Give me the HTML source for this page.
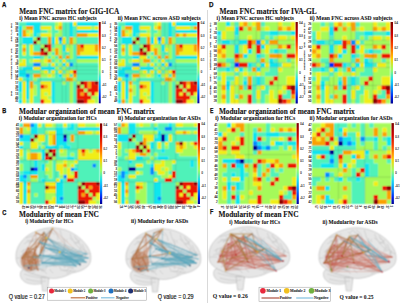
<!DOCTYPE html>
<html><head><meta charset="utf-8"><style>
html,body{margin:0;padding:0;background:#fff;width:400px;height:303px;overflow:hidden}
svg{display:block}
</style></head><body>
<svg xmlns="http://www.w3.org/2000/svg" width="400" height="303" viewBox="0 0 400 303">
<defs><filter id="mblur" x="-2%" y="-2%" width="104%" height="104%"><feConvolveMatrix order="3" kernelMatrix="1 2 1 2 4 2 1 2 1" divisor="16" edgeMode="none"/></filter><linearGradient id="jet" x1="0" y1="0" x2="0" y2="1"><stop offset="0" stop-color="#7a0000"/><stop offset="0.15" stop-color="#d00000"/><stop offset="0.3" stop-color="#ff5000"/><stop offset="0.45" stop-color="#ffd000"/><stop offset="0.58" stop-color="#a0ff60"/><stop offset="0.7" stop-color="#20e0f0"/><stop offset="0.82" stop-color="#0090ff"/><stop offset="0.92" stop-color="#0020f0"/><stop offset="1" stop-color="#000090"/></linearGradient></defs>
<rect width="400" height="303" fill="#fff"/>
<line x1="207.5" y1="10" x2="207.5" y2="303" stroke="#c8c8c8" stroke-width="0.7"/>
<text x="1.9" y="6.9" font-family="Liberation Sans" font-weight="bold" font-size="6.6" fill="#111" textLength="4.3" lengthAdjust="spacingAndGlyphs" stroke="#111" stroke-width="0.25">A</text>
<text x="2.2" y="112.5" font-family="Liberation Sans" font-weight="bold" font-size="6.6" fill="#111" textLength="4.0" lengthAdjust="spacingAndGlyphs" stroke="#111" stroke-width="0.25">B</text>
<text x="2.2" y="214.70000000000002" font-family="Liberation Sans" font-weight="bold" font-size="6.6" fill="#111" textLength="4.1" lengthAdjust="spacingAndGlyphs" stroke="#111" stroke-width="0.25">C</text>
<text x="209" y="6.9" font-family="Liberation Sans" font-weight="bold" font-size="6.6" fill="#111" textLength="4.5" lengthAdjust="spacingAndGlyphs" stroke="#111" stroke-width="0.25">D</text>
<text x="209.9" y="112.80000000000001" font-family="Liberation Sans" font-weight="bold" font-size="6.6" fill="#111" textLength="3.4" lengthAdjust="spacingAndGlyphs" stroke="#111" stroke-width="0.25">E</text>
<text x="210" y="214.4" font-family="Liberation Sans" font-weight="bold" font-size="6.6" fill="#111" textLength="3.3" lengthAdjust="spacingAndGlyphs" stroke="#111" stroke-width="0.25">F</text>
<text x="19.2" y="13.7" font-family="Liberation Serif" font-weight="bold" font-size="7.6" fill="#111" textLength="100" lengthAdjust="spacingAndGlyphs" stroke="#111" stroke-width="0.1">Mean FNC matrix for GIG-ICA</text>
<text x="219.6" y="13.7" font-family="Liberation Serif" font-weight="bold" font-size="7.6" fill="#111" textLength="97.2" lengthAdjust="spacingAndGlyphs" stroke="#111" stroke-width="0.1">Mean FNC matrix for IVA-GL</text>
<text x="19.0" y="114.3" font-family="Liberation Serif" font-weight="bold" font-size="7.6" fill="#111" textLength="135.7" lengthAdjust="spacingAndGlyphs" stroke="#111" stroke-width="0.1">Modular organization of mean FNC matrix</text>
<text x="218.9" y="114.3" font-family="Liberation Serif" font-weight="bold" font-size="7.6" fill="#111" textLength="135.8" lengthAdjust="spacingAndGlyphs" stroke="#111" stroke-width="0.1">Modular organization of mean FNC matrix</text>
<text x="19.0" y="216.6" font-family="Liberation Serif" font-weight="bold" font-size="7.6" fill="#111" textLength="79.8" lengthAdjust="spacingAndGlyphs" stroke="#111" stroke-width="0.1">Modularity of mean FNC</text>
<text x="218.5" y="216.6" font-family="Liberation Serif" font-weight="bold" font-size="7.6" fill="#111" textLength="80" lengthAdjust="spacingAndGlyphs" stroke="#111" stroke-width="0.1">Modularity of mean FNC</text>
<text x="19.2" y="19.900000000000002" font-family="Liberation Serif" font-weight="bold" font-size="5.3" fill="#111" textLength="77.5" lengthAdjust="spacingAndGlyphs" stroke="#111" stroke-width="0.06">i) Mean FNC across HC subjects</text>
<text x="117.7" y="19.900000000000002" font-family="Liberation Serif" font-weight="bold" font-size="5.3" fill="#111" textLength="82.9" lengthAdjust="spacingAndGlyphs" stroke="#111" stroke-width="0.06">ii) Mean FNC across ASD subjects</text>
<text x="216.6" y="19.900000000000002" font-family="Liberation Serif" font-weight="bold" font-size="5.3" fill="#111" textLength="77.4" lengthAdjust="spacingAndGlyphs" stroke="#111" stroke-width="0.06">i) Mean FNC across HC subjects</text>
<text x="309.7" y="19.900000000000002" font-family="Liberation Serif" font-weight="bold" font-size="5.3" fill="#111" textLength="82.8" lengthAdjust="spacingAndGlyphs" stroke="#111" stroke-width="0.06">ii) Mean FNC across ASD subjects</text>
<text x="18.7" y="120.3" font-family="Liberation Serif" font-weight="bold" font-size="5.3" fill="#111" textLength="78" lengthAdjust="spacingAndGlyphs" stroke="#111" stroke-width="0.06">i) Modular organization for HCs</text>
<text x="118" y="120.3" font-family="Liberation Serif" font-weight="bold" font-size="5.3" fill="#111" textLength="82.6" lengthAdjust="spacingAndGlyphs" stroke="#111" stroke-width="0.06">ii) Modular organization for ASDs</text>
<text x="215.2" y="120.3" font-family="Liberation Serif" font-weight="bold" font-size="5.3" fill="#111" textLength="80" lengthAdjust="spacingAndGlyphs" stroke="#111" stroke-width="0.06">i) Modular organization for HCs</text>
<text x="309.5" y="120.3" font-family="Liberation Serif" font-weight="bold" font-size="5.3" fill="#111" textLength="83" lengthAdjust="spacingAndGlyphs" stroke="#111" stroke-width="0.06">ii) Modular organization for ASDs</text>
<text x="25.2" y="223.4" font-family="Liberation Serif" font-weight="bold" font-size="5.3" fill="#111" textLength="48" lengthAdjust="spacingAndGlyphs" stroke="#111" stroke-width="0.06">i) Modularity for HCs</text>
<text x="131" y="223.4" font-family="Liberation Serif" font-weight="bold" font-size="5.3" fill="#111" textLength="57.2" lengthAdjust="spacingAndGlyphs" stroke="#111" stroke-width="0.06">ii) Modularity for ASDs</text>
<text x="229.3" y="223.5" font-family="Liberation Serif" font-weight="bold" font-size="5.3" fill="#111" textLength="50.7" lengthAdjust="spacingAndGlyphs" stroke="#111" stroke-width="0.06">i) Modularity for HCs</text>
<text x="322.4" y="223.5" font-family="Liberation Serif" font-weight="bold" font-size="5.3" fill="#111" textLength="55.2" lengthAdjust="spacingAndGlyphs" stroke="#111" stroke-width="0.06">ii) Modularity for ASDs</text>
<g filter="url(#mblur)">
<path fill="#50f2b9" d="M18.80 22.30h7.24v3.68h-7.24zM40.51 22.30h14.47v3.68h-14.47zM62.22 22.30h7.24v3.68h-7.24zM51.36 25.98h3.62v3.68h-3.62zM62.22 25.98h7.24v3.68h-7.24zM73.07 25.98h3.62v3.68h-3.62zM40.51 29.65h7.24v3.68h-7.24zM51.36 29.65h7.24v3.68h-7.24zM62.22 29.65h7.24v3.68h-7.24zM73.07 29.65h3.62v3.68h-3.62zM36.89 33.33h3.62v3.68h-3.62zM51.36 33.33h3.62v3.68h-3.62zM62.22 33.33h7.24v3.68h-7.24zM73.07 33.33h3.62v3.68h-3.62zM18.80 37.01h3.62v3.68h-3.62zM40.51 37.01h7.24v3.68h-7.24zM65.84 37.01h3.62v3.68h-3.62zM76.69 37.01h21.71v3.68h-21.71zM18.80 40.69h3.62v3.68h-3.62zM40.51 40.69h7.24v3.68h-7.24zM65.84 40.69h3.62v3.68h-3.62zM76.69 40.69h21.71v3.68h-21.71zM18.80 44.36h3.62v3.68h-3.62zM26.04 44.36h3.62v3.68h-3.62zM33.27 44.36h7.24v3.68h-7.24zM51.36 44.36h3.62v3.68h-3.62zM73.07 44.36h3.62v3.68h-3.62zM18.80 48.04h3.62v3.68h-3.62zM26.04 48.04h3.62v3.68h-3.62zM33.27 48.04h7.24v3.68h-7.24zM73.07 48.04h3.62v3.68h-3.62zM18.80 51.72h3.62v3.68h-3.62zM26.04 51.72h3.62v3.68h-3.62zM51.36 51.72h3.62v3.68h-3.62zM62.22 51.72h7.24v3.68h-7.24zM73.07 51.72h3.62v3.68h-3.62zM18.80 55.40h14.47v3.68h-14.47zM40.51 55.40h3.62v3.68h-3.62zM47.75 55.40h3.62v3.68h-3.62zM54.98 55.40h3.62v3.68h-3.62zM62.22 55.40h3.62v3.68h-3.62zM73.07 55.40h3.62v3.68h-3.62zM26.04 59.07h3.62v3.68h-3.62zM51.36 59.07h3.62v3.68h-3.62zM58.60 59.07h3.62v3.68h-3.62zM65.84 59.07h10.85v3.68h-10.85zM26.04 62.75h7.24v3.68h-7.24zM47.75 62.75h3.62v3.68h-3.62zM54.98 62.75h3.62v3.68h-3.62zM73.07 62.75h25.33v3.68h-25.33zM18.80 66.43h3.62v3.68h-3.62zM58.60 66.43h3.62v3.68h-3.62zM65.84 66.43h32.56v3.68h-32.56zM26.04 70.10h14.47v3.68h-14.47zM47.75 70.10h3.62v3.68h-3.62zM54.98 70.10h3.62v3.68h-3.62zM62.22 70.10h3.62v3.68h-3.62zM76.69 70.10h21.71v3.68h-21.71zM29.65 73.78h3.62v3.68h-3.62zM54.98 73.78h3.62v3.68h-3.62zM69.45 73.78h3.62v3.68h-3.62zM76.69 73.78h21.71v3.68h-21.71zM22.42 77.46h3.62v3.68h-3.62zM29.65 77.46h3.62v3.68h-3.62zM36.89 77.46h28.95v3.68h-28.95zM76.69 77.46h21.71v3.68h-21.71zM33.27 81.14h7.24v3.68h-7.24zM54.98 81.14h7.24v3.68h-7.24zM65.84 81.14h3.62v3.68h-3.62zM73.07 81.14h3.62v3.68h-3.62zM36.89 84.81h3.62v3.68h-3.62zM54.98 84.81h14.47v3.68h-14.47zM73.07 84.81h3.62v3.68h-3.62zM36.89 88.49h3.62v3.68h-3.62zM54.98 88.49h14.47v3.68h-14.47zM73.07 88.49h3.62v3.68h-3.62zM18.80 92.17h3.62v3.68h-3.62zM36.89 92.17h3.62v3.68h-3.62zM54.98 92.17h14.47v3.68h-14.47zM73.07 92.17h3.62v3.68h-3.62zM18.80 95.85h3.62v3.68h-3.62zM33.27 95.85h7.24v3.68h-7.24zM54.98 95.85h14.47v3.68h-14.47zM73.07 95.85h3.62v3.68h-3.62zM26.04 99.52h3.62v3.68h-3.62zM33.27 99.52h7.24v3.68h-7.24zM54.98 99.52h14.47v3.68h-14.47zM73.07 99.52h3.62v3.68h-3.62z"/>
<path fill="#0ae6ee" d="M26.04 22.30h14.47v3.68h-14.47zM69.45 22.30h3.62v3.68h-3.62zM76.69 22.30h21.71v3.68h-21.71zM18.80 25.98h3.62v3.68h-3.62zM33.27 25.98h7.24v3.68h-7.24zM69.45 25.98h3.62v3.68h-3.62zM18.80 29.65h3.62v3.68h-3.62zM33.27 29.65h7.24v3.68h-7.24zM69.45 29.65h3.62v3.68h-3.62zM76.69 29.65h21.71v3.68h-21.71zM18.80 33.33h3.62v3.68h-3.62zM33.27 33.33h3.62v3.68h-3.62zM69.45 33.33h3.62v3.68h-3.62zM22.42 37.01h10.85v3.68h-10.85zM51.36 37.01h3.62v3.68h-3.62zM22.42 40.69h10.85v3.68h-10.85zM51.36 40.69h3.62v3.68h-3.62zM58.60 40.69h3.62v3.68h-3.62zM62.22 44.36h3.62v3.68h-3.62zM62.22 48.04h3.62v3.68h-3.62zM33.27 55.40h7.24v3.68h-7.24zM76.69 55.40h21.71v3.68h-21.71zM62.22 62.75h3.62v3.68h-3.62zM22.42 66.43h10.85v3.68h-10.85zM40.51 66.43h14.47v3.68h-14.47zM18.80 70.10h7.24v3.68h-7.24zM18.80 73.78h7.24v3.68h-7.24zM58.60 73.78h3.62v3.68h-3.62zM26.04 77.46h3.62v3.68h-3.62zM18.80 81.14h3.62v3.68h-3.62zM26.04 81.14h3.62v3.68h-3.62zM51.36 81.14h3.62v3.68h-3.62zM18.80 84.81h3.62v3.68h-3.62zM26.04 84.81h3.62v3.68h-3.62zM51.36 84.81h3.62v3.68h-3.62zM18.80 88.49h3.62v3.68h-3.62zM26.04 88.49h3.62v3.68h-3.62zM51.36 88.49h3.62v3.68h-3.62zM26.04 92.17h3.62v3.68h-3.62zM51.36 92.17h3.62v3.68h-3.62zM26.04 95.85h3.62v3.68h-3.62zM51.36 95.85h3.62v3.68h-3.62zM18.80 99.52h3.62v3.68h-3.62zM51.36 99.52h3.62v3.68h-3.62z"/>
<path fill="#a5fa5a" d="M54.98 22.30h3.62v3.68h-3.62zM22.42 25.98h3.62v3.68h-3.62zM91.16 25.98h3.62v3.68h-3.62zM26.04 29.65h3.62v3.68h-3.62zM47.75 29.65h3.62v3.68h-3.62zM58.60 29.65h3.62v3.68h-3.62zM29.65 33.33h3.62v3.68h-3.62zM54.98 33.33h7.24v3.68h-7.24zM33.27 37.01h3.62v3.68h-3.62zM73.07 37.01h3.62v3.68h-3.62zM36.89 40.69h3.62v3.68h-3.62zM73.07 40.69h3.62v3.68h-3.62zM40.51 44.36h3.62v3.68h-3.62zM54.98 44.36h7.24v3.68h-7.24zM65.84 44.36h7.24v3.68h-7.24zM44.13 48.04h3.62v3.68h-3.62zM51.36 48.04h3.62v3.68h-3.62zM58.60 48.04h3.62v3.68h-3.62zM69.45 48.04h3.62v3.68h-3.62zM47.75 51.72h3.62v3.68h-3.62zM58.60 51.72h3.62v3.68h-3.62zM69.45 51.72h3.62v3.68h-3.62zM44.13 55.40h3.62v3.68h-3.62zM51.36 55.40h3.62v3.68h-3.62zM69.45 55.40h3.62v3.68h-3.62zM18.80 59.07h3.62v3.68h-3.62zM29.65 59.07h3.62v3.68h-3.62zM40.51 59.07h3.62v3.68h-3.62zM54.98 59.07h3.62v3.68h-3.62zM76.69 59.07h21.71v3.68h-21.71zM40.51 62.75h7.24v3.68h-7.24zM58.60 62.75h3.62v3.68h-3.62zM54.98 66.43h3.62v3.68h-3.62zM62.22 66.43h3.62v3.68h-3.62zM40.51 70.10h3.62v3.68h-3.62zM65.84 70.10h3.62v3.68h-3.62zM40.51 73.78h7.24v3.68h-7.24zM51.36 73.78h3.62v3.68h-3.62zM62.22 73.78h3.62v3.68h-3.62zM33.27 77.46h3.62v3.68h-3.62zM73.07 77.46h3.62v3.68h-3.62zM62.22 81.14h3.62v3.68h-3.62zM69.45 81.14h3.62v3.68h-3.62zM76.69 81.14h3.62v3.68h-3.62zM33.27 84.81h3.62v3.68h-3.62zM69.45 84.81h3.62v3.68h-3.62zM80.31 84.81h3.62v3.68h-3.62zM33.27 88.49h3.62v3.68h-3.62zM69.45 88.49h3.62v3.68h-3.62zM83.93 88.49h3.62v3.68h-3.62zM33.27 92.17h3.62v3.68h-3.62zM44.13 92.17h3.62v3.68h-3.62zM69.45 92.17h3.62v3.68h-3.62zM87.55 92.17h3.62v3.68h-3.62zM47.75 95.85h3.62v3.68h-3.62zM69.45 95.85h3.62v3.68h-3.62zM91.16 95.85h7.24v3.68h-7.24zM69.45 99.52h3.62v3.68h-3.62zM94.78 99.52h3.62v3.68h-3.62z"/>
<path fill="#f0ee14" d="M58.60 22.30h3.62v3.68h-3.62zM73.07 22.30h3.62v3.68h-3.62zM40.51 25.98h10.85v3.68h-10.85zM54.98 25.98h3.62v3.68h-3.62zM76.69 25.98h14.47v3.68h-14.47zM94.78 25.98h3.62v3.68h-3.62zM29.65 29.65h3.62v3.68h-3.62zM26.04 33.33h3.62v3.68h-3.62zM40.51 33.33h10.85v3.68h-10.85zM87.55 33.33h10.85v3.68h-10.85zM54.98 37.01h3.62v3.68h-3.62zM62.22 37.01h3.62v3.68h-3.62zM54.98 40.69h3.62v3.68h-3.62zM62.22 40.69h3.62v3.68h-3.62zM22.42 44.36h3.62v3.68h-3.62zM29.65 44.36h3.62v3.68h-3.62zM83.93 44.36h10.85v3.68h-10.85zM29.65 48.04h3.62v3.68h-3.62zM65.84 48.04h3.62v3.68h-3.62zM83.93 48.04h10.85v3.68h-10.85zM22.42 51.72h3.62v3.68h-3.62zM29.65 51.72h3.62v3.68h-3.62zM80.31 51.72h18.09v3.68h-18.09zM22.42 59.07h3.62v3.68h-3.62zM33.27 59.07h7.24v3.68h-7.24zM44.13 59.07h3.62v3.68h-3.62zM62.22 59.07h3.62v3.68h-3.62zM18.80 62.75h7.24v3.68h-7.24zM51.36 62.75h3.62v3.68h-3.62zM65.84 62.75h3.62v3.68h-3.62zM33.27 66.43h7.24v3.68h-7.24zM44.13 70.10h3.62v3.68h-3.62zM51.36 70.10h3.62v3.68h-3.62zM58.60 70.10h3.62v3.68h-3.62zM69.45 70.10h3.62v3.68h-3.62zM47.75 73.78h3.62v3.68h-3.62zM65.84 73.78h3.62v3.68h-3.62zM18.80 77.46h3.62v3.68h-3.62zM22.42 81.14h3.62v3.68h-3.62zM40.51 81.14h10.85v3.68h-10.85zM22.42 84.81h3.62v3.68h-3.62zM47.75 84.81h3.62v3.68h-3.62zM22.42 88.49h3.62v3.68h-3.62zM29.65 88.49h3.62v3.68h-3.62zM40.51 88.49h10.85v3.68h-10.85zM22.42 92.17h3.62v3.68h-3.62zM29.65 92.17h3.62v3.68h-3.62zM40.51 92.17h3.62v3.68h-3.62zM47.75 92.17h3.62v3.68h-3.62zM94.78 92.17h3.62v3.68h-3.62zM22.42 95.85h3.62v3.68h-3.62zM29.65 95.85h3.62v3.68h-3.62zM40.51 95.85h7.24v3.68h-7.24zM22.42 99.52h3.62v3.68h-3.62zM29.65 99.52h3.62v3.68h-3.62zM44.13 99.52h7.24v3.68h-7.24zM87.55 99.52h7.24v3.68h-7.24z"/>
<path fill="#faa000" d="M26.04 25.98h7.24v3.68h-7.24zM58.60 25.98h3.62v3.68h-3.62zM22.42 29.65h3.62v3.68h-3.62zM22.42 33.33h3.62v3.68h-3.62zM76.69 33.33h10.85v3.68h-10.85zM47.75 37.01h3.62v3.68h-3.62zM69.45 37.01h3.62v3.68h-3.62zM47.75 40.69h3.62v3.68h-3.62zM69.45 40.69h3.62v3.68h-3.62zM76.69 44.36h3.62v3.68h-3.62zM94.78 44.36h3.62v3.68h-3.62zM22.42 48.04h3.62v3.68h-3.62zM54.98 48.04h3.62v3.68h-3.62zM76.69 48.04h7.24v3.68h-7.24zM94.78 48.04h3.62v3.68h-3.62zM33.27 51.72h7.24v3.68h-7.24zM54.98 51.72h3.62v3.68h-3.62zM76.69 51.72h3.62v3.68h-3.62zM58.60 55.40h3.62v3.68h-3.62zM65.84 55.40h3.62v3.68h-3.62zM47.75 59.07h3.62v3.68h-3.62zM33.27 73.78h7.24v3.68h-7.24zM73.07 73.78h3.62v3.68h-3.62zM65.84 77.46h7.24v3.68h-7.24zM29.65 81.14h3.62v3.68h-3.62zM87.55 81.14h3.62v3.68h-3.62zM29.65 84.81h3.62v3.68h-3.62zM44.13 84.81h3.62v3.68h-3.62zM87.55 84.81h3.62v3.68h-3.62zM80.31 92.17h3.62v3.68h-3.62z"/>
<path fill="#8c0000" d="M36.89 37.01h3.62v3.68h-3.62zM33.27 40.69h3.62v3.68h-3.62zM44.13 44.36h3.62v3.68h-3.62zM40.51 48.04h3.62v3.68h-3.62zM44.13 51.72h3.62v3.68h-3.62zM80.31 81.14h3.62v3.68h-3.62zM94.78 81.14h3.62v3.68h-3.62zM76.69 84.81h3.62v3.68h-3.62zM76.69 99.52h7.24v3.68h-7.24z"/>
<path fill="#008cff" d="M58.60 37.01h3.62v3.68h-3.62zM33.27 62.75h7.24v3.68h-7.24zM69.45 62.75h3.62v3.68h-3.62zM26.04 73.78h3.62v3.68h-3.62z"/>
<path fill="#eb1900" d="M47.75 44.36h3.62v3.68h-3.62zM80.31 44.36h3.62v3.68h-3.62zM47.75 48.04h3.62v3.68h-3.62zM40.51 51.72h3.62v3.68h-3.62zM73.07 70.10h3.62v3.68h-3.62zM83.93 81.14h3.62v3.68h-3.62zM91.16 81.14h3.62v3.68h-3.62zM40.51 84.81h3.62v3.68h-3.62zM83.93 84.81h3.62v3.68h-3.62zM91.16 84.81h7.24v3.68h-7.24zM76.69 88.49h7.24v3.68h-7.24zM87.55 88.49h10.85v3.68h-10.85zM76.69 92.17h3.62v3.68h-3.62zM83.93 92.17h3.62v3.68h-3.62zM91.16 92.17h3.62v3.68h-3.62zM76.69 95.85h14.47v3.68h-14.47zM40.51 99.52h3.62v3.68h-3.62zM83.93 99.52h3.62v3.68h-3.62z"/>
<path fill="#50f2b9" d="M117.90 22.30h7.22v3.68h-7.22zM139.55 22.30h14.44v3.68h-14.44zM161.21 22.30h7.22v3.68h-7.22zM150.38 25.98h3.61v3.68h-3.61zM161.21 25.98h7.22v3.68h-7.22zM172.04 25.98h3.61v3.68h-3.61zM139.55 29.65h7.22v3.68h-7.22zM150.38 29.65h7.22v3.68h-7.22zM161.21 29.65h7.22v3.68h-7.22zM172.04 29.65h3.61v3.68h-3.61zM135.95 33.33h3.61v3.68h-3.61zM150.38 33.33h3.61v3.68h-3.61zM161.21 33.33h7.22v3.68h-7.22zM172.04 33.33h3.61v3.68h-3.61zM117.90 37.01h3.61v3.68h-3.61zM139.55 37.01h7.22v3.68h-7.22zM164.82 37.01h3.61v3.68h-3.61zM175.65 37.01h21.65v3.68h-21.65zM117.90 40.69h3.61v3.68h-3.61zM139.55 40.69h7.22v3.68h-7.22zM164.82 40.69h3.61v3.68h-3.61zM175.65 40.69h21.65v3.68h-21.65zM117.90 44.36h3.61v3.68h-3.61zM125.12 44.36h3.61v3.68h-3.61zM132.34 44.36h7.22v3.68h-7.22zM172.04 44.36h3.61v3.68h-3.61zM117.90 48.04h3.61v3.68h-3.61zM125.12 48.04h3.61v3.68h-3.61zM132.34 48.04h7.22v3.68h-7.22zM172.04 48.04h3.61v3.68h-3.61zM117.90 51.72h3.61v3.68h-3.61zM125.12 51.72h3.61v3.68h-3.61zM150.38 51.72h3.61v3.68h-3.61zM161.21 51.72h7.22v3.68h-7.22zM172.04 51.72h3.61v3.68h-3.61zM117.90 55.40h14.44v3.68h-14.44zM146.77 55.40h3.61v3.68h-3.61zM153.99 55.40h3.61v3.68h-3.61zM161.21 55.40h3.61v3.68h-3.61zM172.04 55.40h3.61v3.68h-3.61zM125.12 59.07h3.61v3.68h-3.61zM150.38 59.07h3.61v3.68h-3.61zM157.60 59.07h3.61v3.68h-3.61zM164.82 59.07h10.83v3.68h-10.83zM125.12 62.75h7.22v3.68h-7.22zM146.77 62.75h3.61v3.68h-3.61zM153.99 62.75h3.61v3.68h-3.61zM172.04 62.75h25.26v3.68h-25.26zM117.90 66.43h3.61v3.68h-3.61zM157.60 66.43h3.61v3.68h-3.61zM164.82 66.43h32.48v3.68h-32.48zM125.12 70.10h14.44v3.68h-14.44zM146.77 70.10h3.61v3.68h-3.61zM153.99 70.10h3.61v3.68h-3.61zM161.21 70.10h3.61v3.68h-3.61zM175.65 70.10h21.65v3.68h-21.65zM128.73 73.78h3.61v3.68h-3.61zM153.99 73.78h3.61v3.68h-3.61zM168.43 73.78h3.61v3.68h-3.61zM175.65 73.78h21.65v3.68h-21.65zM121.51 77.46h3.61v3.68h-3.61zM128.73 77.46h3.61v3.68h-3.61zM135.95 77.46h28.87v3.68h-28.87zM175.65 77.46h21.65v3.68h-21.65zM132.34 81.14h7.22v3.68h-7.22zM153.99 81.14h7.22v3.68h-7.22zM164.82 81.14h3.61v3.68h-3.61zM172.04 81.14h3.61v3.68h-3.61zM135.95 84.81h3.61v3.68h-3.61zM153.99 84.81h14.44v3.68h-14.44zM172.04 84.81h3.61v3.68h-3.61zM135.95 88.49h3.61v3.68h-3.61zM153.99 88.49h14.44v3.68h-14.44zM172.04 88.49h3.61v3.68h-3.61zM117.90 92.17h3.61v3.68h-3.61zM135.95 92.17h3.61v3.68h-3.61zM153.99 92.17h14.44v3.68h-14.44zM172.04 92.17h3.61v3.68h-3.61zM117.90 95.85h3.61v3.68h-3.61zM132.34 95.85h7.22v3.68h-7.22zM153.99 95.85h14.44v3.68h-14.44zM172.04 95.85h3.61v3.68h-3.61zM125.12 99.52h3.61v3.68h-3.61zM132.34 99.52h7.22v3.68h-7.22zM153.99 99.52h14.44v3.68h-14.44zM172.04 99.52h3.61v3.68h-3.61z"/>
<path fill="#0ae6ee" d="M125.12 22.30h14.44v3.68h-14.44zM168.43 22.30h3.61v3.68h-3.61zM175.65 22.30h21.65v3.68h-21.65zM117.90 25.98h3.61v3.68h-3.61zM132.34 25.98h7.22v3.68h-7.22zM168.43 25.98h3.61v3.68h-3.61zM117.90 29.65h3.61v3.68h-3.61zM132.34 29.65h7.22v3.68h-7.22zM168.43 29.65h3.61v3.68h-3.61zM175.65 29.65h21.65v3.68h-21.65zM117.90 33.33h3.61v3.68h-3.61zM132.34 33.33h3.61v3.68h-3.61zM168.43 33.33h3.61v3.68h-3.61zM121.51 37.01h10.83v3.68h-10.83zM150.38 37.01h3.61v3.68h-3.61zM121.51 40.69h10.83v3.68h-10.83zM150.38 40.69h3.61v3.68h-3.61zM157.60 40.69h3.61v3.68h-3.61zM161.21 44.36h3.61v3.68h-3.61zM161.21 48.04h3.61v3.68h-3.61zM132.34 55.40h7.22v3.68h-7.22zM175.65 55.40h21.65v3.68h-21.65zM161.21 62.75h3.61v3.68h-3.61zM121.51 66.43h10.83v3.68h-10.83zM139.55 66.43h14.44v3.68h-14.44zM117.90 70.10h7.22v3.68h-7.22zM117.90 73.78h7.22v3.68h-7.22zM157.60 73.78h3.61v3.68h-3.61zM125.12 77.46h3.61v3.68h-3.61zM117.90 81.14h3.61v3.68h-3.61zM125.12 81.14h3.61v3.68h-3.61zM150.38 81.14h3.61v3.68h-3.61zM117.90 84.81h3.61v3.68h-3.61zM125.12 84.81h3.61v3.68h-3.61zM150.38 84.81h3.61v3.68h-3.61zM117.90 88.49h3.61v3.68h-3.61zM125.12 88.49h3.61v3.68h-3.61zM150.38 88.49h3.61v3.68h-3.61zM125.12 92.17h3.61v3.68h-3.61zM150.38 92.17h3.61v3.68h-3.61zM125.12 95.85h3.61v3.68h-3.61zM150.38 95.85h3.61v3.68h-3.61zM117.90 99.52h3.61v3.68h-3.61zM150.38 99.52h3.61v3.68h-3.61z"/>
<path fill="#a5fa5a" d="M153.99 22.30h3.61v3.68h-3.61zM121.51 25.98h3.61v3.68h-3.61zM190.08 25.98h3.61v3.68h-3.61zM125.12 29.65h3.61v3.68h-3.61zM146.77 29.65h3.61v3.68h-3.61zM157.60 29.65h3.61v3.68h-3.61zM128.73 33.33h3.61v3.68h-3.61zM153.99 33.33h7.22v3.68h-7.22zM132.34 37.01h3.61v3.68h-3.61zM172.04 37.01h3.61v3.68h-3.61zM135.95 40.69h3.61v3.68h-3.61zM172.04 40.69h3.61v3.68h-3.61zM139.55 44.36h3.61v3.68h-3.61zM153.99 44.36h7.22v3.68h-7.22zM164.82 44.36h7.22v3.68h-7.22zM143.16 48.04h3.61v3.68h-3.61zM157.60 48.04h3.61v3.68h-3.61zM168.43 48.04h3.61v3.68h-3.61zM146.77 51.72h3.61v3.68h-3.61zM157.60 51.72h3.61v3.68h-3.61zM168.43 51.72h3.61v3.68h-3.61zM150.38 55.40h3.61v3.68h-3.61zM168.43 55.40h3.61v3.68h-3.61zM117.90 59.07h3.61v3.68h-3.61zM128.73 59.07h3.61v3.68h-3.61zM139.55 59.07h3.61v3.68h-3.61zM153.99 59.07h3.61v3.68h-3.61zM175.65 59.07h21.65v3.68h-21.65zM139.55 62.75h7.22v3.68h-7.22zM157.60 62.75h3.61v3.68h-3.61zM153.99 66.43h3.61v3.68h-3.61zM161.21 66.43h3.61v3.68h-3.61zM139.55 70.10h3.61v3.68h-3.61zM164.82 70.10h3.61v3.68h-3.61zM139.55 73.78h7.22v3.68h-7.22zM150.38 73.78h3.61v3.68h-3.61zM161.21 73.78h3.61v3.68h-3.61zM132.34 77.46h3.61v3.68h-3.61zM172.04 77.46h3.61v3.68h-3.61zM161.21 81.14h3.61v3.68h-3.61zM168.43 81.14h3.61v3.68h-3.61zM175.65 81.14h3.61v3.68h-3.61zM132.34 84.81h3.61v3.68h-3.61zM168.43 84.81h3.61v3.68h-3.61zM179.25 84.81h3.61v3.68h-3.61zM132.34 88.49h3.61v3.68h-3.61zM168.43 88.49h3.61v3.68h-3.61zM182.86 88.49h3.61v3.68h-3.61zM132.34 92.17h3.61v3.68h-3.61zM143.16 92.17h3.61v3.68h-3.61zM168.43 92.17h3.61v3.68h-3.61zM186.47 92.17h3.61v3.68h-3.61zM146.77 95.85h3.61v3.68h-3.61zM168.43 95.85h3.61v3.68h-3.61zM190.08 95.85h7.22v3.68h-7.22zM168.43 99.52h3.61v3.68h-3.61zM193.69 99.52h3.61v3.68h-3.61z"/>
<path fill="#f0ee14" d="M157.60 22.30h3.61v3.68h-3.61zM172.04 22.30h3.61v3.68h-3.61zM139.55 25.98h10.83v3.68h-10.83zM153.99 25.98h3.61v3.68h-3.61zM175.65 25.98h14.44v3.68h-14.44zM128.73 29.65h3.61v3.68h-3.61zM125.12 33.33h3.61v3.68h-3.61zM139.55 33.33h10.83v3.68h-10.83zM179.25 33.33h3.61v3.68h-3.61zM186.47 33.33h10.83v3.68h-10.83zM153.99 37.01h3.61v3.68h-3.61zM161.21 37.01h3.61v3.68h-3.61zM153.99 40.69h3.61v3.68h-3.61zM161.21 40.69h3.61v3.68h-3.61zM121.51 44.36h3.61v3.68h-3.61zM128.73 44.36h3.61v3.68h-3.61zM150.38 44.36h3.61v3.68h-3.61zM182.86 44.36h10.83v3.68h-10.83zM128.73 48.04h3.61v3.68h-3.61zM150.38 48.04h3.61v3.68h-3.61zM164.82 48.04h3.61v3.68h-3.61zM182.86 48.04h10.83v3.68h-10.83zM121.51 51.72h3.61v3.68h-3.61zM128.73 51.72h3.61v3.68h-3.61zM179.25 51.72h18.05v3.68h-18.05zM139.55 55.40h7.22v3.68h-7.22zM121.51 59.07h3.61v3.68h-3.61zM132.34 59.07h7.22v3.68h-7.22zM161.21 59.07h3.61v3.68h-3.61zM117.90 62.75h7.22v3.68h-7.22zM150.38 62.75h3.61v3.68h-3.61zM164.82 62.75h3.61v3.68h-3.61zM132.34 66.43h7.22v3.68h-7.22zM143.16 70.10h3.61v3.68h-3.61zM150.38 70.10h3.61v3.68h-3.61zM157.60 70.10h3.61v3.68h-3.61zM168.43 70.10h3.61v3.68h-3.61zM146.77 73.78h3.61v3.68h-3.61zM164.82 73.78h3.61v3.68h-3.61zM117.90 77.46h3.61v3.68h-3.61zM121.51 81.14h3.61v3.68h-3.61zM139.55 81.14h10.83v3.68h-10.83zM121.51 84.81h3.61v3.68h-3.61zM128.73 84.81h3.61v3.68h-3.61zM146.77 84.81h3.61v3.68h-3.61zM186.47 84.81h3.61v3.68h-3.61zM121.51 88.49h3.61v3.68h-3.61zM139.55 88.49h10.83v3.68h-10.83zM121.51 92.17h3.61v3.68h-3.61zM128.73 92.17h3.61v3.68h-3.61zM139.55 92.17h3.61v3.68h-3.61zM146.77 92.17h3.61v3.68h-3.61zM179.25 92.17h3.61v3.68h-3.61zM193.69 92.17h3.61v3.68h-3.61zM121.51 95.85h3.61v3.68h-3.61zM128.73 95.85h3.61v3.68h-3.61zM139.55 95.85h7.22v3.68h-7.22zM128.73 99.52h3.61v3.68h-3.61zM143.16 99.52h7.22v3.68h-7.22zM186.47 99.52h7.22v3.68h-7.22z"/>
<path fill="#faa000" d="M125.12 25.98h7.22v3.68h-7.22zM157.60 25.98h3.61v3.68h-3.61zM193.69 25.98h3.61v3.68h-3.61zM121.51 29.65h3.61v3.68h-3.61zM121.51 33.33h3.61v3.68h-3.61zM175.65 33.33h3.61v3.68h-3.61zM182.86 33.33h3.61v3.68h-3.61zM146.77 37.01h3.61v3.68h-3.61zM168.43 37.01h3.61v3.68h-3.61zM146.77 40.69h3.61v3.68h-3.61zM168.43 40.69h3.61v3.68h-3.61zM175.65 44.36h3.61v3.68h-3.61zM193.69 44.36h3.61v3.68h-3.61zM121.51 48.04h3.61v3.68h-3.61zM153.99 48.04h3.61v3.68h-3.61zM175.65 48.04h7.22v3.68h-7.22zM193.69 48.04h3.61v3.68h-3.61zM132.34 51.72h7.22v3.68h-7.22zM153.99 51.72h3.61v3.68h-3.61zM175.65 51.72h3.61v3.68h-3.61zM157.60 55.40h3.61v3.68h-3.61zM164.82 55.40h3.61v3.68h-3.61zM143.16 59.07h7.22v3.68h-7.22zM132.34 73.78h7.22v3.68h-7.22zM172.04 73.78h3.61v3.68h-3.61zM164.82 77.46h7.22v3.68h-7.22zM128.73 81.14h3.61v3.68h-3.61zM186.47 81.14h3.61v3.68h-3.61zM143.16 84.81h3.61v3.68h-3.61zM128.73 88.49h3.61v3.68h-3.61zM121.51 99.52h3.61v3.68h-3.61z"/>
<path fill="#8c0000" d="M135.95 37.01h3.61v3.68h-3.61zM132.34 40.69h3.61v3.68h-3.61zM143.16 44.36h3.61v3.68h-3.61zM139.55 48.04h3.61v3.68h-3.61zM143.16 51.72h3.61v3.68h-3.61zM179.25 81.14h3.61v3.68h-3.61zM193.69 81.14h3.61v3.68h-3.61zM175.65 84.81h3.61v3.68h-3.61zM175.65 99.52h7.22v3.68h-7.22z"/>
<path fill="#008cff" d="M157.60 37.01h3.61v3.68h-3.61zM132.34 62.75h7.22v3.68h-7.22zM168.43 62.75h3.61v3.68h-3.61zM125.12 73.78h3.61v3.68h-3.61z"/>
<path fill="#eb1900" d="M146.77 44.36h3.61v3.68h-3.61zM179.25 44.36h3.61v3.68h-3.61zM146.77 48.04h3.61v3.68h-3.61zM139.55 51.72h3.61v3.68h-3.61zM172.04 70.10h3.61v3.68h-3.61zM182.86 81.14h3.61v3.68h-3.61zM190.08 81.14h3.61v3.68h-3.61zM139.55 84.81h3.61v3.68h-3.61zM182.86 84.81h3.61v3.68h-3.61zM190.08 84.81h7.22v3.68h-7.22zM175.65 88.49h7.22v3.68h-7.22zM186.47 88.49h10.83v3.68h-10.83zM175.65 92.17h3.61v3.68h-3.61zM182.86 92.17h3.61v3.68h-3.61zM190.08 92.17h3.61v3.68h-3.61zM175.65 95.85h14.44v3.68h-14.44zM139.55 99.52h3.61v3.68h-3.61zM182.86 99.52h3.61v3.68h-3.61z"/>
<path fill="#a5fa5a" d="M217.25 21.90h8.67v4.53h-8.67zM230.26 21.90h4.34v4.53h-4.34zM247.60 21.90h4.34v4.53h-4.34zM264.95 21.90h13.01v4.53h-13.01zM282.29 21.90h8.67v4.53h-8.67zM217.25 26.43h8.67v4.53h-8.67zM243.27 26.43h4.34v4.53h-4.34zM251.94 26.43h4.34v4.53h-4.34zM260.61 26.43h4.34v4.53h-4.34zM269.28 26.43h8.67v4.53h-8.67zM225.92 30.97h8.67v4.53h-8.67zM238.93 30.97h21.68v4.53h-21.68zM225.92 35.50h8.67v4.53h-8.67zM238.93 35.50h8.67v4.53h-8.67zM251.94 35.50h8.67v4.53h-8.67zM264.95 35.50h4.34v4.53h-4.34zM273.62 35.50h4.34v4.53h-4.34zM286.63 35.50h4.34v4.53h-4.34zM277.96 40.03h17.34v4.53h-17.34zM225.92 44.57h8.67v4.53h-8.67zM238.93 44.57h4.34v4.53h-4.34zM251.94 44.57h4.34v4.53h-4.34zM269.28 44.57h8.67v4.53h-8.67zM290.96 44.57h4.34v4.53h-4.34zM225.92 49.10h8.67v4.53h-8.67zM238.93 49.10h4.34v4.53h-4.34zM251.94 49.10h4.34v4.53h-4.34zM260.61 49.10h4.34v4.53h-4.34zM286.63 49.10h8.67v4.53h-8.67zM225.92 53.63h8.67v4.53h-8.67zM247.60 53.63h8.67v4.53h-8.67zM264.95 53.63h4.34v4.53h-4.34zM282.29 53.63h4.34v4.53h-4.34zM217.25 58.17h8.67v4.53h-8.67zM238.93 58.17h17.34v4.53h-17.34zM264.95 58.17h4.34v4.53h-4.34zM277.96 58.17h8.67v4.53h-8.67zM290.96 58.17h4.34v4.53h-4.34zM225.92 62.70h4.34v4.53h-4.34zM256.27 62.70h4.34v4.53h-4.34zM290.96 62.70h4.34v4.53h-4.34zM243.27 67.23h4.34v4.53h-4.34zM260.61 67.23h8.67v4.53h-8.67zM282.29 67.23h13.01v4.53h-13.01zM217.25 71.77h4.34v4.53h-4.34zM225.92 71.77h8.67v4.53h-8.67zM238.93 71.77h4.34v4.53h-4.34zM247.60 71.77h8.67v4.53h-8.67zM260.61 71.77h4.34v4.53h-4.34zM277.96 71.77h17.34v4.53h-17.34zM238.93 76.30h4.34v4.53h-4.34zM264.95 76.30h8.67v4.53h-8.67zM277.96 76.30h8.67v4.53h-8.67zM217.25 80.83h4.34v4.53h-4.34zM230.26 80.83h4.34v4.53h-4.34zM238.93 80.83h4.34v4.53h-4.34zM264.95 80.83h4.34v4.53h-4.34zM273.62 80.83h13.01v4.53h-13.01zM217.25 85.37h4.34v4.53h-4.34zM234.59 85.37h4.34v4.53h-4.34zM256.27 85.37h4.34v4.53h-4.34zM269.28 85.37h13.01v4.53h-13.01zM217.25 89.90h4.34v4.53h-4.34zM234.59 89.90h17.34v4.53h-17.34zM273.62 89.90h4.34v4.53h-4.34zM282.29 89.90h4.34v4.53h-4.34zM217.25 94.43h4.34v4.53h-4.34zM243.27 94.43h4.34v4.53h-4.34zM264.95 94.43h4.34v4.53h-4.34zM273.62 94.43h4.34v4.53h-4.34zM217.25 98.97h4.34v4.53h-4.34zM238.93 98.97h8.67v4.53h-8.67zM256.27 98.97h4.34v4.53h-4.34zM264.95 98.97h4.34v4.53h-4.34zM290.96 98.97h4.34v4.53h-4.34z"/>
<path fill="#0ae6ee" d="M225.92 21.90h4.34v4.53h-4.34zM234.59 26.43h4.34v4.53h-4.34zM217.25 30.97h4.34v4.53h-4.34zM234.59 30.97h4.34v4.53h-4.34zM269.28 30.97h8.67v4.53h-8.67zM290.96 30.97h4.34v4.53h-4.34zM221.59 40.03h8.67v4.53h-8.67zM238.93 40.03h8.67v4.53h-8.67zM234.59 44.57h4.34v4.53h-4.34zM260.61 44.57h4.34v4.53h-4.34zM234.59 49.10h4.34v4.53h-4.34zM247.60 49.10h4.34v4.53h-4.34zM273.62 49.10h4.34v4.53h-4.34zM243.27 53.63h4.34v4.53h-4.34zM256.27 53.63h4.34v4.53h-4.34zM269.28 58.17h4.34v4.53h-4.34zM247.60 62.70h4.34v4.53h-4.34zM260.61 62.70h4.34v4.53h-4.34zM269.28 62.70h8.67v4.53h-8.67zM225.92 67.23h4.34v4.53h-4.34zM238.93 67.23h4.34v4.53h-4.34zM256.27 67.23h4.34v4.53h-4.34zM256.27 76.30h4.34v4.53h-4.34zM225.92 80.83h4.34v4.53h-4.34zM243.27 80.83h4.34v4.53h-4.34zM256.27 80.83h4.34v4.53h-4.34zM225.92 85.37h4.34v4.53h-4.34z"/>
<path fill="#50f2b9" d="M234.59 21.90h4.34v4.53h-4.34zM260.61 21.90h4.34v4.53h-4.34zM260.61 30.97h8.67v4.53h-8.67zM277.96 30.97h13.01v4.53h-13.01zM217.25 35.50h4.34v4.53h-4.34zM234.59 35.50h4.34v4.53h-4.34zM260.61 35.50h4.34v4.53h-4.34zM269.28 35.50h4.34v4.53h-4.34zM217.25 40.03h4.34v4.53h-4.34zM230.26 40.03h8.67v4.53h-8.67zM264.95 40.03h4.34v4.53h-4.34zM269.28 49.10h4.34v4.53h-4.34zM277.96 49.10h8.67v4.53h-8.67zM260.61 53.63h4.34v4.53h-4.34zM225.92 58.17h8.67v4.53h-8.67zM256.27 58.17h4.34v4.53h-4.34zM273.62 58.17h4.34v4.53h-4.34zM286.63 58.17h4.34v4.53h-4.34zM230.26 62.70h4.34v4.53h-4.34zM251.94 62.70h4.34v4.53h-4.34zM277.96 62.70h4.34v4.53h-4.34zM217.25 67.23h8.67v4.53h-8.67zM230.26 67.23h4.34v4.53h-4.34zM247.60 67.23h4.34v4.53h-4.34zM269.28 67.23h8.67v4.53h-8.67zM234.59 71.77h4.34v4.53h-4.34zM264.95 71.77h13.01v4.53h-13.01zM217.25 76.30h4.34v4.53h-4.34zM225.92 76.30h8.67v4.53h-8.67zM243.27 76.30h4.34v4.53h-4.34zM251.94 76.30h4.34v4.53h-4.34zM260.61 76.30h4.34v4.53h-4.34zM251.94 80.83h4.34v4.53h-4.34zM260.61 80.83h4.34v4.53h-4.34zM243.27 85.37h4.34v4.53h-4.34zM251.94 85.37h4.34v4.53h-4.34zM264.95 85.37h4.34v4.53h-4.34zM225.92 89.90h4.34v4.53h-4.34zM251.94 89.90h4.34v4.53h-4.34zM260.61 89.90h8.67v4.53h-8.67zM286.63 89.90h4.34v4.53h-4.34zM225.92 94.43h4.34v4.53h-4.34zM234.59 94.43h4.34v4.53h-4.34zM251.94 94.43h4.34v4.53h-4.34zM260.61 94.43h4.34v4.53h-4.34zM282.29 94.43h8.67v4.53h-8.67zM225.92 98.97h4.34v4.53h-4.34zM251.94 98.97h4.34v4.53h-4.34zM260.61 98.97h4.34v4.53h-4.34z"/>
<path fill="#f0ee14" d="M238.93 21.90h4.34v4.53h-4.34zM251.94 21.90h4.34v4.53h-4.34zM277.96 21.90h4.34v4.53h-4.34zM290.96 21.90h4.34v4.53h-4.34zM225.92 26.43h8.67v4.53h-8.67zM264.95 26.43h4.34v4.53h-4.34zM282.29 26.43h4.34v4.53h-4.34zM290.96 26.43h4.34v4.53h-4.34zM221.59 30.97h4.34v4.53h-4.34zM221.59 35.50h4.34v4.53h-4.34zM247.60 35.50h4.34v4.53h-4.34zM277.96 35.50h8.67v4.53h-8.67zM290.96 35.50h4.34v4.53h-4.34zM260.61 40.03h4.34v4.53h-4.34zM217.25 44.57h4.34v4.53h-4.34zM243.27 44.57h4.34v4.53h-4.34zM264.95 44.57h4.34v4.53h-4.34zM282.29 44.57h4.34v4.53h-4.34zM221.59 49.10h4.34v4.53h-4.34zM243.27 49.10h4.34v4.53h-4.34zM264.95 49.10h4.34v4.53h-4.34zM217.25 53.63h4.34v4.53h-4.34zM264.95 62.70h4.34v4.53h-4.34zM282.29 62.70h8.67v4.53h-8.67zM234.59 67.23h4.34v4.53h-4.34zM277.96 67.23h4.34v4.53h-4.34zM221.59 71.77h4.34v4.53h-4.34zM243.27 71.77h4.34v4.53h-4.34zM256.27 71.77h4.34v4.53h-4.34zM221.59 76.30h4.34v4.53h-4.34zM234.59 76.30h4.34v4.53h-4.34zM286.63 76.30h8.67v4.53h-8.67zM221.59 80.83h4.34v4.53h-4.34zM234.59 80.83h4.34v4.53h-4.34zM286.63 80.83h8.67v4.53h-8.67zM230.26 85.37h4.34v4.53h-4.34zM260.61 85.37h4.34v4.53h-4.34zM282.29 85.37h4.34v4.53h-4.34zM221.59 89.90h4.34v4.53h-4.34zM230.26 89.90h4.34v4.53h-4.34zM256.27 89.90h4.34v4.53h-4.34zM269.28 89.90h4.34v4.53h-4.34zM277.96 89.90h4.34v4.53h-4.34zM230.26 94.43h4.34v4.53h-4.34zM256.27 94.43h4.34v4.53h-4.34zM269.28 94.43h4.34v4.53h-4.34zM221.59 98.97h4.34v4.53h-4.34zM230.26 98.97h8.67v4.53h-8.67zM269.28 98.97h8.67v4.53h-8.67z"/>
<path fill="#faa000" d="M243.27 21.90h4.34v4.53h-4.34zM256.27 21.90h4.34v4.53h-4.34zM247.60 26.43h4.34v4.53h-4.34zM256.27 26.43h4.34v4.53h-4.34zM277.96 26.43h4.34v4.53h-4.34zM286.63 26.43h4.34v4.53h-4.34zM251.94 40.03h4.34v4.53h-4.34zM269.28 40.03h8.67v4.53h-8.67zM277.96 44.57h4.34v4.53h-4.34zM217.25 49.10h4.34v4.53h-4.34zM221.59 53.63h4.34v4.53h-4.34zM238.93 53.63h4.34v4.53h-4.34zM269.28 53.63h13.01v4.53h-13.01zM234.59 58.17h4.34v4.53h-4.34zM260.61 58.17h4.34v4.53h-4.34zM221.59 62.70h4.34v4.53h-4.34zM251.94 67.23h4.34v4.53h-4.34zM247.60 76.30h4.34v4.53h-4.34zM247.60 80.83h4.34v4.53h-4.34zM221.59 85.37h4.34v4.53h-4.34zM238.93 85.37h4.34v4.53h-4.34zM221.59 94.43h4.34v4.53h-4.34zM238.93 94.43h4.34v4.53h-4.34zM290.96 94.43h4.34v4.53h-4.34zM286.63 98.97h4.34v4.53h-4.34z"/>
<path fill="#eb1900" d="M238.93 26.43h4.34v4.53h-4.34zM247.60 40.03h4.34v4.53h-4.34zM221.59 44.57h4.34v4.53h-4.34zM247.60 44.57h4.34v4.53h-4.34zM256.27 44.57h4.34v4.53h-4.34zM286.63 44.57h4.34v4.53h-4.34zM256.27 49.10h4.34v4.53h-4.34zM234.59 53.63h4.34v4.53h-4.34zM286.63 53.63h8.67v4.53h-8.67zM217.25 62.70h4.34v4.53h-4.34zM238.93 62.70h8.67v4.53h-8.67zM273.62 76.30h4.34v4.53h-4.34zM269.28 80.83h4.34v4.53h-4.34zM247.60 85.37h4.34v4.53h-4.34zM286.63 85.37h4.34v4.53h-4.34zM290.96 89.90h4.34v4.53h-4.34zM247.60 94.43h4.34v4.53h-4.34zM277.96 94.43h4.34v4.53h-4.34zM247.60 98.97h4.34v4.53h-4.34zM282.29 98.97h4.34v4.53h-4.34z"/>
<path fill="#008cff" d="M256.27 40.03h4.34v4.53h-4.34z"/>
<path fill="#0028ff" d="M234.59 62.70h4.34v4.53h-4.34z"/>
<path fill="#8c0000" d="M290.96 85.37h4.34v4.53h-4.34zM277.96 98.97h4.34v4.53h-4.34z"/>
<path fill="#a5fa5a" d="M311.90 22.20h8.71v4.52h-8.71zM324.97 22.20h4.36v4.52h-4.36zM342.39 22.20h4.36v4.52h-4.36zM359.81 22.20h13.07v4.52h-13.07zM377.23 22.20h8.71v4.52h-8.71zM311.90 26.72h8.71v4.52h-8.71zM338.03 26.72h4.36v4.52h-4.36zM346.74 26.72h4.36v4.52h-4.36zM355.46 26.72h4.36v4.52h-4.36zM364.17 26.72h8.71v4.52h-8.71zM320.61 31.23h8.71v4.52h-8.71zM333.68 31.23h21.78v4.52h-21.78zM320.61 35.75h8.71v4.52h-8.71zM333.68 35.75h8.71v4.52h-8.71zM346.74 35.75h8.71v4.52h-8.71zM359.81 35.75h4.36v4.52h-4.36zM368.52 35.75h4.36v4.52h-4.36zM381.59 35.75h4.36v4.52h-4.36zM364.17 40.27h26.13v4.52h-26.13zM320.61 44.78h8.71v4.52h-8.71zM333.68 44.78h4.36v4.52h-4.36zM346.74 44.78h4.36v4.52h-4.36zM364.17 44.78h8.71v4.52h-8.71zM385.94 44.78h4.36v4.52h-4.36zM320.61 49.30h8.71v4.52h-8.71zM333.68 49.30h4.36v4.52h-4.36zM346.74 49.30h4.36v4.52h-4.36zM355.46 49.30h4.36v4.52h-4.36zM381.59 49.30h8.71v4.52h-8.71zM320.61 53.82h8.71v4.52h-8.71zM342.39 53.82h8.71v4.52h-8.71zM359.81 53.82h4.36v4.52h-4.36zM377.23 53.82h4.36v4.52h-4.36zM311.90 58.33h8.71v4.52h-8.71zM333.68 58.33h17.42v4.52h-17.42zM359.81 58.33h4.36v4.52h-4.36zM372.88 58.33h8.71v4.52h-8.71zM385.94 58.33h4.36v4.52h-4.36zM320.61 62.85h4.36v4.52h-4.36zM351.10 62.85h4.36v4.52h-4.36zM385.94 62.85h4.36v4.52h-4.36zM338.03 67.37h4.36v4.52h-4.36zM355.46 67.37h8.71v4.52h-8.71zM377.23 67.37h13.07v4.52h-13.07zM311.90 71.88h4.36v4.52h-4.36zM320.61 71.88h8.71v4.52h-8.71zM333.68 71.88h4.36v4.52h-4.36zM342.39 71.88h8.71v4.52h-8.71zM355.46 71.88h4.36v4.52h-4.36zM372.88 71.88h17.42v4.52h-17.42zM329.32 76.40h8.71v4.52h-8.71zM359.81 76.40h8.71v4.52h-8.71zM372.88 76.40h8.71v4.52h-8.71zM311.90 80.92h4.36v4.52h-4.36zM324.97 80.92h13.07v4.52h-13.07zM359.81 80.92h4.36v4.52h-4.36zM368.52 80.92h13.07v4.52h-13.07zM311.90 85.43h4.36v4.52h-4.36zM329.32 85.43h4.36v4.52h-4.36zM351.10 85.43h4.36v4.52h-4.36zM364.17 85.43h13.07v4.52h-13.07zM311.90 89.95h4.36v4.52h-4.36zM329.32 89.95h17.42v4.52h-17.42zM368.52 89.95h4.36v4.52h-4.36zM377.23 89.95h4.36v4.52h-4.36zM311.90 94.47h4.36v4.52h-4.36zM338.03 94.47h4.36v4.52h-4.36zM359.81 94.47h4.36v4.52h-4.36zM368.52 94.47h4.36v4.52h-4.36zM311.90 98.98h4.36v4.52h-4.36zM333.68 98.98h8.71v4.52h-8.71zM351.10 98.98h4.36v4.52h-4.36zM359.81 98.98h4.36v4.52h-4.36zM385.94 98.98h4.36v4.52h-4.36z"/>
<path fill="#50f2b9" d="M320.61 22.20h4.36v4.52h-4.36zM329.32 22.20h4.36v4.52h-4.36zM355.46 22.20h4.36v4.52h-4.36zM311.90 31.23h4.36v4.52h-4.36zM355.46 31.23h8.71v4.52h-8.71zM372.88 31.23h13.07v4.52h-13.07zM311.90 35.75h4.36v4.52h-4.36zM329.32 35.75h4.36v4.52h-4.36zM355.46 35.75h4.36v4.52h-4.36zM364.17 35.75h4.36v4.52h-4.36zM311.90 40.27h4.36v4.52h-4.36zM324.97 40.27h8.71v4.52h-8.71zM359.81 40.27h4.36v4.52h-4.36zM364.17 49.30h4.36v4.52h-4.36zM372.88 49.30h8.71v4.52h-8.71zM355.46 53.82h4.36v4.52h-4.36zM320.61 58.33h8.71v4.52h-8.71zM351.10 58.33h4.36v4.52h-4.36zM368.52 58.33h4.36v4.52h-4.36zM381.59 58.33h4.36v4.52h-4.36zM324.97 62.85h4.36v4.52h-4.36zM346.74 62.85h4.36v4.52h-4.36zM372.88 62.85h4.36v4.52h-4.36zM311.90 67.37h8.71v4.52h-8.71zM324.97 67.37h4.36v4.52h-4.36zM342.39 67.37h4.36v4.52h-4.36zM364.17 67.37h8.71v4.52h-8.71zM329.32 71.88h4.36v4.52h-4.36zM359.81 71.88h13.07v4.52h-13.07zM311.90 76.40h4.36v4.52h-4.36zM320.61 76.40h8.71v4.52h-8.71zM338.03 76.40h4.36v4.52h-4.36zM346.74 76.40h4.36v4.52h-4.36zM355.46 76.40h4.36v4.52h-4.36zM346.74 80.92h4.36v4.52h-4.36zM355.46 80.92h4.36v4.52h-4.36zM338.03 85.43h4.36v4.52h-4.36zM346.74 85.43h4.36v4.52h-4.36zM359.81 85.43h4.36v4.52h-4.36zM320.61 89.95h4.36v4.52h-4.36zM346.74 89.95h4.36v4.52h-4.36zM355.46 89.95h8.71v4.52h-8.71zM381.59 89.95h4.36v4.52h-4.36zM320.61 94.47h4.36v4.52h-4.36zM329.32 94.47h4.36v4.52h-4.36zM346.74 94.47h4.36v4.52h-4.36zM355.46 94.47h4.36v4.52h-4.36zM377.23 94.47h8.71v4.52h-8.71zM320.61 98.98h4.36v4.52h-4.36zM346.74 98.98h4.36v4.52h-4.36zM355.46 98.98h4.36v4.52h-4.36z"/>
<path fill="#f0ee14" d="M333.68 22.20h4.36v4.52h-4.36zM346.74 22.20h4.36v4.52h-4.36zM372.88 22.20h4.36v4.52h-4.36zM385.94 22.20h4.36v4.52h-4.36zM320.61 26.72h8.71v4.52h-8.71zM359.81 26.72h4.36v4.52h-4.36zM377.23 26.72h4.36v4.52h-4.36zM385.94 26.72h4.36v4.52h-4.36zM316.26 31.23h4.36v4.52h-4.36zM316.26 35.75h4.36v4.52h-4.36zM342.39 35.75h4.36v4.52h-4.36zM372.88 35.75h8.71v4.52h-8.71zM385.94 35.75h4.36v4.52h-4.36zM355.46 40.27h4.36v4.52h-4.36zM311.90 44.78h4.36v4.52h-4.36zM338.03 44.78h4.36v4.52h-4.36zM359.81 44.78h4.36v4.52h-4.36zM377.23 44.78h4.36v4.52h-4.36zM316.26 49.30h4.36v4.52h-4.36zM338.03 49.30h4.36v4.52h-4.36zM359.81 49.30h4.36v4.52h-4.36zM311.90 53.82h4.36v4.52h-4.36zM359.81 62.85h4.36v4.52h-4.36zM377.23 62.85h8.71v4.52h-8.71zM329.32 67.37h4.36v4.52h-4.36zM372.88 67.37h4.36v4.52h-4.36zM316.26 71.88h4.36v4.52h-4.36zM338.03 71.88h4.36v4.52h-4.36zM351.10 71.88h4.36v4.52h-4.36zM316.26 76.40h4.36v4.52h-4.36zM381.59 76.40h8.71v4.52h-8.71zM316.26 80.92h4.36v4.52h-4.36zM381.59 80.92h8.71v4.52h-8.71zM324.97 85.43h4.36v4.52h-4.36zM355.46 85.43h4.36v4.52h-4.36zM377.23 85.43h4.36v4.52h-4.36zM316.26 89.95h4.36v4.52h-4.36zM324.97 89.95h4.36v4.52h-4.36zM351.10 89.95h4.36v4.52h-4.36zM364.17 89.95h4.36v4.52h-4.36zM372.88 89.95h4.36v4.52h-4.36zM324.97 94.47h4.36v4.52h-4.36zM351.10 94.47h4.36v4.52h-4.36zM364.17 94.47h4.36v4.52h-4.36zM316.26 98.98h4.36v4.52h-4.36zM324.97 98.98h8.71v4.52h-8.71zM364.17 98.98h8.71v4.52h-8.71z"/>
<path fill="#faa000" d="M338.03 22.20h4.36v4.52h-4.36zM351.10 22.20h4.36v4.52h-4.36zM342.39 26.72h4.36v4.52h-4.36zM351.10 26.72h4.36v4.52h-4.36zM372.88 26.72h4.36v4.52h-4.36zM381.59 26.72h4.36v4.52h-4.36zM346.74 40.27h4.36v4.52h-4.36zM372.88 44.78h4.36v4.52h-4.36zM311.90 49.30h4.36v4.52h-4.36zM316.26 53.82h4.36v4.52h-4.36zM333.68 53.82h4.36v4.52h-4.36zM364.17 53.82h13.07v4.52h-13.07zM329.32 58.33h4.36v4.52h-4.36zM355.46 58.33h4.36v4.52h-4.36zM316.26 62.85h4.36v4.52h-4.36zM346.74 67.37h4.36v4.52h-4.36zM342.39 76.40h4.36v4.52h-4.36zM342.39 80.92h4.36v4.52h-4.36zM316.26 85.43h4.36v4.52h-4.36zM333.68 85.43h4.36v4.52h-4.36zM316.26 94.47h4.36v4.52h-4.36zM333.68 94.47h4.36v4.52h-4.36zM385.94 94.47h4.36v4.52h-4.36zM381.59 98.98h4.36v4.52h-4.36z"/>
<path fill="#0ae6ee" d="M329.32 26.72h4.36v4.52h-4.36zM329.32 31.23h4.36v4.52h-4.36zM364.17 31.23h8.71v4.52h-8.71zM385.94 31.23h4.36v4.52h-4.36zM316.26 40.27h8.71v4.52h-8.71zM333.68 40.27h8.71v4.52h-8.71zM329.32 44.78h4.36v4.52h-4.36zM355.46 44.78h4.36v4.52h-4.36zM329.32 49.30h4.36v4.52h-4.36zM342.39 49.30h4.36v4.52h-4.36zM368.52 49.30h4.36v4.52h-4.36zM338.03 53.82h4.36v4.52h-4.36zM351.10 53.82h4.36v4.52h-4.36zM364.17 58.33h4.36v4.52h-4.36zM342.39 62.85h4.36v4.52h-4.36zM355.46 62.85h4.36v4.52h-4.36zM364.17 62.85h8.71v4.52h-8.71zM320.61 67.37h4.36v4.52h-4.36zM333.68 67.37h4.36v4.52h-4.36zM351.10 67.37h4.36v4.52h-4.36zM351.10 76.40h4.36v4.52h-4.36zM320.61 80.92h4.36v4.52h-4.36zM338.03 80.92h4.36v4.52h-4.36zM351.10 80.92h4.36v4.52h-4.36zM320.61 85.43h4.36v4.52h-4.36z"/>
<path fill="#eb1900" d="M333.68 26.72h4.36v4.52h-4.36zM342.39 40.27h4.36v4.52h-4.36zM316.26 44.78h4.36v4.52h-4.36zM342.39 44.78h4.36v4.52h-4.36zM351.10 44.78h4.36v4.52h-4.36zM381.59 44.78h4.36v4.52h-4.36zM351.10 49.30h4.36v4.52h-4.36zM329.32 53.82h4.36v4.52h-4.36zM381.59 53.82h8.71v4.52h-8.71zM311.90 62.85h4.36v4.52h-4.36zM333.68 62.85h8.71v4.52h-8.71zM368.52 76.40h4.36v4.52h-4.36zM364.17 80.92h4.36v4.52h-4.36zM342.39 85.43h4.36v4.52h-4.36zM381.59 85.43h4.36v4.52h-4.36zM385.94 89.95h4.36v4.52h-4.36zM342.39 94.47h4.36v4.52h-4.36zM372.88 94.47h4.36v4.52h-4.36zM342.39 98.98h4.36v4.52h-4.36zM377.23 98.98h4.36v4.52h-4.36z"/>
<path fill="#008cff" d="M351.10 40.27h4.36v4.52h-4.36z"/>
<path fill="#0028ff" d="M329.32 62.85h4.36v4.52h-4.36z"/>
<path fill="#8c0000" d="M385.94 85.43h4.36v4.52h-4.36zM372.88 98.98h4.36v4.52h-4.36z"/>
<path fill="#50f2b9" d="M19.50 123.50h3.65v3.66h-3.65zM41.39 123.50h3.65v3.66h-3.65zM55.98 123.50h7.30v3.66h-7.30zM66.92 123.50h3.65v3.66h-3.65zM74.22 123.50h3.65v3.66h-3.65zM37.74 127.16h18.24v3.66h-18.24zM63.27 127.16h3.65v3.66h-3.65zM74.22 127.16h3.65v3.66h-3.65zM37.74 130.82h7.30v3.66h-7.30zM63.27 130.82h14.59v3.66h-14.59zM30.44 134.48h3.65v3.66h-3.65zM45.03 134.48h3.65v3.66h-3.65zM66.92 134.48h3.65v3.66h-3.65zM74.22 134.48h25.53v3.66h-25.53zM45.03 138.14h3.65v3.66h-3.65zM66.92 138.14h3.65v3.66h-3.65zM74.22 138.14h25.53v3.66h-25.53zM23.15 141.80h7.30v3.66h-7.30zM41.39 141.80h7.30v3.66h-7.30zM66.92 141.80h32.83v3.66h-32.83zM23.15 145.45h7.30v3.66h-7.30zM37.74 145.45h3.65v3.66h-3.65zM59.62 145.45h3.65v3.66h-3.65zM70.57 145.45h29.18v3.66h-29.18zM23.15 149.11h3.65v3.66h-3.65zM30.44 149.11h10.94v3.66h-10.94zM55.98 149.11h3.65v3.66h-3.65zM66.92 149.11h10.94v3.66h-10.94zM23.15 152.77h3.65v3.66h-3.65zM55.98 152.77h3.65v3.66h-3.65zM66.92 152.77h3.65v3.66h-3.65zM74.22 152.77h3.65v3.66h-3.65zM23.15 156.43h3.65v3.66h-3.65zM55.98 156.43h10.94v3.66h-10.94zM74.22 156.43h3.65v3.66h-3.65zM19.50 160.09h14.59v3.66h-14.59zM37.74 160.09h10.94v3.66h-10.94zM52.33 160.09h3.65v3.66h-3.65zM77.86 160.09h21.89v3.66h-21.89zM23.15 163.75h10.94v3.66h-10.94zM37.74 163.75h3.65v3.66h-3.65zM52.33 163.75h3.65v3.66h-3.65zM74.22 163.75h18.24v3.66h-18.24zM96.10 163.75h3.65v3.66h-3.65zM23.15 167.41h7.30v3.66h-7.30zM37.74 167.41h3.65v3.66h-3.65zM52.33 167.41h3.65v3.66h-3.65zM77.86 167.41h21.89v3.66h-21.89zM19.50 171.07h3.65v3.66h-3.65zM37.74 171.07h7.30v3.66h-7.30zM52.33 171.07h7.30v3.66h-7.30zM77.86 171.07h21.89v3.66h-21.89zM26.80 174.73h3.65v3.66h-3.65zM37.74 174.73h10.94v3.66h-10.94zM52.33 174.73h7.30v3.66h-7.30zM77.86 174.73h21.89v3.66h-21.89zM26.80 178.39h3.65v3.66h-3.65zM37.74 178.39h3.65v3.66h-3.65zM45.03 178.39h10.94v3.66h-10.94zM63.27 178.39h3.65v3.66h-3.65zM74.22 178.39h25.53v3.66h-25.53zM30.44 182.05h14.59v3.66h-14.59zM63.27 182.05h14.59v3.66h-14.59zM30.44 185.70h14.59v3.66h-14.59zM63.27 185.70h14.59v3.66h-14.59zM30.44 189.36h14.59v3.66h-14.59zM63.27 189.36h14.59v3.66h-14.59zM30.44 193.02h3.65v3.66h-3.65zM37.74 193.02h7.30v3.66h-7.30zM63.27 193.02h14.59v3.66h-14.59zM30.44 196.68h14.59v3.66h-14.59zM63.27 196.68h14.59v3.66h-14.59zM30.44 200.34h14.59v3.66h-14.59zM63.27 200.34h14.59v3.66h-14.59z"/>
<path fill="#faa000" d="M23.15 123.50h7.30v3.66h-7.30zM19.50 127.16h3.65v3.66h-3.65zM19.50 130.82h3.65v3.66h-3.65zM77.86 130.82h7.30v3.66h-7.30zM52.33 134.48h3.65v3.66h-3.65zM70.57 134.48h3.65v3.66h-3.65zM52.33 138.14h3.65v3.66h-3.65zM70.57 138.14h3.65v3.66h-3.65zM52.33 141.80h3.65v3.66h-3.65zM96.10 149.11h3.65v3.66h-3.65zM30.44 152.77h7.30v3.66h-7.30zM81.51 152.77h3.65v3.66h-3.65zM30.44 156.43h7.30v3.66h-7.30zM63.27 163.75h3.65v3.66h-3.65zM30.44 174.73h7.30v3.66h-7.30zM26.80 182.05h3.65v3.66h-3.65zM48.68 185.70h7.30v3.66h-7.30zM88.81 185.70h3.65v3.66h-3.65zM26.80 189.36h3.65v3.66h-3.65zM81.51 193.02h3.65v3.66h-3.65z"/>
<path fill="#008cff" d="M30.44 123.50h3.65v3.66h-3.65zM19.50 134.48h3.65v3.66h-3.65zM92.45 163.75h3.65v3.66h-3.65zM70.57 167.41h3.65v3.66h-3.65zM23.15 174.73h3.65v3.66h-3.65zM63.27 174.73h3.65v3.66h-3.65zM59.62 196.68h3.65v3.66h-3.65z"/>
<path fill="#0ae6ee" d="M34.09 123.50h3.65v3.66h-3.65zM70.57 123.50h3.65v3.66h-3.65zM30.44 127.16h7.30v3.66h-7.30zM55.98 127.16h7.30v3.66h-7.30zM66.92 127.16h7.30v3.66h-7.30zM77.86 127.16h21.89v3.66h-21.89zM30.44 130.82h7.30v3.66h-7.30zM55.98 130.82h7.30v3.66h-7.30zM23.15 134.48h7.30v3.66h-7.30zM55.98 134.48h7.30v3.66h-7.30zM19.50 138.14h10.94v3.66h-10.94zM55.98 138.14h7.30v3.66h-7.30zM55.98 141.80h10.94v3.66h-10.94zM19.50 145.45h3.65v3.66h-3.65zM45.03 145.45h14.59v3.66h-14.59zM63.27 145.45h7.30v3.66h-7.30zM41.39 149.11h3.65v3.66h-3.65zM41.39 152.77h3.65v3.66h-3.65zM41.39 156.43h3.65v3.66h-3.65zM66.92 156.43h7.30v3.66h-7.30zM34.09 160.09h3.65v3.66h-3.65zM34.09 163.75h3.65v3.66h-3.65zM41.39 163.75h3.65v3.66h-3.65zM41.39 167.41h3.65v3.66h-3.65zM74.22 167.41h3.65v3.66h-3.65zM23.15 171.07h14.59v3.66h-14.59zM19.50 174.73h3.65v3.66h-3.65zM19.50 178.39h7.30v3.66h-7.30zM41.39 178.39h3.65v3.66h-3.65zM59.62 178.39h3.65v3.66h-3.65zM23.15 182.05h3.65v3.66h-3.65zM55.98 182.05h7.30v3.66h-7.30zM23.15 185.70h3.65v3.66h-3.65zM55.98 185.70h7.30v3.66h-7.30zM23.15 189.36h3.65v3.66h-3.65zM55.98 189.36h7.30v3.66h-7.30zM23.15 193.02h3.65v3.66h-3.65zM55.98 193.02h7.30v3.66h-7.30zM23.15 196.68h3.65v3.66h-3.65zM55.98 196.68h3.65v3.66h-3.65zM23.15 200.34h3.65v3.66h-3.65zM55.98 200.34h7.30v3.66h-7.30z"/>
<path fill="#f0ee14" d="M37.74 123.50h3.65v3.66h-3.65zM45.03 123.50h7.30v3.66h-7.30zM63.27 123.50h3.65v3.66h-3.65zM77.86 123.50h7.30v3.66h-7.30zM96.10 123.50h3.65v3.66h-3.65zM26.80 127.16h3.65v3.66h-3.65zM48.68 130.82h7.30v3.66h-7.30zM85.16 130.82h7.30v3.66h-7.30zM96.10 130.82h3.65v3.66h-3.65zM37.74 134.48h7.30v3.66h-7.30zM48.68 134.48h3.65v3.66h-3.65zM37.74 138.14h7.30v3.66h-7.30zM48.68 138.14h3.65v3.66h-3.65zM19.50 141.80h3.65v3.66h-3.65zM30.44 141.80h7.30v3.66h-7.30zM48.68 141.80h3.65v3.66h-3.65zM30.44 145.45h7.30v3.66h-7.30zM19.50 149.11h3.65v3.66h-3.65zM59.62 149.11h3.65v3.66h-3.65zM77.86 149.11h3.65v3.66h-3.65zM85.16 149.11h3.65v3.66h-3.65zM92.45 149.11h3.65v3.66h-3.65zM19.50 152.77h3.65v3.66h-3.65zM26.80 152.77h3.65v3.66h-3.65zM37.74 152.77h3.65v3.66h-3.65zM77.86 152.77h3.65v3.66h-3.65zM85.16 152.77h14.59v3.66h-14.59zM26.80 156.43h3.65v3.66h-3.65zM37.74 156.43h3.65v3.66h-3.65zM77.86 156.43h21.89v3.66h-21.89zM63.27 160.09h3.65v3.66h-3.65zM74.22 160.09h3.65v3.66h-3.65zM55.98 163.75h7.30v3.66h-7.30zM70.57 163.75h3.65v3.66h-3.65zM45.03 167.41h3.65v3.66h-3.65zM55.98 167.41h7.30v3.66h-7.30zM66.92 167.41h3.65v3.66h-3.65zM59.62 171.07h3.65v3.66h-3.65zM66.92 171.07h3.65v3.66h-3.65zM66.92 174.73h7.30v3.66h-7.30zM55.98 178.39h3.65v3.66h-3.65zM19.50 182.05h3.65v3.66h-3.65zM45.03 182.05h10.94v3.66h-10.94zM19.50 185.70h3.65v3.66h-3.65zM26.80 185.70h3.65v3.66h-3.65zM19.50 189.36h3.65v3.66h-3.65zM45.03 189.36h10.94v3.66h-10.94zM19.50 193.02h3.65v3.66h-3.65zM26.80 193.02h3.65v3.66h-3.65zM96.10 193.02h3.65v3.66h-3.65zM19.50 196.68h3.65v3.66h-3.65zM26.80 196.68h3.65v3.66h-3.65zM52.33 196.68h3.65v3.66h-3.65zM96.10 196.68h3.65v3.66h-3.65zM19.50 200.34h3.65v3.66h-3.65zM26.80 200.34h3.65v3.66h-3.65zM48.68 200.34h7.30v3.66h-7.30zM88.81 200.34h7.30v3.66h-7.30z"/>
<path fill="#a5fa5a" d="M52.33 123.50h3.65v3.66h-3.65zM85.16 123.50h10.94v3.66h-10.94zM23.15 127.16h3.65v3.66h-3.65zM23.15 130.82h7.30v3.66h-7.30zM45.03 130.82h3.65v3.66h-3.65zM92.45 130.82h3.65v3.66h-3.65zM34.09 138.14h3.65v3.66h-3.65zM37.74 141.80h3.65v3.66h-3.65zM41.39 145.45h3.65v3.66h-3.65zM26.80 149.11h3.65v3.66h-3.65zM45.03 149.11h3.65v3.66h-3.65zM63.27 149.11h3.65v3.66h-3.65zM88.81 149.11h3.65v3.66h-3.65zM48.68 152.77h3.65v3.66h-3.65zM59.62 152.77h7.30v3.66h-7.30zM70.57 152.77h3.65v3.66h-3.65zM19.50 156.43h3.65v3.66h-3.65zM52.33 156.43h3.65v3.66h-3.65zM48.68 160.09h3.65v3.66h-3.65zM55.98 160.09h7.30v3.66h-7.30zM66.92 160.09h7.30v3.66h-7.30zM19.50 163.75h3.65v3.66h-3.65zM45.03 163.75h7.30v3.66h-7.30zM66.92 163.75h3.65v3.66h-3.65zM19.50 167.41h3.65v3.66h-3.65zM48.68 167.41h3.65v3.66h-3.65zM63.27 167.41h3.65v3.66h-3.65zM45.03 171.07h7.30v3.66h-7.30zM63.27 171.07h3.65v3.66h-3.65zM70.57 171.07h3.65v3.66h-3.65zM48.68 174.73h3.65v3.66h-3.65zM59.62 174.73h3.65v3.66h-3.65zM30.44 178.39h7.30v3.66h-7.30zM77.86 182.05h3.65v3.66h-3.65zM81.51 185.70h3.65v3.66h-3.65zM85.16 189.36h3.65v3.66h-3.65zM34.09 193.02h3.65v3.66h-3.65zM45.03 193.02h10.94v3.66h-10.94zM88.81 193.02h3.65v3.66h-3.65zM45.03 196.68h7.30v3.66h-7.30zM92.45 196.68h3.65v3.66h-3.65zM96.10 200.34h3.65v3.66h-3.65z"/>
<path fill="#8c0000" d="M34.09 134.48h3.65v3.66h-3.65zM30.44 138.14h3.65v3.66h-3.65zM48.68 149.11h3.65v3.66h-3.65zM45.03 152.77h3.65v3.66h-3.65zM52.33 152.77h3.65v3.66h-3.65zM48.68 156.43h3.65v3.66h-3.65zM81.51 182.05h3.65v3.66h-3.65zM96.10 182.05h3.65v3.66h-3.65zM45.03 185.70h3.65v3.66h-3.65zM77.86 185.70h3.65v3.66h-3.65zM77.86 200.34h7.30v3.66h-7.30z"/>
<path fill="#00008c" d="M63.27 134.48h3.65v3.66h-3.65zM30.44 167.41h3.65v3.66h-3.65z"/>
<path fill="#0028ff" d="M63.27 138.14h3.65v3.66h-3.65zM34.09 167.41h3.65v3.66h-3.65z"/>
<path fill="#eb1900" d="M52.33 149.11h3.65v3.66h-3.65zM81.51 149.11h3.65v3.66h-3.65zM45.03 156.43h3.65v3.66h-3.65zM74.22 171.07h3.65v3.66h-3.65zM74.22 174.73h3.65v3.66h-3.65zM66.92 178.39h7.30v3.66h-7.30zM85.16 182.05h10.94v3.66h-10.94zM85.16 185.70h3.65v3.66h-3.65zM92.45 185.70h7.30v3.66h-7.30zM77.86 189.36h7.30v3.66h-7.30zM88.81 189.36h10.94v3.66h-10.94zM77.86 193.02h3.65v3.66h-3.65zM85.16 193.02h3.65v3.66h-3.65zM92.45 193.02h3.65v3.66h-3.65zM77.86 196.68h14.59v3.66h-14.59zM45.03 200.34h3.65v3.66h-3.65zM85.16 200.34h3.65v3.66h-3.65z"/>
<path fill="#50f2b9" d="M117.60 123.30h3.63v3.67h-3.63zM150.29 123.30h3.63v3.67h-3.63zM157.55 123.30h10.90v3.67h-10.90zM172.08 123.30h3.63v3.67h-3.63zM135.76 126.97h18.16v3.67h-18.16zM157.55 126.97h7.26v3.67h-7.26zM172.08 126.97h25.42v3.67h-25.42zM135.76 130.64h3.63v3.67h-3.63zM161.18 130.64h14.53v3.67h-14.53zM128.50 134.30h3.63v3.67h-3.63zM135.76 134.30h7.26v3.67h-7.26zM153.92 134.30h3.63v3.67h-3.63zM172.08 134.30h25.42v3.67h-25.42zM135.76 137.97h7.26v3.67h-7.26zM172.08 137.97h25.42v3.67h-25.42zM121.23 141.64h14.53v3.67h-14.53zM153.92 141.64h3.63v3.67h-3.63zM161.18 141.64h3.63v3.67h-3.63zM168.45 141.64h7.26v3.67h-7.26zM121.23 145.31h14.53v3.67h-14.53zM153.92 145.31h3.63v3.67h-3.63zM161.18 145.31h3.63v3.67h-3.63zM168.45 145.31h7.26v3.67h-7.26zM121.23 148.98h3.63v3.67h-3.63zM150.29 148.98h10.90v3.67h-10.90zM164.81 148.98h10.90v3.67h-10.90zM121.23 152.65h7.26v3.67h-7.26zM150.29 152.65h3.63v3.67h-3.63zM157.55 152.65h21.79v3.67h-21.79zM117.60 156.31h7.26v3.67h-7.26zM143.02 156.31h7.26v3.67h-7.26zM153.92 156.31h3.63v3.67h-3.63zM168.45 156.31h29.05v3.67h-29.05zM117.60 159.98h10.90v3.67h-10.90zM132.13 159.98h14.53v3.67h-14.53zM150.29 159.98h3.63v3.67h-3.63zM175.71 159.98h14.53v3.67h-14.53zM193.87 159.98h3.63v3.67h-3.63zM117.60 163.65h18.16v3.67h-18.16zM143.02 163.65h7.26v3.67h-7.26zM172.08 163.65h18.16v3.67h-18.16zM193.87 163.65h3.63v3.67h-3.63zM121.23 167.32h7.26v3.67h-7.26zM135.76 167.32h14.53v3.67h-14.53zM172.08 167.32h25.42v3.67h-25.42zM117.60 170.99h3.63v3.67h-3.63zM128.50 170.99h7.26v3.67h-7.26zM143.02 170.99h7.26v3.67h-7.26zM153.92 170.99h3.63v3.67h-3.63zM168.45 170.99h3.63v3.67h-3.63zM175.71 170.99h21.79v3.67h-21.79zM124.86 174.65h3.63v3.67h-3.63zM135.76 174.65h25.42v3.67h-25.42zM175.71 174.65h21.79v3.67h-21.79zM124.86 178.32h29.05v3.67h-29.05zM157.55 178.32h7.26v3.67h-7.26zM172.08 178.32h25.42v3.67h-25.42zM128.50 181.99h7.26v3.67h-7.26zM146.65 181.99h7.26v3.67h-7.26zM161.18 181.99h14.53v3.67h-14.53zM128.50 185.66h7.26v3.67h-7.26zM146.65 185.66h7.26v3.67h-7.26zM161.18 185.66h14.53v3.67h-14.53zM128.50 189.33h7.26v3.67h-7.26zM146.65 189.33h7.26v3.67h-7.26zM161.18 189.33h14.53v3.67h-14.53zM128.50 193.00h7.26v3.67h-7.26zM146.65 193.00h7.26v3.67h-7.26zM161.18 193.00h14.53v3.67h-14.53zM128.50 196.66h7.26v3.67h-7.26zM146.65 196.66h7.26v3.67h-7.26zM161.18 196.66h14.53v3.67h-14.53zM128.50 200.33h7.26v3.67h-7.26zM146.65 200.33h7.26v3.67h-7.26zM161.18 200.33h14.53v3.67h-14.53z"/>
<path fill="#faa000" d="M121.23 123.30h3.63v3.67h-3.63zM117.60 126.97h3.63v3.67h-3.63zM117.60 130.64h3.63v3.67h-3.63zM182.97 130.64h3.63v3.67h-3.63zM143.02 137.97h3.63v3.67h-3.63zM143.02 141.64h3.63v3.67h-3.63zM175.71 141.64h3.63v3.67h-3.63zM179.34 145.31h3.63v3.67h-3.63zM132.13 148.98h3.63v3.67h-3.63zM139.39 152.65h7.26v3.67h-7.26zM124.86 181.99h3.63v3.67h-3.63zM139.39 185.66h3.63v3.67h-3.63zM124.86 189.33h3.63v3.67h-3.63z"/>
<path fill="#f0ee14" d="M124.86 123.30h3.63v3.67h-3.63zM139.39 123.30h3.63v3.67h-3.63zM175.71 123.30h7.26v3.67h-7.26zM193.87 123.30h3.63v3.67h-3.63zM175.71 130.64h7.26v3.67h-7.26zM186.60 130.64h3.63v3.67h-3.63zM193.87 130.64h3.63v3.67h-3.63zM143.02 134.30h10.90v3.67h-10.90zM168.45 134.30h3.63v3.67h-3.63zM146.65 137.97h7.26v3.67h-7.26zM168.45 137.97h3.63v3.67h-3.63zM117.60 141.64h3.63v3.67h-3.63zM157.55 141.64h3.63v3.67h-3.63zM164.81 141.64h3.63v3.67h-3.63zM182.97 141.64h3.63v3.67h-3.63zM190.24 141.64h3.63v3.67h-3.63zM117.60 145.31h3.63v3.67h-3.63zM146.65 145.31h3.63v3.67h-3.63zM157.55 145.31h3.63v3.67h-3.63zM175.71 145.31h3.63v3.67h-3.63zM182.97 145.31h3.63v3.67h-3.63zM193.87 145.31h3.63v3.67h-3.63zM128.50 148.98h3.63v3.67h-3.63zM175.71 148.98h7.26v3.67h-7.26zM128.50 152.65h7.26v3.67h-7.26zM128.50 156.31h7.26v3.67h-7.26zM161.18 159.98h3.63v3.67h-3.63zM172.08 159.98h3.63v3.67h-3.63zM135.76 163.65h7.26v3.67h-7.26zM153.92 163.65h10.90v3.67h-10.90zM153.92 167.32h7.26v3.67h-7.26zM164.81 167.32h3.63v3.67h-3.63zM135.76 170.99h3.63v3.67h-3.63zM157.55 170.99h7.26v3.67h-7.26zM128.50 174.65h7.26v3.67h-7.26zM168.45 174.65h3.63v3.67h-3.63zM153.92 178.32h3.63v3.67h-3.63zM117.60 181.99h3.63v3.67h-3.63zM135.76 181.99h7.26v3.67h-7.26zM117.60 185.66h3.63v3.67h-3.63zM124.86 185.66h3.63v3.67h-3.63zM186.60 185.66h3.63v3.67h-3.63zM117.60 189.33h3.63v3.67h-3.63zM135.76 189.33h3.63v3.67h-3.63zM117.60 193.00h3.63v3.67h-3.63zM124.86 193.00h3.63v3.67h-3.63zM179.34 193.00h3.63v3.67h-3.63zM193.87 193.00h3.63v3.67h-3.63zM117.60 196.66h3.63v3.67h-3.63zM193.87 196.66h3.63v3.67h-3.63zM117.60 200.33h3.63v3.67h-3.63zM124.86 200.33h3.63v3.67h-3.63zM186.60 200.33h7.26v3.67h-7.26z"/>
<path fill="#0ae6ee" d="M128.50 123.30h7.26v3.67h-7.26zM168.45 123.30h3.63v3.67h-3.63zM128.50 126.97h7.26v3.67h-7.26zM153.92 126.97h3.63v3.67h-3.63zM128.50 130.64h7.26v3.67h-7.26zM157.55 130.64h3.63v3.67h-3.63zM117.60 134.30h10.90v3.67h-10.90zM157.55 134.30h3.63v3.67h-3.63zM164.81 134.30h3.63v3.67h-3.63zM117.60 137.97h10.90v3.67h-10.90zM153.92 137.97h7.26v3.67h-7.26zM164.81 137.97h3.63v3.67h-3.63zM150.29 141.64h3.63v3.67h-3.63zM150.29 145.31h3.63v3.67h-3.63zM161.18 148.98h3.63v3.67h-3.63zM135.76 156.31h7.26v3.67h-7.26zM157.55 156.31h10.90v3.67h-10.90zM128.50 159.98h3.63v3.67h-3.63zM190.24 159.98h3.63v3.67h-3.63zM150.29 163.65h3.63v3.67h-3.63zM190.24 163.65h3.63v3.67h-3.63zM124.86 170.99h3.63v3.67h-3.63zM117.60 174.65h3.63v3.67h-3.63zM117.60 178.32h7.26v3.67h-7.26zM121.23 181.99h3.63v3.67h-3.63zM153.92 181.99h7.26v3.67h-7.26zM121.23 185.66h3.63v3.67h-3.63zM153.92 185.66h7.26v3.67h-7.26zM121.23 189.33h3.63v3.67h-3.63zM153.92 189.33h7.26v3.67h-7.26zM121.23 193.00h3.63v3.67h-3.63zM153.92 193.00h7.26v3.67h-7.26zM121.23 196.66h3.63v3.67h-3.63zM153.92 196.66h3.63v3.67h-3.63zM121.23 200.33h3.63v3.67h-3.63zM153.92 200.33h7.26v3.67h-7.26z"/>
<path fill="#a5fa5a" d="M135.76 123.30h3.63v3.67h-3.63zM143.02 123.30h7.26v3.67h-7.26zM153.92 123.30h3.63v3.67h-3.63zM182.97 123.30h10.90v3.67h-10.90zM121.23 126.97h7.26v3.67h-7.26zM121.23 130.64h7.26v3.67h-7.26zM139.39 130.64h18.16v3.67h-18.16zM190.24 130.64h3.63v3.67h-3.63zM132.13 137.97h3.63v3.67h-3.63zM135.76 141.64h3.63v3.67h-3.63zM146.65 141.64h3.63v3.67h-3.63zM186.60 141.64h3.63v3.67h-3.63zM139.39 145.31h3.63v3.67h-3.63zM164.81 145.31h3.63v3.67h-3.63zM186.60 145.31h7.26v3.67h-7.26zM117.60 148.98h3.63v3.67h-3.63zM124.86 148.98h3.63v3.67h-3.63zM143.02 148.98h3.63v3.67h-3.63zM182.97 148.98h14.53v3.67h-14.53zM117.60 152.65h3.63v3.67h-3.63zM135.76 152.65h3.63v3.67h-3.63zM146.65 152.65h3.63v3.67h-3.63zM153.92 152.65h3.63v3.67h-3.63zM179.34 152.65h18.16v3.67h-18.16zM124.86 156.31h3.63v3.67h-3.63zM150.29 156.31h3.63v3.67h-3.63zM146.65 159.98h3.63v3.67h-3.63zM153.92 159.98h7.26v3.67h-7.26zM164.81 159.98h7.26v3.67h-7.26zM164.81 163.65h7.26v3.67h-7.26zM117.60 167.32h3.63v3.67h-3.63zM161.18 167.32h3.63v3.67h-3.63zM168.45 167.32h3.63v3.67h-3.63zM139.39 170.99h3.63v3.67h-3.63zM164.81 170.99h3.63v3.67h-3.63zM161.18 174.65h7.26v3.67h-7.26zM143.02 181.99h3.63v3.67h-3.63zM175.71 181.99h3.63v3.67h-3.63zM143.02 185.66h3.63v3.67h-3.63zM179.34 185.66h3.63v3.67h-3.63zM139.39 189.33h7.26v3.67h-7.26zM182.97 189.33h3.63v3.67h-3.63zM135.76 193.00h10.90v3.67h-10.90zM186.60 193.00h3.63v3.67h-3.63zM124.86 196.66h3.63v3.67h-3.63zM135.76 196.66h10.90v3.67h-10.90zM190.24 196.66h3.63v3.67h-3.63zM139.39 200.33h7.26v3.67h-7.26zM193.87 200.33h3.63v3.67h-3.63z"/>
<path fill="#008cff" d="M164.81 126.97h7.26v3.67h-7.26zM150.29 167.32h3.63v3.67h-3.63zM121.23 170.99h3.63v3.67h-3.63zM150.29 170.99h3.63v3.67h-3.63zM121.23 174.65h3.63v3.67h-3.63zM157.55 196.66h3.63v3.67h-3.63z"/>
<path fill="#8c0000" d="M132.13 134.30h3.63v3.67h-3.63zM128.50 137.97h3.63v3.67h-3.63zM139.39 141.64h3.63v3.67h-3.63zM179.34 141.64h3.63v3.67h-3.63zM135.76 145.31h3.63v3.67h-3.63zM143.02 145.31h3.63v3.67h-3.63zM139.39 148.98h3.63v3.67h-3.63zM179.34 181.99h3.63v3.67h-3.63zM193.87 181.99h3.63v3.67h-3.63zM175.71 185.66h3.63v3.67h-3.63zM175.71 200.33h7.26v3.67h-7.26z"/>
<path fill="#00008c" d="M161.18 134.30h3.63v3.67h-3.63zM161.18 137.97h3.63v3.67h-3.63zM128.50 167.32h7.26v3.67h-7.26z"/>
<path fill="#eb1900" d="M193.87 141.64h3.63v3.67h-3.63zM135.76 148.98h3.63v3.67h-3.63zM146.65 148.98h3.63v3.67h-3.63zM172.08 170.99h3.63v3.67h-3.63zM172.08 174.65h3.63v3.67h-3.63zM164.81 178.32h7.26v3.67h-7.26zM182.97 181.99h10.90v3.67h-10.90zM135.76 185.66h3.63v3.67h-3.63zM182.97 185.66h3.63v3.67h-3.63zM190.24 185.66h7.26v3.67h-7.26zM175.71 189.33h7.26v3.67h-7.26zM186.60 189.33h10.90v3.67h-10.90zM175.71 193.00h3.63v3.67h-3.63zM182.97 193.00h3.63v3.67h-3.63zM190.24 193.00h3.63v3.67h-3.63zM175.71 196.66h14.53v3.67h-14.53zM135.76 200.33h3.63v3.67h-3.63zM182.97 200.33h3.63v3.67h-3.63z"/>
<path fill="#a5fa5a" d="M218.20 123.20h8.69v4.49h-8.69zM244.27 123.20h21.72v4.49h-21.72zM270.33 123.20h26.07v4.49h-26.07zM218.20 127.69h8.69v4.49h-8.69zM235.58 127.69h4.34v4.49h-4.34zM244.27 127.69h8.69v4.49h-8.69zM261.64 127.69h4.34v4.49h-4.34zM274.68 127.69h4.34v4.49h-4.34zM226.89 132.18h13.03v4.49h-13.03zM244.27 132.18h8.69v4.49h-8.69zM226.89 136.67h8.69v4.49h-8.69zM244.27 136.67h8.69v4.49h-8.69zM261.64 136.67h4.34v4.49h-4.34zM270.33 136.67h8.69v4.49h-8.69zM283.37 136.67h4.34v4.49h-4.34zM292.06 136.67h4.34v4.49h-4.34zM222.54 141.16h8.69v4.49h-8.69zM235.58 141.16h4.34v4.49h-4.34zM244.27 141.16h8.69v4.49h-8.69zM226.89 145.64h4.34v4.49h-4.34zM239.92 145.64h13.03v4.49h-13.03zM279.02 145.64h4.34v4.49h-4.34zM226.89 150.13h4.34v4.49h-4.34zM239.92 150.13h13.03v4.49h-13.03zM261.64 150.13h34.76v4.49h-34.76zM218.20 154.62h17.38v4.49h-17.38zM244.27 154.62h47.79v4.49h-47.79zM218.20 159.11h4.34v4.49h-4.34zM252.96 159.11h4.34v4.49h-4.34zM279.02 159.11h17.38v4.49h-17.38zM218.20 163.60h4.34v4.49h-4.34zM248.61 163.60h4.34v4.49h-4.34zM261.64 163.60h4.34v4.49h-4.34zM283.37 163.60h4.34v4.49h-4.34zM218.20 168.09h8.69v4.49h-8.69zM244.27 168.09h8.69v4.49h-8.69zM261.64 168.09h4.34v4.49h-4.34zM274.68 168.09h4.34v4.49h-4.34zM283.37 168.09h13.03v4.49h-13.03zM218.20 172.58h4.34v4.49h-4.34zM248.61 172.58h4.34v4.49h-4.34zM265.99 172.58h4.34v4.49h-4.34zM279.02 172.58h17.38v4.49h-17.38zM218.20 177.07h4.34v4.49h-4.34zM244.27 177.07h8.69v4.49h-8.69zM261.64 177.07h4.34v4.49h-4.34zM270.33 177.07h4.34v4.49h-4.34zM279.02 177.07h13.03v4.49h-13.03zM218.20 181.56h8.69v4.49h-8.69zM244.27 181.56h8.69v4.49h-8.69zM261.64 181.56h8.69v4.49h-8.69zM274.68 181.56h17.38v4.49h-17.38zM218.20 186.04h4.34v4.49h-4.34zM244.27 186.04h13.03v4.49h-13.03zM261.64 186.04h21.72v4.49h-21.72zM218.20 190.53h4.34v4.49h-4.34zM231.23 190.53h4.34v4.49h-4.34zM239.92 190.53h8.69v4.49h-8.69zM252.96 190.53h26.07v4.49h-26.07zM283.37 190.53h4.34v4.49h-4.34zM218.20 195.02h4.34v4.49h-4.34zM244.27 195.02h13.03v4.49h-13.03zM261.64 195.02h17.38v4.49h-17.38zM218.20 199.51h8.69v4.49h-8.69zM231.23 199.51h4.34v4.49h-4.34zM239.92 199.51h8.69v4.49h-8.69zM261.64 199.51h8.69v4.49h-8.69zM292.06 199.51h4.34v4.49h-4.34z"/>
<path fill="#0ae6ee" d="M226.89 123.20h4.34v4.49h-4.34zM218.20 132.18h4.34v4.49h-4.34zM252.96 132.18h4.34v4.49h-4.34zM265.99 132.18h13.03v4.49h-13.03zM252.96 136.67h4.34v4.49h-4.34zM257.30 141.16h4.34v4.49h-4.34zM274.68 141.16h8.69v4.49h-8.69zM287.71 141.16h8.69v4.49h-8.69zM261.64 145.64h4.34v4.49h-4.34zM222.54 159.11h13.03v4.49h-13.03zM235.58 163.60h8.69v4.49h-8.69zM239.92 168.09h4.34v4.49h-4.34zM231.23 172.58h4.34v4.49h-4.34zM239.92 172.58h4.34v4.49h-4.34zM239.92 177.07h4.34v4.49h-4.34zM226.89 181.56h4.34v4.49h-4.34zM235.58 181.56h4.34v4.49h-4.34zM226.89 186.04h4.34v4.49h-4.34zM235.58 186.04h4.34v4.49h-4.34zM235.58 195.02h4.34v4.49h-4.34zM235.58 199.51h4.34v4.49h-4.34z"/>
<path fill="#f0ee14" d="M231.23 123.20h4.34v4.49h-4.34zM226.89 127.69h4.34v4.49h-4.34zM270.33 127.69h4.34v4.49h-4.34zM283.37 127.69h4.34v4.49h-4.34zM292.06 127.69h4.34v4.49h-4.34zM222.54 132.18h4.34v4.49h-4.34zM218.20 136.67h4.34v4.49h-4.34zM235.58 136.67h4.34v4.49h-4.34zM279.02 136.67h4.34v4.49h-4.34zM231.23 141.16h4.34v4.49h-4.34zM270.33 141.16h4.34v4.49h-4.34zM287.71 145.64h4.34v4.49h-4.34zM218.20 150.13h8.69v4.49h-8.69zM231.23 150.13h8.69v4.49h-8.69zM235.58 154.62h8.69v4.49h-8.69zM292.06 154.62h4.34v4.49h-4.34zM265.99 159.11h8.69v4.49h-8.69zM274.68 163.60h4.34v4.49h-4.34zM252.96 172.58h4.34v4.49h-4.34zM222.54 177.07h4.34v4.49h-4.34zM231.23 177.07h8.69v4.49h-8.69zM292.06 177.07h4.34v4.49h-4.34zM252.96 181.56h8.69v4.49h-8.69zM292.06 181.56h4.34v4.49h-4.34zM283.37 186.04h4.34v4.49h-4.34zM222.54 190.53h4.34v4.49h-4.34zM248.61 190.53h4.34v4.49h-4.34zM279.02 190.53h4.34v4.49h-4.34zM222.54 195.02h4.34v4.49h-4.34zM239.92 195.02h4.34v4.49h-4.34zM248.61 199.51h8.69v4.49h-8.69zM270.33 199.51h8.69v4.49h-8.69z"/>
<path fill="#faa000" d="M235.58 123.20h8.69v4.49h-8.69zM239.92 127.69h4.34v4.49h-4.34zM257.30 127.69h4.34v4.49h-4.34zM279.02 127.69h4.34v4.49h-4.34zM287.71 127.69h4.34v4.49h-4.34zM218.20 141.16h4.34v4.49h-4.34zM218.20 145.64h4.34v4.49h-4.34zM257.30 150.13h4.34v4.49h-4.34zM261.64 159.11h4.34v4.49h-4.34zM274.68 159.11h4.34v4.49h-4.34zM222.54 163.60h4.34v4.49h-4.34zM244.27 163.60h4.34v4.49h-4.34zM279.02 163.60h4.34v4.49h-4.34zM252.96 168.09h4.34v4.49h-4.34zM265.99 168.09h4.34v4.49h-4.34zM261.64 172.58h4.34v4.49h-4.34zM252.96 177.07h4.34v4.49h-4.34zM222.54 186.04h4.34v4.49h-4.34zM231.23 186.04h4.34v4.49h-4.34zM257.30 186.04h4.34v4.49h-4.34zM292.06 195.02h4.34v4.49h-4.34zM287.71 199.51h4.34v4.49h-4.34z"/>
<path fill="#50f2b9" d="M265.99 123.20h4.34v4.49h-4.34zM252.96 127.69h4.34v4.49h-4.34zM265.99 127.69h4.34v4.49h-4.34zM239.92 132.18h4.34v4.49h-4.34zM257.30 132.18h8.69v4.49h-8.69zM279.02 132.18h17.38v4.49h-17.38zM265.99 136.67h4.34v4.49h-4.34zM261.64 141.16h8.69v4.49h-8.69zM283.37 141.16h4.34v4.49h-4.34zM270.33 145.64h8.69v4.49h-8.69zM283.37 145.64h4.34v4.49h-4.34zM292.06 145.64h4.34v4.49h-4.34zM252.96 150.13h4.34v4.49h-4.34zM244.27 159.11h8.69v4.49h-8.69zM226.89 163.60h4.34v4.49h-4.34zM257.30 163.60h4.34v4.49h-4.34zM265.99 163.60h4.34v4.49h-4.34zM226.89 168.09h13.03v4.49h-13.03zM257.30 168.09h4.34v4.49h-4.34zM270.33 168.09h4.34v4.49h-4.34zM279.02 168.09h4.34v4.49h-4.34zM222.54 172.58h8.69v4.49h-8.69zM235.58 172.58h4.34v4.49h-4.34zM244.27 172.58h4.34v4.49h-4.34zM257.30 172.58h4.34v4.49h-4.34zM270.33 172.58h8.69v4.49h-8.69zM226.89 177.07h4.34v4.49h-4.34zM265.99 177.07h4.34v4.49h-4.34zM231.23 181.56h4.34v4.49h-4.34zM239.92 181.56h4.34v4.49h-4.34zM239.92 186.04h4.34v4.49h-4.34zM226.89 190.53h4.34v4.49h-4.34zM235.58 190.53h4.34v4.49h-4.34zM287.71 190.53h4.34v4.49h-4.34zM226.89 195.02h4.34v4.49h-4.34zM283.37 195.02h8.69v4.49h-8.69zM226.89 199.51h4.34v4.49h-4.34z"/>
<path fill="#eb1900" d="M231.23 127.69h4.34v4.49h-4.34zM222.54 136.67h4.34v4.49h-4.34zM239.92 136.67h4.34v4.49h-4.34zM257.30 136.67h4.34v4.49h-4.34zM287.71 136.67h4.34v4.49h-4.34zM239.92 141.16h4.34v4.49h-4.34zM222.54 145.64h4.34v4.49h-4.34zM231.23 145.64h8.69v4.49h-8.69zM257.30 159.11h4.34v4.49h-4.34zM231.23 163.60h4.34v4.49h-4.34zM252.96 163.60h4.34v4.49h-4.34zM270.33 163.60h4.34v4.49h-4.34zM287.71 163.60h8.69v4.49h-8.69zM257.30 177.07h4.34v4.49h-4.34zM274.68 177.07h4.34v4.49h-4.34zM270.33 181.56h4.34v4.49h-4.34zM287.71 186.04h4.34v4.49h-4.34zM292.06 190.53h4.34v4.49h-4.34zM231.23 195.02h4.34v4.49h-4.34zM257.30 195.02h4.34v4.49h-4.34zM279.02 195.02h4.34v4.49h-4.34zM257.30 199.51h4.34v4.49h-4.34zM283.37 199.51h4.34v4.49h-4.34z"/>
<path fill="#008cff" d="M252.96 141.16h4.34v4.49h-4.34zM257.30 145.64h4.34v4.49h-4.34zM265.99 145.64h4.34v4.49h-4.34zM235.58 159.11h4.34v4.49h-4.34z"/>
<path fill="#00008c" d="M252.96 145.64h4.34v4.49h-4.34zM239.92 159.11h4.34v4.49h-4.34z"/>
<path fill="#8c0000" d="M292.06 186.04h4.34v4.49h-4.34zM279.02 199.51h4.34v4.49h-4.34z"/>
<path fill="#a5fa5a" d="M312.00 123.20h8.80v4.49h-8.80zM347.20 123.20h4.40v4.49h-4.40zM356.00 123.20h4.40v4.49h-4.40zM364.80 123.20h4.40v4.49h-4.40zM373.60 123.20h17.60v4.49h-17.60zM312.00 127.69h4.40v4.49h-4.40zM325.20 127.69h4.40v4.49h-4.40zM347.20 127.69h13.20v4.49h-13.20zM364.80 127.69h8.80v4.49h-8.80zM378.00 127.69h4.40v4.49h-4.40zM386.80 127.69h4.40v4.49h-4.40zM320.80 132.18h4.40v4.49h-4.40zM364.80 132.18h8.80v4.49h-8.80zM378.00 132.18h4.40v4.49h-4.40zM386.80 132.18h4.40v4.49h-4.40zM325.20 136.67h4.40v4.49h-4.40zM334.00 136.67h4.40v4.49h-4.40zM356.00 136.67h4.40v4.49h-4.40zM378.00 136.67h4.40v4.49h-4.40zM329.60 141.16h4.40v4.49h-4.40zM356.00 141.16h4.40v4.49h-4.40zM364.80 141.16h8.80v4.49h-8.80zM378.00 141.16h8.80v4.49h-8.80zM356.00 145.64h17.60v4.49h-17.60zM378.00 145.64h4.40v4.49h-4.40zM386.80 145.64h4.40v4.49h-4.40zM369.20 150.13h17.60v4.49h-17.60zM342.80 154.62h8.80v4.49h-8.80zM369.20 154.62h4.40v4.49h-4.40zM378.00 154.62h4.40v4.49h-4.40zM342.80 159.11h8.80v4.49h-8.80zM373.60 159.11h13.20v4.49h-13.20zM351.60 163.60h4.40v4.49h-4.40zM378.00 163.60h13.20v4.49h-13.20zM312.00 168.09h30.80v4.49h-30.80zM347.20 168.09h4.40v4.49h-4.40zM356.00 168.09h4.40v4.49h-4.40zM378.00 168.09h13.20v4.49h-13.20zM312.00 172.58h13.20v4.49h-13.20zM334.00 172.58h4.40v4.49h-4.40zM342.80 172.58h8.80v4.49h-8.80zM360.40 172.58h4.40v4.49h-4.40zM378.00 172.58h13.20v4.49h-13.20zM320.80 177.07h4.40v4.49h-4.40zM329.60 177.07h4.40v4.49h-4.40zM342.80 177.07h4.40v4.49h-4.40zM364.80 177.07h26.40v4.49h-26.40zM316.40 181.56h35.20v4.49h-35.20zM364.80 181.56h8.80v4.49h-8.80zM378.00 181.56h13.20v4.49h-13.20zM312.00 186.04h4.40v4.49h-4.40zM329.60 186.04h13.20v4.49h-13.20zM347.20 186.04h4.40v4.49h-4.40zM364.80 186.04h17.60v4.49h-17.60zM312.00 190.53h39.60v4.49h-39.60zM364.80 190.53h22.00v4.49h-22.00zM312.00 195.02h4.40v4.49h-4.40zM329.60 195.02h13.20v4.49h-13.20zM347.20 195.02h4.40v4.49h-4.40zM364.80 195.02h8.80v4.49h-8.80zM378.00 195.02h8.80v4.49h-8.80zM312.00 199.51h4.40v4.49h-4.40zM320.80 199.51h4.40v4.49h-4.40zM334.00 199.51h4.40v4.49h-4.40zM347.20 199.51h4.40v4.49h-4.40zM364.80 199.51h8.80v4.49h-8.80zM386.80 199.51h4.40v4.49h-4.40z"/>
<path fill="#f0ee14" d="M320.80 123.20h4.40v4.49h-4.40zM316.40 127.69h4.40v4.49h-4.40zM342.80 127.69h4.40v4.49h-4.40zM382.40 127.69h4.40v4.49h-4.40zM312.00 132.18h4.40v4.49h-4.40zM356.00 132.18h4.40v4.49h-4.40zM316.40 136.67h4.40v4.49h-4.40zM334.00 141.16h4.40v4.49h-4.40zM329.60 145.64h4.40v4.49h-4.40zM351.60 150.13h13.20v4.49h-13.20zM386.80 150.13h4.40v4.49h-4.40zM316.40 154.62h4.40v4.49h-4.40zM360.40 154.62h4.40v4.49h-4.40zM351.60 159.11h4.40v4.49h-4.40zM338.40 163.60h4.40v4.49h-4.40zM347.20 163.60h4.40v4.49h-4.40zM338.40 172.58h4.40v4.49h-4.40zM373.60 181.56h4.40v4.49h-4.40zM316.40 195.02h4.40v4.49h-4.40zM342.80 195.02h4.40v4.49h-4.40zM316.40 199.51h4.40v4.49h-4.40zM338.40 199.51h4.40v4.49h-4.40z"/>
<path fill="#faa000" d="M325.20 123.20h8.80v4.49h-8.80zM329.60 127.69h4.40v4.49h-4.40zM373.60 127.69h4.40v4.49h-4.40zM325.20 132.18h8.80v4.49h-8.80zM342.80 132.18h4.40v4.49h-4.40zM373.60 132.18h4.40v4.49h-4.40zM382.40 132.18h4.40v4.49h-4.40zM312.00 136.67h4.40v4.49h-4.40zM320.80 136.67h4.40v4.49h-4.40zM312.00 141.16h13.20v4.49h-13.20zM342.80 150.13h8.80v4.49h-8.80zM356.00 154.62h4.40v4.49h-4.40zM373.60 154.62h4.40v4.49h-4.40zM382.40 154.62h4.40v4.49h-4.40zM338.40 159.11h4.40v4.49h-4.40zM342.80 168.09h4.40v4.49h-4.40zM316.40 186.04h8.80v4.49h-8.80zM342.80 186.04h4.40v4.49h-4.40zM386.80 190.53h4.40v4.49h-4.40zM320.80 195.02h4.40v4.49h-4.40zM386.80 195.02h4.40v4.49h-4.40zM378.00 199.51h8.80v4.49h-8.80z"/>
<path fill="#50f2b9" d="M334.00 123.20h13.20v4.49h-13.20zM351.60 123.20h4.40v4.49h-4.40zM360.40 123.20h4.40v4.49h-4.40zM369.20 123.20h4.40v4.49h-4.40zM334.00 127.69h4.40v4.49h-4.40zM360.40 127.69h4.40v4.49h-4.40zM334.00 132.18h8.80v4.49h-8.80zM347.20 132.18h8.80v4.49h-8.80zM360.40 132.18h4.40v4.49h-4.40zM351.60 136.67h4.40v4.49h-4.40zM364.80 136.67h8.80v4.49h-8.80zM382.40 136.67h4.40v4.49h-4.40zM360.40 141.16h4.40v4.49h-4.40zM373.60 141.16h4.40v4.49h-4.40zM312.00 145.64h17.60v4.49h-17.60zM334.00 145.64h22.00v4.49h-22.00zM373.60 145.64h4.40v4.49h-4.40zM382.40 145.64h4.40v4.49h-4.40zM334.00 150.13h8.80v4.49h-8.80zM312.00 154.62h4.40v4.49h-4.40zM325.20 154.62h4.40v4.49h-4.40zM334.00 154.62h4.40v4.49h-4.40zM364.80 154.62h4.40v4.49h-4.40zM312.00 159.11h17.60v4.49h-17.60zM334.00 159.11h4.40v4.49h-4.40zM356.00 159.11h17.60v4.49h-17.60zM386.80 159.11h4.40v4.49h-4.40zM312.00 163.60h8.80v4.49h-8.80zM334.00 163.60h4.40v4.49h-4.40zM356.00 163.60h8.80v4.49h-8.80zM369.20 163.60h8.80v4.49h-8.80zM351.60 168.09h4.40v4.49h-4.40zM369.20 168.09h8.80v4.49h-8.80zM329.60 172.58h4.40v4.49h-4.40zM351.60 172.58h4.40v4.49h-4.40zM369.20 172.58h8.80v4.49h-8.80zM312.00 177.07h8.80v4.49h-8.80zM325.20 177.07h4.40v4.49h-4.40zM334.00 177.07h4.40v4.49h-4.40zM347.20 177.07h8.80v4.49h-8.80zM360.40 177.07h4.40v4.49h-4.40zM312.00 181.56h4.40v4.49h-4.40zM351.60 181.56h13.20v4.49h-13.20zM351.60 186.04h13.20v4.49h-13.20zM351.60 190.53h13.20v4.49h-13.20zM351.60 195.02h13.20v4.49h-13.20zM351.60 199.51h13.20v4.49h-13.20z"/>
<path fill="#eb1900" d="M320.80 127.69h4.40v4.49h-4.40zM316.40 132.18h4.40v4.49h-4.40zM329.60 136.67h4.40v4.49h-4.40zM325.20 141.16h4.40v4.49h-4.40zM320.80 154.62h4.40v4.49h-4.40zM338.40 154.62h4.40v4.49h-4.40zM386.80 154.62h4.40v4.49h-4.40zM360.40 168.09h4.40v4.49h-4.40zM356.00 172.58h4.40v4.49h-4.40zM382.40 186.04h4.40v4.49h-4.40zM373.60 195.02h4.40v4.49h-4.40zM342.80 199.51h4.40v4.49h-4.40z"/>
<path fill="#0ae6ee" d="M338.40 127.69h4.40v4.49h-4.40zM342.80 136.67h8.80v4.49h-8.80zM373.60 136.67h4.40v4.49h-4.40zM386.80 136.67h4.40v4.49h-4.40zM342.80 141.16h4.40v4.49h-4.40zM351.60 141.16h4.40v4.49h-4.40zM386.80 141.16h4.40v4.49h-4.40zM312.00 150.13h17.60v4.49h-17.60zM364.80 150.13h4.40v4.49h-4.40zM329.60 154.62h4.40v4.49h-4.40zM351.60 154.62h4.40v4.49h-4.40zM320.80 163.60h13.20v4.49h-13.20zM342.80 163.60h4.40v4.49h-4.40zM364.80 163.60h4.40v4.49h-4.40zM364.80 168.09h4.40v4.49h-4.40zM364.80 172.58h4.40v4.49h-4.40zM338.40 177.07h4.40v4.49h-4.40zM356.00 177.07h4.40v4.49h-4.40zM325.20 186.04h4.40v4.49h-4.40zM325.20 195.02h4.40v4.49h-4.40zM325.20 199.51h8.80v4.49h-8.80z"/>
<path fill="#008cff" d="M338.40 136.67h4.40v4.49h-4.40zM360.40 136.67h4.40v4.49h-4.40zM347.20 141.16h4.40v4.49h-4.40zM329.60 159.11h4.40v4.49h-4.40zM325.20 172.58h4.40v4.49h-4.40z"/>
<path fill="#00008c" d="M338.40 141.16h4.40v4.49h-4.40zM329.60 150.13h4.40v4.49h-4.40z"/>
<path fill="#8c0000" d="M386.80 186.04h4.40v4.49h-4.40zM373.60 199.51h4.40v4.49h-4.40z"/>
<path d="M40.51 22.3V103.2M18.8 44.36H98.4M62.22 22.3V103.2M18.8 66.43H98.4M65.84 22.3V103.2M18.8 70.10H98.4M69.45 22.3V103.2M18.8 73.78H98.4M76.69 22.3V103.2M18.8 81.14H98.4" stroke="#1a3a2a" stroke-width="0.4" stroke-opacity="0.4" fill="none"/>
<path d="M139.55 22.3V103.2M117.9 44.36H197.3M161.21 22.3V103.2M117.9 66.43H197.3M164.82 22.3V103.2M117.9 70.10H197.3M168.43 22.3V103.2M117.9 73.78H197.3M175.65 22.3V103.2M117.9 81.14H197.3" stroke="#1a3a2a" stroke-width="0.4" stroke-opacity="0.4" fill="none"/>
<path d="M234.59 21.9V103.5M217.25 40.03H295.3M238.93 21.9V103.5M217.25 44.57H295.3M256.27 21.9V103.5M217.25 62.70H295.3M260.61 21.9V103.5M217.25 67.23H295.3M277.96 21.9V103.5M217.25 85.37H295.3" stroke="#1a3a2a" stroke-width="0.4" stroke-opacity="0.4" fill="none"/>
<path d="M329.32 22.2V103.5M311.9 40.27H390.3M333.68 22.2V103.5M311.9 44.78H390.3M351.10 22.2V103.5M311.9 62.85H390.3M355.46 22.2V103.5M311.9 67.37H390.3M372.88 22.2V103.5M311.9 85.43H390.3" stroke="#1a3a2a" stroke-width="0.4" stroke-opacity="0.4" fill="none"/>
<path d="M30.44 123.5V204M19.5 134.48H99.75M45.03 123.5V204M19.5 149.11H99.75M55.98 123.5V204M19.5 160.09H99.75M77.86 123.5V204M19.5 182.05H99.75" stroke="#1a3a2a" stroke-width="0.4" stroke-opacity="0.4" fill="none"/>
<path d="M128.50 123.3V204M117.6 134.30H197.5M153.92 123.3V204M117.6 159.98H197.5M175.71 123.3V204M117.6 181.99H197.5" stroke="#1a3a2a" stroke-width="0.4" stroke-opacity="0.4" fill="none"/>
<path d="M248.61 123.2V204M218.2 154.62H296.4" stroke="#1a3a2a" stroke-width="0.4" stroke-opacity="0.4" fill="none"/>
<path d="M338.40 123.2V204M312.0 150.13H391.2M364.80 123.2V204M312.0 177.07H391.2" stroke="#1a3a2a" stroke-width="0.4" stroke-opacity="0.4" fill="none"/>
</g>
<g font-family="Liberation Sans" font-size="2.7" fill="#222" stroke="#222" stroke-width="0.12"><text x="18.20" y="25.04" text-anchor="end">16</text><text x="18.20" y="28.72" text-anchor="end">38</text><text x="18.20" y="32.39" text-anchor="end">35</text><text x="18.20" y="36.07" text-anchor="end">9</text><text x="18.20" y="39.75" text-anchor="end">24</text><text x="18.20" y="43.43" text-anchor="end">59</text><text x="18.20" y="47.10" text-anchor="end">39</text><text x="18.20" y="50.78" text-anchor="end">31</text><text x="18.20" y="54.46" text-anchor="end">41</text><text x="18.20" y="58.13" text-anchor="end">38</text><text x="18.20" y="61.81" text-anchor="end">5</text><text x="18.20" y="65.49" text-anchor="end">39</text><text x="18.20" y="69.17" text-anchor="end">1</text><text x="18.20" y="72.84" text-anchor="end">59</text><text x="18.20" y="76.52" text-anchor="end">54</text><text x="18.20" y="80.20" text-anchor="end">31</text><text x="18.20" y="83.88" text-anchor="end">17</text><text x="18.20" y="87.55" text-anchor="end">36</text><text x="18.20" y="91.23" text-anchor="end">15</text><text x="18.20" y="94.91" text-anchor="end">13</text><text x="18.20" y="98.58" text-anchor="end">46</text><text x="18.20" y="102.26" text-anchor="end">31</text><text x="117.30" y="25.04" text-anchor="end">35</text><text x="117.30" y="28.72" text-anchor="end">54</text><text x="117.30" y="32.39" text-anchor="end">36</text><text x="117.30" y="36.07" text-anchor="end">31</text><text x="117.30" y="39.75" text-anchor="end">26</text><text x="117.30" y="43.43" text-anchor="end">41</text><text x="117.30" y="47.10" text-anchor="end">56</text><text x="117.30" y="50.78" text-anchor="end">10</text><text x="117.30" y="54.46" text-anchor="end">15</text><text x="117.30" y="58.13" text-anchor="end">41</text><text x="117.30" y="61.81" text-anchor="end">10</text><text x="117.30" y="65.49" text-anchor="end">56</text><text x="117.30" y="69.17" text-anchor="end">60</text><text x="117.30" y="72.84" text-anchor="end">34</text><text x="117.30" y="76.52" text-anchor="end">25</text><text x="117.30" y="80.20" text-anchor="end">48</text><text x="117.30" y="83.88" text-anchor="end">1</text><text x="117.30" y="87.55" text-anchor="end">43</text><text x="117.30" y="91.23" text-anchor="end">50</text><text x="117.30" y="94.91" text-anchor="end">5</text><text x="117.30" y="98.58" text-anchor="end">11</text><text x="117.30" y="102.26" text-anchor="end">49</text><text x="216.65" y="25.07" text-anchor="end">38</text><text x="216.65" y="29.60" text-anchor="end">3</text><text x="216.65" y="34.13" text-anchor="end">20</text><text x="216.65" y="38.67" text-anchor="end">50</text><text x="216.65" y="43.20" text-anchor="end">2</text><text x="216.65" y="47.73" text-anchor="end">53</text><text x="216.65" y="52.27" text-anchor="end">56</text><text x="216.65" y="56.80" text-anchor="end">18</text><text x="216.65" y="61.33" text-anchor="end">31</text><text x="216.65" y="65.87" text-anchor="end">39</text><text x="216.65" y="70.40" text-anchor="end">47</text><text x="216.65" y="74.93" text-anchor="end">59</text><text x="216.65" y="79.47" text-anchor="end">57</text><text x="216.65" y="84.00" text-anchor="end">25</text><text x="216.65" y="88.53" text-anchor="end">46</text><text x="216.65" y="93.07" text-anchor="end">51</text><text x="216.65" y="97.60" text-anchor="end">59</text><text x="216.65" y="102.13" text-anchor="end">28</text><text x="311.30" y="25.36" text-anchor="end">26</text><text x="311.30" y="29.88" text-anchor="end">47</text><text x="311.30" y="34.39" text-anchor="end">52</text><text x="311.30" y="38.91" text-anchor="end">37</text><text x="311.30" y="43.42" text-anchor="end">29</text><text x="311.30" y="47.94" text-anchor="end">60</text><text x="311.30" y="52.46" text-anchor="end">9</text><text x="311.30" y="56.98" text-anchor="end">57</text><text x="311.30" y="61.49" text-anchor="end">24</text><text x="311.30" y="66.01" text-anchor="end">7</text><text x="311.30" y="70.53" text-anchor="end">3</text><text x="311.30" y="75.04" text-anchor="end">9</text><text x="311.30" y="79.56" text-anchor="end">32</text><text x="311.30" y="84.08" text-anchor="end">14</text><text x="311.30" y="88.59" text-anchor="end">17</text><text x="311.30" y="93.11" text-anchor="end">44</text><text x="311.30" y="97.63" text-anchor="end">28</text><text x="311.30" y="102.14" text-anchor="end">50</text><text x="18.90" y="126.23" text-anchor="end">41</text><text x="18.90" y="129.89" text-anchor="end">55</text><text x="18.90" y="133.55" text-anchor="end">20</text><text x="18.90" y="137.21" text-anchor="end">27</text><text x="18.90" y="140.87" text-anchor="end">33</text><text x="18.90" y="144.53" text-anchor="end">54</text><text x="18.90" y="148.18" text-anchor="end">25</text><text x="18.90" y="151.84" text-anchor="end">37</text><text x="18.90" y="155.50" text-anchor="end">23</text><text x="18.90" y="159.16" text-anchor="end">35</text><text x="18.90" y="162.82" text-anchor="end">38</text><text x="18.90" y="166.48" text-anchor="end">27</text><text x="18.90" y="170.14" text-anchor="end">38</text><text x="18.90" y="173.80" text-anchor="end">15</text><text x="18.90" y="177.46" text-anchor="end">58</text><text x="18.90" y="181.12" text-anchor="end">22</text><text x="18.90" y="184.78" text-anchor="end">44</text><text x="18.90" y="188.43" text-anchor="end">59</text><text x="18.90" y="192.09" text-anchor="end">60</text><text x="18.90" y="195.75" text-anchor="end">2</text><text x="18.90" y="199.41" text-anchor="end">55</text><text x="18.90" y="203.07" text-anchor="end">18</text><text x="22.22" y="205.40" transform="rotate(90 22.22 205.40)" fill="#8a6a50">43</text><text x="25.87" y="205.40" transform="rotate(90 25.87 205.40)" fill="#8a6a50">11</text><text x="29.52" y="205.40" transform="rotate(90 29.52 205.40)" fill="#8a6a50">56</text><text x="33.17" y="205.40" transform="rotate(90 33.17 205.40)" fill="#607090">35</text><text x="36.81" y="205.40" transform="rotate(90 36.81 205.40)" fill="#8a6a50">37</text><text x="40.46" y="205.40" transform="rotate(90 40.46 205.40)" fill="#a06070">46</text><text x="44.11" y="205.40" transform="rotate(90 44.11 205.40)" fill="#8a6a50">14</text><text x="47.76" y="205.40" transform="rotate(90 47.76 205.40)" fill="#8a6a50">54</text><text x="51.41" y="205.40" transform="rotate(90 51.41 205.40)" fill="#8a6a50">18</text><text x="55.05" y="205.40" transform="rotate(90 55.05 205.40)" fill="#607090">8</text><text x="58.70" y="205.40" transform="rotate(90 58.70 205.40)" fill="#a06070">31</text><text x="62.35" y="205.40" transform="rotate(90 62.35 205.40)" fill="#8a6a50">31</text><text x="66.00" y="205.40" transform="rotate(90 66.00 205.40)" fill="#a06070">23</text><text x="69.64" y="205.40" transform="rotate(90 69.64 205.40)" fill="#a06070">27</text><text x="73.29" y="205.40" transform="rotate(90 73.29 205.40)" fill="#a06070">2</text><text x="76.94" y="205.40" transform="rotate(90 76.94 205.40)" fill="#607090">28</text><text x="80.59" y="205.40" transform="rotate(90 80.59 205.40)" fill="#607090">56</text><text x="84.24" y="205.40" transform="rotate(90 84.24 205.40)" fill="#a06070">3</text><text x="87.88" y="205.40" transform="rotate(90 87.88 205.40)" fill="#8a6a50">40</text><text x="91.53" y="205.40" transform="rotate(90 91.53 205.40)" fill="#a06070">25</text><text x="95.18" y="205.40" transform="rotate(90 95.18 205.40)" fill="#8a6a50">38</text><text x="98.83" y="205.40" transform="rotate(90 98.83 205.40)" fill="#607090">36</text><text x="117.00" y="126.03" text-anchor="end">57</text><text x="117.00" y="129.70" text-anchor="end">60</text><text x="117.00" y="133.37" text-anchor="end">18</text><text x="117.00" y="137.04" text-anchor="end">33</text><text x="117.00" y="140.71" text-anchor="end">16</text><text x="117.00" y="144.38" text-anchor="end">3</text><text x="117.00" y="148.04" text-anchor="end">20</text><text x="117.00" y="151.71" text-anchor="end">1</text><text x="117.00" y="155.38" text-anchor="end">5</text><text x="117.00" y="159.05" text-anchor="end">7</text><text x="117.00" y="162.72" text-anchor="end">39</text><text x="117.00" y="166.38" text-anchor="end">35</text><text x="117.00" y="170.05" text-anchor="end">3</text><text x="117.00" y="173.72" text-anchor="end">13</text><text x="117.00" y="177.39" text-anchor="end">27</text><text x="117.00" y="181.06" text-anchor="end">19</text><text x="117.00" y="184.72" text-anchor="end">40</text><text x="117.00" y="188.39" text-anchor="end">17</text><text x="117.00" y="192.06" text-anchor="end">10</text><text x="117.00" y="195.73" text-anchor="end">45</text><text x="117.00" y="199.40" text-anchor="end">3</text><text x="117.00" y="203.07" text-anchor="end">56</text><text x="120.32" y="205.40" transform="rotate(90 120.32 205.40)" fill="#607090">21</text><text x="123.95" y="205.40" transform="rotate(90 123.95 205.40)" fill="#607090">9</text><text x="127.58" y="205.40" transform="rotate(90 127.58 205.40)" fill="#607090">25</text><text x="131.21" y="205.40" transform="rotate(90 131.21 205.40)" fill="#607090">56</text><text x="134.84" y="205.40" transform="rotate(90 134.84 205.40)" fill="#8a6a50">25</text><text x="138.47" y="205.40" transform="rotate(90 138.47 205.40)" fill="#8a6a50">56</text><text x="142.11" y="205.40" transform="rotate(90 142.11 205.40)" fill="#8a6a50">44</text><text x="145.74" y="205.40" transform="rotate(90 145.74 205.40)" fill="#8a6a50">7</text><text x="149.37" y="205.40" transform="rotate(90 149.37 205.40)" fill="#8a6a50">52</text><text x="153.00" y="205.40" transform="rotate(90 153.00 205.40)" fill="#8a6a50">18</text><text x="156.63" y="205.40" transform="rotate(90 156.63 205.40)" fill="#607090">41</text><text x="160.27" y="205.40" transform="rotate(90 160.27 205.40)" fill="#8a6a50">46</text><text x="163.90" y="205.40" transform="rotate(90 163.90 205.40)" fill="#a06070">60</text><text x="167.53" y="205.40" transform="rotate(90 167.53 205.40)" fill="#607090">28</text><text x="171.16" y="205.40" transform="rotate(90 171.16 205.40)" fill="#607090">34</text><text x="174.79" y="205.40" transform="rotate(90 174.79 205.40)" fill="#607090">36</text><text x="178.43" y="205.40" transform="rotate(90 178.43 205.40)" fill="#607090">1</text><text x="182.06" y="205.40" transform="rotate(90 182.06 205.40)" fill="#607090">38</text><text x="185.69" y="205.40" transform="rotate(90 185.69 205.40)" fill="#607090">2</text><text x="189.32" y="205.40" transform="rotate(90 189.32 205.40)" fill="#607090">40</text><text x="192.95" y="205.40" transform="rotate(90 192.95 205.40)" fill="#8a6a50">41</text><text x="196.58" y="205.40" transform="rotate(90 196.58 205.40)" fill="#a06070">4</text><text x="217.60" y="126.34" text-anchor="end">41</text><text x="217.60" y="130.83" text-anchor="end">41</text><text x="217.60" y="135.32" text-anchor="end">22</text><text x="217.60" y="139.81" text-anchor="end">30</text><text x="217.60" y="144.30" text-anchor="end">23</text><text x="217.60" y="148.79" text-anchor="end">44</text><text x="217.60" y="153.28" text-anchor="end">59</text><text x="217.60" y="157.77" text-anchor="end">23</text><text x="217.60" y="162.26" text-anchor="end">39</text><text x="217.60" y="166.74" text-anchor="end">46</text><text x="217.60" y="171.23" text-anchor="end">18</text><text x="217.60" y="175.72" text-anchor="end">48</text><text x="217.60" y="180.21" text-anchor="end">32</text><text x="217.60" y="184.70" text-anchor="end">2</text><text x="217.60" y="189.19" text-anchor="end">38</text><text x="217.60" y="193.68" text-anchor="end">4</text><text x="217.60" y="198.17" text-anchor="end">44</text><text x="217.60" y="202.66" text-anchor="end">2</text><text x="221.27" y="205.40" transform="rotate(90 221.27 205.40)" fill="#607090">17</text><text x="225.62" y="205.40" transform="rotate(90 225.62 205.40)" fill="#8a6a50">30</text><text x="229.96" y="205.40" transform="rotate(90 229.96 205.40)" fill="#607090">38</text><text x="234.31" y="205.40" transform="rotate(90 234.31 205.40)" fill="#8a6a50">21</text><text x="238.65" y="205.40" transform="rotate(90 238.65 205.40)" fill="#a06070">24</text><text x="242.99" y="205.40" transform="rotate(90 242.99 205.40)" fill="#a06070">21</text><text x="247.34" y="205.40" transform="rotate(90 247.34 205.40)" fill="#607090">55</text><text x="251.68" y="205.40" transform="rotate(90 251.68 205.40)" fill="#8a6a50">17</text><text x="256.03" y="205.40" transform="rotate(90 256.03 205.40)" fill="#607090">51</text><text x="260.37" y="205.40" transform="rotate(90 260.37 205.40)" fill="#607090">7</text><text x="264.72" y="205.40" transform="rotate(90 264.72 205.40)" fill="#a06070">37</text><text x="269.06" y="205.40" transform="rotate(90 269.06 205.40)" fill="#8a6a50">48</text><text x="273.41" y="205.40" transform="rotate(90 273.41 205.40)" fill="#a06070">20</text><text x="277.75" y="205.40" transform="rotate(90 277.75 205.40)" fill="#8a6a50">15</text><text x="282.09" y="205.40" transform="rotate(90 282.09 205.40)" fill="#8a6a50">52</text><text x="286.44" y="205.40" transform="rotate(90 286.44 205.40)" fill="#607090">16</text><text x="290.78" y="205.40" transform="rotate(90 290.78 205.40)" fill="#607090">12</text><text x="295.13" y="205.40" transform="rotate(90 295.13 205.40)" fill="#8a6a50">28</text><text x="311.40" y="126.34" text-anchor="end">42</text><text x="311.40" y="130.83" text-anchor="end">45</text><text x="311.40" y="135.32" text-anchor="end">7</text><text x="311.40" y="139.81" text-anchor="end">7</text><text x="311.40" y="144.30" text-anchor="end">39</text><text x="311.40" y="148.79" text-anchor="end">21</text><text x="311.40" y="153.28" text-anchor="end">22</text><text x="311.40" y="157.77" text-anchor="end">44</text><text x="311.40" y="162.26" text-anchor="end">54</text><text x="311.40" y="166.74" text-anchor="end">15</text><text x="311.40" y="171.23" text-anchor="end">29</text><text x="311.40" y="175.72" text-anchor="end">52</text><text x="311.40" y="180.21" text-anchor="end">55</text><text x="311.40" y="184.70" text-anchor="end">11</text><text x="311.40" y="189.19" text-anchor="end">6</text><text x="311.40" y="193.68" text-anchor="end">22</text><text x="311.40" y="198.17" text-anchor="end">48</text><text x="311.40" y="202.66" text-anchor="end">42</text><text x="315.10" y="205.40" transform="rotate(90 315.10 205.40)" fill="#a06070">57</text><text x="319.50" y="205.40" transform="rotate(90 319.50 205.40)" fill="#8a6a50">29</text><text x="323.90" y="205.40" transform="rotate(90 323.90 205.40)" fill="#607090">15</text><text x="328.30" y="205.40" transform="rotate(90 328.30 205.40)" fill="#a06070">3</text><text x="332.70" y="205.40" transform="rotate(90 332.70 205.40)" fill="#8a6a50">13</text><text x="337.10" y="205.40" transform="rotate(90 337.10 205.40)" fill="#607090">52</text><text x="341.50" y="205.40" transform="rotate(90 341.50 205.40)" fill="#8a6a50">12</text><text x="345.90" y="205.40" transform="rotate(90 345.90 205.40)" fill="#607090">22</text><text x="350.30" y="205.40" transform="rotate(90 350.30 205.40)" fill="#8a6a50">6</text><text x="354.70" y="205.40" transform="rotate(90 354.70 205.40)" fill="#8a6a50">23</text><text x="359.10" y="205.40" transform="rotate(90 359.10 205.40)" fill="#8a6a50">9</text><text x="363.50" y="205.40" transform="rotate(90 363.50 205.40)" fill="#607090">19</text><text x="367.90" y="205.40" transform="rotate(90 367.90 205.40)" fill="#8a6a50">51</text><text x="372.30" y="205.40" transform="rotate(90 372.30 205.40)" fill="#607090">30</text><text x="376.70" y="205.40" transform="rotate(90 376.70 205.40)" fill="#607090">41</text><text x="381.10" y="205.40" transform="rotate(90 381.10 205.40)" fill="#607090">19</text><text x="385.50" y="205.40" transform="rotate(90 385.50 205.40)" fill="#607090">37</text><text x="389.90" y="205.40" transform="rotate(90 389.90 205.40)" fill="#607090">3</text></g>
<g font-family="Liberation Sans" font-size="2.5" fill="#222" stroke="#222" stroke-width="0.1"><text x="12.20" y="25.52" transform="rotate(-90 12.20 25.52)" text-anchor="middle" textLength="5.33" lengthAdjust="spacingAndGlyphs">SC</text><text x="12.20" y="32.41" transform="rotate(-90 12.20 32.41)" text-anchor="middle" textLength="5.52" lengthAdjust="spacingAndGlyphs">AUD</text><text x="12.20" y="39.03" transform="rotate(-90 12.20 39.03)" text-anchor="middle" textLength="4.78" lengthAdjust="spacingAndGlyphs">SM</text><text x="12.20" y="50.80" transform="rotate(-90 12.20 50.80)" text-anchor="middle" textLength="4.78" lengthAdjust="spacingAndGlyphs">VIS</text><text x="12.20" y="66.98" transform="rotate(-90 12.20 66.98)" text-anchor="middle" textLength="24.64" lengthAdjust="spacingAndGlyphs">cognitive control</text><text x="12.20" y="93.46" transform="rotate(-90 12.20 93.46)" text-anchor="middle" textLength="5.52" lengthAdjust="spacingAndGlyphs">DMN</text><text x="111.30" y="25.52" transform="rotate(-90 111.30 25.52)" text-anchor="middle" textLength="5.33" lengthAdjust="spacingAndGlyphs">SC</text><text x="111.30" y="32.41" transform="rotate(-90 111.30 32.41)" text-anchor="middle" textLength="5.52" lengthAdjust="spacingAndGlyphs">AUD</text><text x="111.30" y="39.03" transform="rotate(-90 111.30 39.03)" text-anchor="middle" textLength="4.78" lengthAdjust="spacingAndGlyphs">SM</text><text x="111.30" y="50.80" transform="rotate(-90 111.30 50.80)" text-anchor="middle" textLength="4.78" lengthAdjust="spacingAndGlyphs">VIS</text><text x="111.30" y="66.98" transform="rotate(-90 111.30 66.98)" text-anchor="middle" textLength="24.64" lengthAdjust="spacingAndGlyphs">cognitive control</text><text x="111.30" y="93.46" transform="rotate(-90 111.30 93.46)" text-anchor="middle" textLength="5.52" lengthAdjust="spacingAndGlyphs">DMN</text><text x="210.65" y="24.62" transform="rotate(-90 210.65 24.62)" text-anchor="middle" textLength="4.53" lengthAdjust="spacingAndGlyphs">SC</text><text x="210.65" y="30.63" transform="rotate(-90 210.65 30.63)" text-anchor="middle" textLength="4.76" lengthAdjust="spacingAndGlyphs">AUD</text><text x="210.65" y="36.41" transform="rotate(-90 210.65 36.41)" text-anchor="middle" textLength="4.53" lengthAdjust="spacingAndGlyphs">SM</text><text x="210.65" y="44.79" transform="rotate(-90 210.65 44.79)" text-anchor="middle" textLength="5.89" lengthAdjust="spacingAndGlyphs">VIS</text><text x="210.65" y="60.21" transform="rotate(-90 210.65 60.21)" text-anchor="middle" textLength="19.49" lengthAdjust="spacingAndGlyphs">cognitive control</text><text x="210.65" y="78.11" transform="rotate(-90 210.65 78.11)" text-anchor="middle" textLength="7.25" lengthAdjust="spacingAndGlyphs">DMN</text><text x="210.65" y="89.90" transform="rotate(-90 210.65 89.90)" text-anchor="middle" textLength="9.97" lengthAdjust="spacingAndGlyphs">CB</text><text x="305.30" y="24.91" transform="rotate(-90 305.30 24.91)" text-anchor="middle" textLength="4.52" lengthAdjust="spacingAndGlyphs">SC</text><text x="305.30" y="30.89" transform="rotate(-90 305.30 30.89)" text-anchor="middle" textLength="4.74" lengthAdjust="spacingAndGlyphs">AUD</text><text x="305.30" y="36.65" transform="rotate(-90 305.30 36.65)" text-anchor="middle" textLength="4.52" lengthAdjust="spacingAndGlyphs">SM</text><text x="305.30" y="45.01" transform="rotate(-90 305.30 45.01)" text-anchor="middle" textLength="5.87" lengthAdjust="spacingAndGlyphs">VIS</text><text x="305.30" y="60.37" transform="rotate(-90 305.30 60.37)" text-anchor="middle" textLength="19.42" lengthAdjust="spacingAndGlyphs">cognitive control</text><text x="305.30" y="78.21" transform="rotate(-90 305.30 78.21)" text-anchor="middle" textLength="7.23" lengthAdjust="spacingAndGlyphs">DMN</text><text x="305.30" y="89.95" transform="rotate(-90 305.30 89.95)" text-anchor="middle" textLength="9.94" lengthAdjust="spacingAndGlyphs">CB</text></g>
<g font-family="Liberation Sans" font-size="2.6" fill="#222" stroke="#222" stroke-width="0.1"><text x="102.10" y="24.20">0.4</text><text x="102.10" y="36.52">0.3</text><text x="102.10" y="48.84">0.2</text><text x="102.10" y="61.15">0.1</text><text x="102.10" y="73.47">0</text><text x="102.10" y="85.79">-0.1</text><text x="102.10" y="98.11">-0.2</text><text x="200.80" y="24.20">0.4</text><text x="200.80" y="36.52">0.3</text><text x="200.80" y="48.84">0.2</text><text x="200.80" y="61.15">0.1</text><text x="200.80" y="73.47">0</text><text x="200.80" y="85.79">-0.1</text><text x="200.80" y="98.11">-0.2</text><text x="299.20" y="24.20">0.4</text><text x="299.20" y="36.55">0.3</text><text x="299.20" y="48.90">0.2</text><text x="299.20" y="61.25">0.1</text><text x="299.20" y="73.59">0</text><text x="299.20" y="85.94">-0.1</text><text x="299.20" y="98.29">-0.2</text><text x="394.40" y="24.20">0.4</text><text x="394.40" y="36.55">0.3</text><text x="394.40" y="48.90">0.2</text><text x="394.40" y="61.25">0.1</text><text x="394.40" y="73.59">0</text><text x="394.40" y="85.94">-0.1</text><text x="394.40" y="98.29">-0.2</text><text x="103.60" y="125.60">0.4</text><text x="103.60" y="137.81">0.3</text><text x="103.60" y="150.02">0.2</text><text x="103.60" y="162.24">0.1</text><text x="103.60" y="174.45">0</text><text x="103.60" y="186.66">-0.1</text><text x="103.60" y="198.87">-0.2</text><text x="201.40" y="125.40">0.4</text><text x="201.40" y="137.64">0.3</text><text x="201.40" y="149.88">0.2</text><text x="201.40" y="162.13">0.1</text><text x="201.40" y="174.37">0</text><text x="201.40" y="186.61">-0.1</text><text x="201.40" y="198.85">-0.2</text><text x="300.20" y="125.30">0.4</text><text x="300.20" y="137.56">0.3</text><text x="300.20" y="149.82">0.2</text><text x="300.20" y="162.07">0.1</text><text x="300.20" y="174.33">0</text><text x="300.20" y="186.59">-0.1</text><text x="300.20" y="198.85">-0.2</text><text x="395.30" y="125.30">0.4</text><text x="395.30" y="137.56">0.3</text><text x="395.30" y="149.82">0.2</text><text x="395.30" y="162.07">0.1</text><text x="395.30" y="174.33">0</text><text x="395.30" y="186.59">-0.1</text><text x="395.30" y="198.85">-0.2</text></g>
<rect x="98.8" y="22" width="1.9" height="81.3" fill="url(#jet)"/>
<rect x="197.4" y="22" width="2.0" height="81.3" fill="url(#jet)"/>
<rect x="295.6" y="22" width="2.2" height="81.5" fill="url(#jet)"/>
<rect x="390.6" y="22" width="2.4" height="81.5" fill="url(#jet)"/>
<rect x="100.0" y="123.4" width="2.2" height="80.6" fill="url(#jet)"/>
<rect x="197.8" y="123.2" width="2.2" height="80.8" fill="url(#jet)"/>
<rect x="296.6" y="123.1" width="2.2" height="80.9" fill="url(#jet)"/>
<rect x="391.5" y="123.1" width="2.4" height="80.9" fill="url(#jet)"/>
<g filter="url(#mblur)"><g transform="translate(0,0) scale(1.0,1.0)">
<g fill="#e6e6e6" stroke="#b4b4b4" stroke-width="0.55"><path d="M22,270 C26,268 36,270 46,273 C50,275 50,280 46,282 C40,285 30,285 25,282 C20,279 19,273 22,270Z"/><path d="M41,277 L49,278 L47.5,291 L42.5,291Z"/><path d="M16,258 C15,248 22,238 32,233 C40,229 48,227 56,228 C68,229 80,236 87,246 C92,253 92,262 88,266 C84,270 78,272 72,273 C68,275 64,277 58,278 C52,279 48,278 46,277 C40,276 30,274 24,270 C19,267 16,263 16,258Z"/></g>
<g fill="none" stroke="#c4c4c4" stroke-width="0.6"><path d="M24,244 C30,240 36,238 42,240"/><path d="M30,250 C38,246 46,246 52,249"/><path d="M44,232 C50,236 54,242 54,250"/><path d="M60,230 C62,238 64,244 70,248"/><path d="M70,234 C72,240 76,246 82,250"/><path d="M56,258 C64,256 74,256 84,258"/><path d="M50,266 C58,264 66,266 74,268"/><path d="M78,240 C80,246 84,252 90,254"/><path d="M20,256 C26,254 30,256 34,260"/><path d="M36,262 C44,260 50,262 56,266"/><path d="M64,238 C66,244 62,250 66,256"/><path d="M48,256 C52,252 58,252 62,256"/><path d="M26,238 C30,236 34,236 38,234"/><path d="M52,230 C56,232 58,236 58,240"/><path d="M82,244 C84,248 86,252 86,258"/><path d="M60,270 C66,270 72,272 76,271"/><path d="M24,274 C30,276 38,278 46,278"/><path d="M26,279 C32,281 40,282 46,281"/><path d="M30,266 C34,268 40,270 46,270"/><path d="M70,260 C76,262 82,262 86,262"/><path d="M50.6,254.6 Q47.8,255.6 44.9,255.6"/><path d="M31.3,252.5 Q27.8,253.8 28.4,257.1"/><path d="M65.1,257.1 Q67.0,255.6 68.7,258.4"/><path d="M31.7,240.6 Q34.3,242.6 37.5,241.0"/><path d="M55.4,258.2 Q55.2,259.4 55.4,262.8"/><path d="M78.5,261.1 Q78.8,260.4 81.2,264.0"/><path d="M73.2,247.6 Q73.0,250.3 68.3,249.4"/><path d="M83.5,250.7 Q78.6,251.4 78.0,250.9"/><path d="M74.1,241.9 Q78.9,243.7 79.2,242.9"/><path d="M26.5,240.8 Q30.0,239.7 30.5,241.8"/><path d="M58.3,249.7 Q59.3,251.8 64.0,252.4"/><path d="M26.4,248.5 Q30.7,251.1 30.4,250.7"/><path d="M39.9,268.9 Q43.9,270.8 44.3,271.3"/><path d="M33.4,241.4 Q30.3,240.4 29.3,243.8"/><path d="M24.5,255.6 Q26.2,257.0 29.1,258.7"/><path d="M87.1,251.3 Q84.6,252.1 85.3,256.4"/><path d="M36.0,238.4 Q31.8,242.6 30.7,242.3"/><path d="M81.5,256.6 Q79.8,260.4 82.6,259.6"/><path d="M35.2,261.0 Q38.2,261.8 40.2,264.7"/><path d="M30.6,261.7 Q33.3,263.8 35.4,262.4"/><path d="M62.2,242.3 Q57.5,241.6 57.6,243.2"/><path d="M50.1,232.7 Q52.8,231.8 54.7,234.7"/><path d="M44.1,269.2 Q41.7,269.8 37.5,269.5"/><path d="M52.7,262.1 Q52.8,264.7 57.0,266.9"/><path d="M71.1,269.6 Q70.2,273.4 66.4,273.1"/><path d="M43.3,260.1 Q39.4,262.4 36.2,261.8"/><path d="M80.2,255.2 Q79.5,257.5 78.1,258.8"/><path d="M23.8,258.1 Q21.2,257.6 16.3,258.2"/><path d="M70.9,255.6 Q69.5,259.3 72.3,260.6"/><path d="M52.6,240.1 Q51.5,243.9 49.1,243.5"/><path d="M39.7,259.8 Q43.6,261.6 43.4,261.8"/><path d="M49.8,269.2 Q50.0,270.9 53.3,273.2"/><path d="M81.4,246.9 Q78.9,248.7 80.0,250.5"/><path d="M37.9,237.4 Q36.9,238.8 38.7,241.0"/><path d="M63.1,251.7 Q67.5,253.6 67.1,256.0"/><path d="M69.0,255.1 Q68.6,255.4 73.1,259.2"/><path d="M50.7,231.1 Q46.8,229.7 46.5,232.9"/><path d="M63.3,249.6 Q63.5,254.1 60.7,253.9"/><path d="M67.3,238.8 Q65.0,240.3 67.7,242.1"/><path d="M69.4,237.9 Q72.2,239.4 73.0,240.7"/><path d="M62.2,263.3 Q65.4,263.6 64.6,268.0"/><path d="M27.4,250.0 Q25.3,252.8 24.4,254.9"/><path d="M86.0,250.4 Q86.0,253.5 83.8,253.4"/><path d="M64.2,261.6 Q69.6,265.6 70.2,264.9"/><path d="M56.7,264.8 Q60.5,266.3 60.7,269.3"/><path d="M24.0,249.4 Q23.3,249.5 22.8,254.3"/><path d="M75.6,237.6 Q75.6,238.0 79.1,242.0"/><path d="M55.2,261.8 Q54.5,262.9 49.3,264.1"/><path d="M33.9,253.2 Q36.8,255.2 38.2,257.0"/><path d="M78.7,254.6 Q82.0,258.2 81.8,257.8"/><path d="M33.0,267.4 Q30.3,266.1 26.9,267.9"/><path d="M56.6,252.1 Q58.3,253.6 55.3,254.9"/><path d="M46.8,265.2 Q47.2,265.1 45.7,269.3"/><path d="M56.8,248.2 Q51.8,248.4 49.2,248.9"/><path d="M27.1,249.1 Q23.8,249.6 20.8,252.0"/><path d="M31.8,257.2 Q31.0,255.2 27.4,257.9"/><path d="M32.0,240.0 Q29.8,242.1 29.0,243.1"/><path d="M25.6,262.2 Q27.1,261.4 31.1,263.8"/><path d="M56.2,249.2 Q57.4,249.3 58.3,252.9"/><path d="M32.7,257.8 Q33.2,260.3 30.1,261.7"/><path d="M79.7,240.2 Q79.2,241.2 74.7,243.9"/><path d="M40.7,270.6 Q45.7,270.5 46.9,274.1"/><path d="M35.2,262.0 Q38.4,262.7 38.2,264.2"/><path d="M74.9,235.5 Q73.5,236.3 76.9,240.0"/><path d="M67.1,270.1 Q64.9,271.5 62.7,270.4"/><path d="M54.2,260.2 Q54.0,258.7 57.7,261.8"/><path d="M57.7,252.7 Q55.7,252.7 56.7,255.8"/><path d="M51.3,263.6 Q52.9,265.1 54.3,267.2"/><path d="M68.5,267.1 Q72.1,267.8 73.4,269.3"/><path d="M32.0,237.3 Q33.9,240.2 31.9,240.1"/><path d="M68.7,267.9 Q68.1,269.7 66.5,271.5"/><path d="M36.6,270.1 Q35.7,271.4 31.7,273.7"/><path d="M68.0,263.8 Q67.1,262.9 63.9,266.4"/><path d="M42.6,250.6 Q46.0,251.3 48.0,250.8"/><path d="M66.0,244.9 Q64.6,246.2 62.9,248.7"/></g>
</g>
<ellipse cx="30" cy="261" rx="9.5" ry="10.5" fill="#a85a30" fill-opacity="0.45"/>
<path fill="none" stroke="#b8683c" stroke-width="0.45" stroke-opacity="0.8" stroke-linecap="round" d="M29.0,264.0L38.0,270.0M26.0,252.0L24.0,266.0M26.0,252.0L28.0,248.0M36.0,264.0L33.0,257.0M26.0,252.0L28.0,248.0M22.0,258.0L36.0,264.0M36.0,264.0L38.0,270.0M22.0,258.0L28.0,248.0M24.0,266.0L33.0,257.0M38.0,270.0L26.0,252.0M31.0,270.0L22.0,258.0M35.0,250.0L22.0,258.0M36.0,264.0L33.0,257.0M36.0,264.0L22.0,258.0M35.0,250.0L33.0,257.0M35.0,250.0L33.0,257.0M31.0,270.0L33.0,257.0M33.0,257.0L28.0,248.0M24.0,266.0L22.0,258.0M36.0,264.0L35.0,250.0M26.0,252.0L29.0,264.0M24.0,266.0L26.0,252.0M31.0,270.0L35.0,250.0M36.0,264.0L35.0,250.0M33.0,257.0L24.0,266.0M24.0,266.0L38.0,270.0M28.0,248.0L35.0,250.0M36.0,264.0L38.0,270.0M22.0,258.0L28.0,248.0M33.0,257.0L36.0,264.0M36.0,264.0L29.0,264.0M31.0,270.0L35.0,250.0M31.0,270.0L26.0,252.0M28.0,248.0L35.0,250.0M26.0,252.0L29.0,264.0M35.0,250.0L36.0,264.0M31.0,270.0L28.0,248.0M22.0,258.0L28.0,248.0M22.0,258.0L24.0,266.0M38.0,270.0L36.0,264.0"/>
<path fill="none" stroke="#c47a52" stroke-width="0.5" stroke-opacity="0.75" stroke-linecap="round" d="M52.5,228.5L22.0,258.0M52.5,228.5L35.0,250.0M52.5,228.5L36.0,264.0M46.5,238.0L38.0,270.0M46.5,238.0L28.0,248.0M46.5,238.0L35.0,250.0M36.0,232.5L36.0,264.0M52.5,228.5L35.0,250.0M52.5,228.5L36.0,264.0M36.0,232.5L28.0,248.0"/>
<path fill="none" stroke="#b07848" stroke-width="1.1" stroke-opacity="0.85" stroke-linecap="round" d="M46.5,238.0L22.0,258.0M39.7,255.3L52.5,228.5M39.7,255.3L44.0,232.0M44.0,232.0L29.0,264.0M46.5,238.0L44.0,232.0M46.5,238.0L36.0,232.5M39.7,255.3L22.0,258.0M39.7,255.3L29.0,264.0M39.7,255.3L46.5,238.0M44.0,232.0L22.0,258.0"/>
<path fill="none" stroke="#c48060" stroke-width="0.45" stroke-opacity="0.6" stroke-linecap="round" d="M36.0,232.5L76.0,266.0M46.5,238.0L86.0,262.0M52.5,228.5L82.0,256.0M36.0,232.5L88.0,258.0M52.5,228.5L80.0,264.5"/>
<path fill="none" stroke="#5aa6bc" stroke-width="0.5" stroke-opacity="0.75" stroke-linecap="round" d="M52.0,258.0L80.0,264.5M46.5,238.0L82.0,256.0M59.7,252.2L82.0,256.0M39.7,255.3L86.0,262.0M46.0,248.0L82.0,256.0M39.7,255.3L86.0,262.0M59.7,252.2L82.0,256.0M42.0,263.0L86.0,262.0M40.0,242.0L82.0,256.0M40.0,242.0L82.0,256.0M52.0,258.0L84.0,260.0M52.0,258.0L87.0,254.0M39.7,255.3L80.0,264.5M46.0,248.0L78.0,262.0M46.0,248.0L78.0,262.0M46.5,238.0L76.0,266.0M46.0,248.0L88.0,258.0M46.0,248.0L76.0,266.0M42.0,263.0L78.0,262.0M46.5,238.0L80.0,264.5M59.7,252.2L80.0,264.5M52.0,258.0L86.0,262.0M39.7,255.3L86.0,262.0M52.0,258.0L78.0,262.0M42.0,263.0L76.0,266.0M40.0,242.0L87.0,254.0M59.7,252.2L80.0,264.5M52.0,258.0L84.0,260.0M40.0,242.0L78.0,262.0M39.7,255.3L82.0,256.0M59.7,252.2L76.0,266.0M39.7,255.3L82.0,256.0M39.7,255.3L88.0,258.0M46.0,248.0L82.0,256.0M40.0,242.0L86.0,262.0M52.0,258.0L82.0,256.0M59.7,252.2L80.0,264.5M42.0,263.0L80.0,264.5M42.0,263.0L76.0,266.0M42.0,263.0L87.0,254.0M59.7,252.2L80.0,264.5M52.0,258.0L76.0,266.0M46.0,248.0L88.0,258.0M59.7,252.2L78.0,262.0M42.0,263.0L76.0,266.0M52.0,258.0L88.0,258.0M40.0,242.0L78.0,262.0M46.0,248.0L87.0,254.0M39.7,255.3L84.0,260.0M42.0,263.0L78.0,262.0M46.0,248.0L80.0,264.5M59.7,252.2L76.0,266.0M46.5,238.0L84.0,260.0M46.5,238.0L86.0,262.0M46.0,248.0L78.0,262.0M59.7,252.2L82.0,256.0M40.0,242.0L88.0,258.0M46.5,238.0L78.0,262.0M42.0,263.0L84.0,260.0M46.5,238.0L87.0,254.0"/>
<path fill="none" stroke="#4a9cb4" stroke-width="0.5" stroke-opacity="0.8" stroke-linecap="round" d="M42.0,263.0L52.0,258.0M39.7,255.3L46.0,248.0M59.7,252.2L46.0,248.0M42.0,263.0L52.0,258.0M46.0,248.0L40.0,242.0M42.0,263.0L46.5,238.0M46.0,248.0L40.0,242.0M46.0,248.0L40.0,242.0M39.7,255.3L42.0,263.0M59.7,252.2L44.0,232.0M40.0,242.0L52.5,228.5"/>
<path fill="none" stroke="#5aa8c0" stroke-width="0.4" stroke-opacity="0.7" stroke-linecap="round" d="M33.0,257.0L88.0,258.0M24.0,266.0L80.0,264.5M24.0,266.0L88.0,258.0M24.0,266.0L86.0,262.0M33.0,257.0L84.0,260.0M33.0,257.0L78.0,262.0M33.0,257.0L76.0,266.0M31.0,270.0L88.0,258.0"/>
<circle cx="52.5" cy="228.5" r="1.0" fill="#d8b060"/>
<circle cx="36" cy="232.5" r="0.9" fill="#d8b060"/>
<circle cx="46.5" cy="238" r="1.1" fill="#e8c030"/>
<circle cx="59.7" cy="252.2" r="1.1" fill="#e8c030"/>
<circle cx="39.7" cy="255.3" r="1.0" fill="#3a8a9a"/>
<circle cx="80" cy="264.5" r="0.9" fill="#2a5a7a"/>
<circle cx="88" cy="258" r="0.8" fill="#88c8d8"/>
<circle cx="28.7" cy="268" r="0.9" fill="#203070"/>
<g transform="translate(110,1)"><g transform="translate(0,0) scale(1.0,1.0)">
<g fill="#e6e6e6" stroke="#b4b4b4" stroke-width="0.55"><path d="M22,270 C26,268 36,270 46,273 C50,275 50,280 46,282 C40,285 30,285 25,282 C20,279 19,273 22,270Z"/><path d="M41,277 L49,278 L47.5,291 L42.5,291Z"/><path d="M16,258 C15,248 22,238 32,233 C40,229 48,227 56,228 C68,229 80,236 87,246 C92,253 92,262 88,266 C84,270 78,272 72,273 C68,275 64,277 58,278 C52,279 48,278 46,277 C40,276 30,274 24,270 C19,267 16,263 16,258Z"/></g>
<g fill="none" stroke="#c4c4c4" stroke-width="0.6"><path d="M24,244 C30,240 36,238 42,240"/><path d="M30,250 C38,246 46,246 52,249"/><path d="M44,232 C50,236 54,242 54,250"/><path d="M60,230 C62,238 64,244 70,248"/><path d="M70,234 C72,240 76,246 82,250"/><path d="M56,258 C64,256 74,256 84,258"/><path d="M50,266 C58,264 66,266 74,268"/><path d="M78,240 C80,246 84,252 90,254"/><path d="M20,256 C26,254 30,256 34,260"/><path d="M36,262 C44,260 50,262 56,266"/><path d="M64,238 C66,244 62,250 66,256"/><path d="M48,256 C52,252 58,252 62,256"/><path d="M26,238 C30,236 34,236 38,234"/><path d="M52,230 C56,232 58,236 58,240"/><path d="M82,244 C84,248 86,252 86,258"/><path d="M60,270 C66,270 72,272 76,271"/><path d="M24,274 C30,276 38,278 46,278"/><path d="M26,279 C32,281 40,282 46,281"/><path d="M30,266 C34,268 40,270 46,270"/><path d="M70,260 C76,262 82,262 86,262"/><path d="M50.6,254.6 Q47.8,255.6 44.9,255.6"/><path d="M31.3,252.5 Q27.8,253.8 28.4,257.1"/><path d="M65.1,257.1 Q67.0,255.6 68.7,258.4"/><path d="M31.7,240.6 Q34.3,242.6 37.5,241.0"/><path d="M55.4,258.2 Q55.2,259.4 55.4,262.8"/><path d="M78.5,261.1 Q78.8,260.4 81.2,264.0"/><path d="M73.2,247.6 Q73.0,250.3 68.3,249.4"/><path d="M83.5,250.7 Q78.6,251.4 78.0,250.9"/><path d="M74.1,241.9 Q78.9,243.7 79.2,242.9"/><path d="M26.5,240.8 Q30.0,239.7 30.5,241.8"/><path d="M58.3,249.7 Q59.3,251.8 64.0,252.4"/><path d="M26.4,248.5 Q30.7,251.1 30.4,250.7"/><path d="M39.9,268.9 Q43.9,270.8 44.3,271.3"/><path d="M33.4,241.4 Q30.3,240.4 29.3,243.8"/><path d="M24.5,255.6 Q26.2,257.0 29.1,258.7"/><path d="M87.1,251.3 Q84.6,252.1 85.3,256.4"/><path d="M36.0,238.4 Q31.8,242.6 30.7,242.3"/><path d="M81.5,256.6 Q79.8,260.4 82.6,259.6"/><path d="M35.2,261.0 Q38.2,261.8 40.2,264.7"/><path d="M30.6,261.7 Q33.3,263.8 35.4,262.4"/><path d="M62.2,242.3 Q57.5,241.6 57.6,243.2"/><path d="M50.1,232.7 Q52.8,231.8 54.7,234.7"/><path d="M44.1,269.2 Q41.7,269.8 37.5,269.5"/><path d="M52.7,262.1 Q52.8,264.7 57.0,266.9"/><path d="M71.1,269.6 Q70.2,273.4 66.4,273.1"/><path d="M43.3,260.1 Q39.4,262.4 36.2,261.8"/><path d="M80.2,255.2 Q79.5,257.5 78.1,258.8"/><path d="M23.8,258.1 Q21.2,257.6 16.3,258.2"/><path d="M70.9,255.6 Q69.5,259.3 72.3,260.6"/><path d="M52.6,240.1 Q51.5,243.9 49.1,243.5"/><path d="M39.7,259.8 Q43.6,261.6 43.4,261.8"/><path d="M49.8,269.2 Q50.0,270.9 53.3,273.2"/><path d="M81.4,246.9 Q78.9,248.7 80.0,250.5"/><path d="M37.9,237.4 Q36.9,238.8 38.7,241.0"/><path d="M63.1,251.7 Q67.5,253.6 67.1,256.0"/><path d="M69.0,255.1 Q68.6,255.4 73.1,259.2"/><path d="M50.7,231.1 Q46.8,229.7 46.5,232.9"/><path d="M63.3,249.6 Q63.5,254.1 60.7,253.9"/><path d="M67.3,238.8 Q65.0,240.3 67.7,242.1"/><path d="M69.4,237.9 Q72.2,239.4 73.0,240.7"/><path d="M62.2,263.3 Q65.4,263.6 64.6,268.0"/><path d="M27.4,250.0 Q25.3,252.8 24.4,254.9"/><path d="M86.0,250.4 Q86.0,253.5 83.8,253.4"/><path d="M64.2,261.6 Q69.6,265.6 70.2,264.9"/><path d="M56.7,264.8 Q60.5,266.3 60.7,269.3"/><path d="M24.0,249.4 Q23.3,249.5 22.8,254.3"/><path d="M75.6,237.6 Q75.6,238.0 79.1,242.0"/><path d="M55.2,261.8 Q54.5,262.9 49.3,264.1"/><path d="M33.9,253.2 Q36.8,255.2 38.2,257.0"/><path d="M78.7,254.6 Q82.0,258.2 81.8,257.8"/><path d="M33.0,267.4 Q30.3,266.1 26.9,267.9"/><path d="M56.6,252.1 Q58.3,253.6 55.3,254.9"/><path d="M46.8,265.2 Q47.2,265.1 45.7,269.3"/><path d="M56.8,248.2 Q51.8,248.4 49.2,248.9"/><path d="M27.1,249.1 Q23.8,249.6 20.8,252.0"/><path d="M31.8,257.2 Q31.0,255.2 27.4,257.9"/><path d="M32.0,240.0 Q29.8,242.1 29.0,243.1"/><path d="M25.6,262.2 Q27.1,261.4 31.1,263.8"/><path d="M56.2,249.2 Q57.4,249.3 58.3,252.9"/><path d="M32.7,257.8 Q33.2,260.3 30.1,261.7"/><path d="M79.7,240.2 Q79.2,241.2 74.7,243.9"/><path d="M40.7,270.6 Q45.7,270.5 46.9,274.1"/><path d="M35.2,262.0 Q38.4,262.7 38.2,264.2"/><path d="M74.9,235.5 Q73.5,236.3 76.9,240.0"/><path d="M67.1,270.1 Q64.9,271.5 62.7,270.4"/><path d="M54.2,260.2 Q54.0,258.7 57.7,261.8"/><path d="M57.7,252.7 Q55.7,252.7 56.7,255.8"/><path d="M51.3,263.6 Q52.9,265.1 54.3,267.2"/><path d="M68.5,267.1 Q72.1,267.8 73.4,269.3"/><path d="M32.0,237.3 Q33.9,240.2 31.9,240.1"/><path d="M68.7,267.9 Q68.1,269.7 66.5,271.5"/><path d="M36.6,270.1 Q35.7,271.4 31.7,273.7"/><path d="M68.0,263.8 Q67.1,262.9 63.9,266.4"/><path d="M42.6,250.6 Q46.0,251.3 48.0,250.8"/><path d="M66.0,244.9 Q64.6,246.2 62.9,248.7"/></g>
</g><ellipse cx="30" cy="261" rx="9.5" ry="10.5" fill="#a85a30" fill-opacity="0.45"/>
<path fill="none" stroke="#b8683c" stroke-width="0.45" stroke-opacity="0.8" stroke-linecap="round" d="M38.0,270.0L24.0,266.0M31.0,270.0L35.0,250.0M22.0,258.0L28.0,248.0M33.0,257.0L22.0,258.0M29.0,264.0L26.0,252.0M31.0,270.0L28.0,248.0M33.0,257.0L36.0,264.0M35.0,250.0L26.0,252.0M38.0,270.0L33.0,257.0M22.0,258.0L33.0,257.0M36.0,264.0L24.0,266.0M29.0,264.0L36.0,264.0M29.0,264.0L26.0,252.0M29.0,264.0L38.0,270.0M38.0,270.0L28.0,248.0M24.0,266.0L31.0,270.0M33.0,257.0L35.0,250.0M33.0,257.0L29.0,264.0M33.0,257.0L36.0,264.0M24.0,266.0L22.0,258.0M31.0,270.0L36.0,264.0M24.0,266.0L26.0,252.0M31.0,270.0L24.0,266.0M22.0,258.0L38.0,270.0M31.0,270.0L26.0,252.0M24.0,266.0L31.0,270.0M24.0,266.0L28.0,248.0M31.0,270.0L29.0,264.0M29.0,264.0L22.0,258.0M24.0,266.0L22.0,258.0M31.0,270.0L36.0,264.0M22.0,258.0L35.0,250.0M36.0,264.0L31.0,270.0M36.0,264.0L38.0,270.0M22.0,258.0L28.0,248.0M22.0,258.0L29.0,264.0M38.0,270.0L33.0,257.0M26.0,252.0L33.0,257.0"/>
<path fill="none" stroke="#c47a52" stroke-width="0.5" stroke-opacity="0.75" stroke-linecap="round" d="M44.0,232.0L31.0,270.0M46.5,238.0L35.0,250.0M46.5,238.0L28.0,248.0M36.0,232.5L38.0,270.0M46.5,238.0L24.0,266.0M36.0,232.5L36.0,264.0M36.0,232.5L33.0,257.0M46.5,238.0L35.0,250.0M46.5,238.0L29.0,264.0M46.5,238.0L24.0,266.0"/>
<path fill="none" stroke="#b07848" stroke-width="1.1" stroke-opacity="0.85" stroke-linecap="round" d="M59.7,252.2L22.0,258.0M36.0,232.5L46.5,238.0M59.7,252.2L46.5,238.0M46.5,238.0L52.5,228.5M36.0,232.5L26.0,252.0M52.5,228.5L26.0,252.0M59.7,252.2L46.5,238.0M44.0,232.0L52.5,228.5M59.7,252.2L36.0,232.5M36.0,232.5L22.0,258.0"/>
<path fill="none" stroke="#c48060" stroke-width="0.45" stroke-opacity="0.6" stroke-linecap="round" d="M42.0,263.0L78.0,262.0M36.0,232.5L76.0,266.0M40.0,242.0L84.0,260.0M39.7,255.3L87.0,254.0M46.0,248.0L86.0,262.0"/>
<path fill="none" stroke="#5aa6bc" stroke-width="0.5" stroke-opacity="0.75" stroke-linecap="round" d="M39.7,255.3L80.0,264.5M46.5,238.0L87.0,254.0M46.0,248.0L76.0,266.0M59.7,252.2L86.0,262.0M40.0,242.0L78.0,262.0M39.7,255.3L86.0,262.0M52.0,258.0L84.0,260.0M59.7,252.2L80.0,264.5M46.5,238.0L78.0,262.0M46.0,248.0L86.0,262.0M52.0,258.0L86.0,262.0M42.0,263.0L87.0,254.0M52.0,258.0L84.0,260.0M52.0,258.0L82.0,256.0M46.0,248.0L87.0,254.0M52.0,258.0L86.0,262.0M39.7,255.3L78.0,262.0M46.5,238.0L86.0,262.0M40.0,242.0L87.0,254.0M46.5,238.0L84.0,260.0M59.7,252.2L88.0,258.0M52.0,258.0L82.0,256.0M42.0,263.0L84.0,260.0M39.7,255.3L84.0,260.0M40.0,242.0L80.0,264.5M46.5,238.0L82.0,256.0M46.0,248.0L82.0,256.0M46.5,238.0L87.0,254.0M46.0,248.0L82.0,256.0M46.0,248.0L86.0,262.0M42.0,263.0L80.0,264.5M52.0,258.0L82.0,256.0M46.0,248.0L82.0,256.0M52.0,258.0L82.0,256.0M46.5,238.0L84.0,260.0M46.0,248.0L82.0,256.0M40.0,242.0L84.0,260.0M40.0,242.0L78.0,262.0M46.0,248.0L86.0,262.0M46.5,238.0L87.0,254.0M46.0,248.0L84.0,260.0M42.0,263.0L86.0,262.0M42.0,263.0L86.0,262.0M59.7,252.2L84.0,260.0M46.5,238.0L87.0,254.0M46.0,248.0L88.0,258.0M40.0,242.0L78.0,262.0M59.7,252.2L78.0,262.0M46.0,248.0L82.0,256.0M40.0,242.0L80.0,264.5M59.7,252.2L86.0,262.0M42.0,263.0L87.0,254.0M42.0,263.0L86.0,262.0M59.7,252.2L86.0,262.0M40.0,242.0L80.0,264.5M52.0,258.0L76.0,266.0M59.7,252.2L80.0,264.5M59.7,252.2L88.0,258.0M46.0,248.0L86.0,262.0M52.0,258.0L76.0,266.0"/>
<path fill="none" stroke="#4a9cb4" stroke-width="0.5" stroke-opacity="0.8" stroke-linecap="round" d="M42.0,263.0L39.7,255.3M52.0,258.0L52.5,228.5M46.0,248.0L36.0,232.5M40.0,242.0L44.0,232.0M39.7,255.3L44.0,232.0M59.7,252.2L52.0,258.0M39.7,255.3L40.0,242.0M52.0,258.0L42.0,263.0M52.0,258.0L59.7,252.2M40.0,242.0L46.5,238.0M46.0,248.0L39.7,255.3"/>
<path fill="none" stroke="#5aa8c0" stroke-width="0.4" stroke-opacity="0.7" stroke-linecap="round" d="M31.0,270.0L82.0,256.0M33.0,257.0L82.0,256.0M31.0,270.0L84.0,260.0M31.0,270.0L82.0,256.0M24.0,266.0L86.0,262.0M24.0,266.0L78.0,262.0M31.0,270.0L84.0,260.0M24.0,266.0L86.0,262.0"/>
<circle cx="52.5" cy="228.5" r="1.0" fill="#d8b060"/>
<circle cx="36" cy="232.5" r="0.9" fill="#d8b060"/>
<circle cx="46.5" cy="238" r="1.1" fill="#e8c030"/>
<circle cx="59.7" cy="252.2" r="1.1" fill="#e8c030"/>
<circle cx="39.7" cy="255.3" r="1.0" fill="#3a8a9a"/>
<circle cx="80" cy="264.5" r="0.9" fill="#2a5a7a"/>
<circle cx="88" cy="258" r="0.8" fill="#88c8d8"/>
<circle cx="28.7" cy="268" r="0.9" fill="#203070"/></g>
<g transform="translate(191.7,-1) scale(1.079,1)">
<g fill="#e6e6e6" stroke="#b4b4b4" stroke-width="0.55"><path d="M22,270 C26,268 36,270 46,273 C50,275 50,280 46,282 C40,285 30,285 25,282 C20,279 19,273 22,270Z"/><path d="M41,277 L49,278 L47.5,291 L42.5,291Z"/><path d="M16,258 C15,248 22,238 32,233 C40,229 48,227 56,228 C68,229 80,236 87,246 C92,253 92,262 88,266 C84,270 78,272 72,273 C68,275 64,277 58,278 C52,279 48,278 46,277 C40,276 30,274 24,270 C19,267 16,263 16,258Z"/></g>
<g fill="none" stroke="#c4c4c4" stroke-width="0.6"><path d="M24,244 C30,240 36,238 42,240"/><path d="M30,250 C38,246 46,246 52,249"/><path d="M44,232 C50,236 54,242 54,250"/><path d="M60,230 C62,238 64,244 70,248"/><path d="M70,234 C72,240 76,246 82,250"/><path d="M56,258 C64,256 74,256 84,258"/><path d="M50,266 C58,264 66,266 74,268"/><path d="M78,240 C80,246 84,252 90,254"/><path d="M20,256 C26,254 30,256 34,260"/><path d="M36,262 C44,260 50,262 56,266"/><path d="M64,238 C66,244 62,250 66,256"/><path d="M48,256 C52,252 58,252 62,256"/><path d="M26,238 C30,236 34,236 38,234"/><path d="M52,230 C56,232 58,236 58,240"/><path d="M82,244 C84,248 86,252 86,258"/><path d="M60,270 C66,270 72,272 76,271"/><path d="M24,274 C30,276 38,278 46,278"/><path d="M26,279 C32,281 40,282 46,281"/><path d="M30,266 C34,268 40,270 46,270"/><path d="M70,260 C76,262 82,262 86,262"/><path d="M50.6,254.6 Q47.8,255.6 44.9,255.6"/><path d="M31.3,252.5 Q27.8,253.8 28.4,257.1"/><path d="M65.1,257.1 Q67.0,255.6 68.7,258.4"/><path d="M31.7,240.6 Q34.3,242.6 37.5,241.0"/><path d="M55.4,258.2 Q55.2,259.4 55.4,262.8"/><path d="M78.5,261.1 Q78.8,260.4 81.2,264.0"/><path d="M73.2,247.6 Q73.0,250.3 68.3,249.4"/><path d="M83.5,250.7 Q78.6,251.4 78.0,250.9"/><path d="M74.1,241.9 Q78.9,243.7 79.2,242.9"/><path d="M26.5,240.8 Q30.0,239.7 30.5,241.8"/><path d="M58.3,249.7 Q59.3,251.8 64.0,252.4"/><path d="M26.4,248.5 Q30.7,251.1 30.4,250.7"/><path d="M39.9,268.9 Q43.9,270.8 44.3,271.3"/><path d="M33.4,241.4 Q30.3,240.4 29.3,243.8"/><path d="M24.5,255.6 Q26.2,257.0 29.1,258.7"/><path d="M87.1,251.3 Q84.6,252.1 85.3,256.4"/><path d="M36.0,238.4 Q31.8,242.6 30.7,242.3"/><path d="M81.5,256.6 Q79.8,260.4 82.6,259.6"/><path d="M35.2,261.0 Q38.2,261.8 40.2,264.7"/><path d="M30.6,261.7 Q33.3,263.8 35.4,262.4"/><path d="M62.2,242.3 Q57.5,241.6 57.6,243.2"/><path d="M50.1,232.7 Q52.8,231.8 54.7,234.7"/><path d="M44.1,269.2 Q41.7,269.8 37.5,269.5"/><path d="M52.7,262.1 Q52.8,264.7 57.0,266.9"/><path d="M71.1,269.6 Q70.2,273.4 66.4,273.1"/><path d="M43.3,260.1 Q39.4,262.4 36.2,261.8"/><path d="M80.2,255.2 Q79.5,257.5 78.1,258.8"/><path d="M23.8,258.1 Q21.2,257.6 16.3,258.2"/><path d="M70.9,255.6 Q69.5,259.3 72.3,260.6"/><path d="M52.6,240.1 Q51.5,243.9 49.1,243.5"/><path d="M39.7,259.8 Q43.6,261.6 43.4,261.8"/><path d="M49.8,269.2 Q50.0,270.9 53.3,273.2"/><path d="M81.4,246.9 Q78.9,248.7 80.0,250.5"/><path d="M37.9,237.4 Q36.9,238.8 38.7,241.0"/><path d="M63.1,251.7 Q67.5,253.6 67.1,256.0"/><path d="M69.0,255.1 Q68.6,255.4 73.1,259.2"/><path d="M50.7,231.1 Q46.8,229.7 46.5,232.9"/><path d="M63.3,249.6 Q63.5,254.1 60.7,253.9"/><path d="M67.3,238.8 Q65.0,240.3 67.7,242.1"/><path d="M69.4,237.9 Q72.2,239.4 73.0,240.7"/><path d="M62.2,263.3 Q65.4,263.6 64.6,268.0"/><path d="M27.4,250.0 Q25.3,252.8 24.4,254.9"/><path d="M86.0,250.4 Q86.0,253.5 83.8,253.4"/><path d="M64.2,261.6 Q69.6,265.6 70.2,264.9"/><path d="M56.7,264.8 Q60.5,266.3 60.7,269.3"/><path d="M24.0,249.4 Q23.3,249.5 22.8,254.3"/><path d="M75.6,237.6 Q75.6,238.0 79.1,242.0"/><path d="M55.2,261.8 Q54.5,262.9 49.3,264.1"/><path d="M33.9,253.2 Q36.8,255.2 38.2,257.0"/><path d="M78.7,254.6 Q82.0,258.2 81.8,257.8"/><path d="M33.0,267.4 Q30.3,266.1 26.9,267.9"/><path d="M56.6,252.1 Q58.3,253.6 55.3,254.9"/><path d="M46.8,265.2 Q47.2,265.1 45.7,269.3"/><path d="M56.8,248.2 Q51.8,248.4 49.2,248.9"/><path d="M27.1,249.1 Q23.8,249.6 20.8,252.0"/><path d="M31.8,257.2 Q31.0,255.2 27.4,257.9"/><path d="M32.0,240.0 Q29.8,242.1 29.0,243.1"/><path d="M25.6,262.2 Q27.1,261.4 31.1,263.8"/><path d="M56.2,249.2 Q57.4,249.3 58.3,252.9"/><path d="M32.7,257.8 Q33.2,260.3 30.1,261.7"/><path d="M79.7,240.2 Q79.2,241.2 74.7,243.9"/><path d="M40.7,270.6 Q45.7,270.5 46.9,274.1"/><path d="M35.2,262.0 Q38.4,262.7 38.2,264.2"/><path d="M74.9,235.5 Q73.5,236.3 76.9,240.0"/><path d="M67.1,270.1 Q64.9,271.5 62.7,270.4"/><path d="M54.2,260.2 Q54.0,258.7 57.7,261.8"/><path d="M57.7,252.7 Q55.7,252.7 56.7,255.8"/><path d="M51.3,263.6 Q52.9,265.1 54.3,267.2"/><path d="M68.5,267.1 Q72.1,267.8 73.4,269.3"/><path d="M32.0,237.3 Q33.9,240.2 31.9,240.1"/><path d="M68.7,267.9 Q68.1,269.7 66.5,271.5"/><path d="M36.6,270.1 Q35.7,271.4 31.7,273.7"/><path d="M68.0,263.8 Q67.1,262.9 63.9,266.4"/><path d="M42.6,250.6 Q46.0,251.3 48.0,250.8"/><path d="M66.0,244.9 Q64.6,246.2 62.9,248.7"/></g>
</g>
<ellipse cx="232" cy="256" rx="13" ry="14" fill="#b85848" fill-opacity="0.18"/>
<path fill="none" stroke="#c05548" stroke-width="0.45" stroke-opacity="0.75" stroke-linecap="round" d="M222.0,251.5L218.0,262.0M218.0,262.0L220.0,256.0M225.6,270.6L244.0,248.0M238.0,240.0L232.0,258.0M232.0,258.0L257.5,251.6M228.0,244.0L257.5,251.6M222.0,251.5L257.5,251.6M238.0,240.0L225.6,270.6M226.0,264.0L265.0,249.0M226.0,264.0L255.0,268.0M243.5,235.5L220.0,256.0M243.5,235.5L236.0,255.0M243.5,235.5L232.0,258.0M220.0,256.0L236.0,255.0M220.0,256.0L226.0,264.0M226.0,264.0L248.0,262.0M225.6,270.6L248.0,262.0M225.6,270.6L228.0,244.0M228.0,244.0L222.0,251.5M225.6,270.6L220.0,256.0M243.5,235.5L248.0,262.0M220.0,256.0L248.0,262.0M238.0,240.0L248.0,262.0M225.6,270.6L236.0,255.0M226.0,264.0L244.0,248.0M243.5,235.5L255.0,268.0M220.0,256.0L255.0,268.0M252.0,234.0L220.0,256.0M220.0,256.0L236.0,255.0M225.6,270.6L255.0,268.0M226.0,264.0L244.0,248.0M230.6,234.0L265.0,249.0M243.5,235.5L228.0,244.0M230.6,234.0L232.0,258.0M230.6,234.0L248.0,262.0M243.5,235.5L255.0,268.0M220.0,256.0L265.0,249.0M230.6,234.0L236.0,255.0M220.0,256.0L257.5,251.6M243.5,235.5L244.0,248.0M230.6,234.0L236.0,255.0M238.0,240.0L228.0,244.0M220.0,256.0L244.0,248.0M225.6,270.6L257.5,251.6M232.0,258.0L255.0,268.0M230.6,234.0L232.0,258.0M232.0,258.0L255.0,268.0M243.5,235.5L248.0,262.0M243.5,235.5L248.0,262.0M238.0,240.0L257.5,251.6M252.0,234.0L226.0,264.0M232.0,258.0L244.0,248.0M228.0,244.0L236.0,255.0M243.5,235.5L220.0,256.0M238.0,240.0L257.5,251.6M218.0,262.0L255.0,268.0M220.0,256.0L244.0,248.0M222.0,251.5L228.0,244.0M218.0,262.0L222.0,251.5M252.0,234.0L265.0,249.0M222.0,251.5L232.0,258.0M252.0,234.0L228.0,244.0M238.0,240.0L218.0,262.0M243.5,235.5L225.6,270.6M232.0,258.0L228.0,244.0M228.0,244.0L222.0,251.5M226.0,264.0L244.0,248.0M225.6,270.6L228.0,244.0M238.0,240.0L222.0,251.5M218.0,262.0L222.0,251.5"/>
<path fill="none" stroke="#c8685a" stroke-width="0.45" stroke-opacity="0.7" stroke-linecap="round" d="M218.0,262.0L283.0,261.0M236.0,255.0L281.0,259.8M232.0,258.0L276.0,270.6M220.0,256.0L286.0,256.0M222.0,251.5L270.0,266.0M218.0,262.0L276.0,270.6M232.0,258.0L283.0,261.0M222.0,251.5L281.0,259.8M228.0,244.0L281.0,259.8M238.0,240.0L270.0,266.0M222.0,251.5L281.0,259.8M265.0,249.0L286.0,256.0M218.0,262.0L281.0,259.8M248.0,262.0L286.0,256.0M232.0,258.0L270.0,266.0M230.6,234.0L283.0,261.0M238.0,240.0L283.0,261.0M222.0,251.5L270.0,266.0M232.0,258.0L286.0,256.0M248.0,262.0L270.0,266.0M255.0,268.0L281.0,259.8M232.0,258.0L281.0,259.8M243.5,235.5L281.0,259.8M257.5,251.6L283.0,261.0M232.0,258.0L283.0,261.0M243.5,235.5L283.0,261.0M232.0,258.0L276.0,270.6M220.0,256.0L283.0,261.0M265.0,249.0L276.0,270.6M255.0,268.0L283.0,261.0M230.6,234.0L276.0,270.6M265.0,249.0L283.0,261.0M243.5,235.5L283.0,261.0M230.6,234.0L286.0,256.0M236.0,255.0L281.0,259.8M257.5,251.6L281.0,259.8M255.0,268.0L283.0,261.0M232.0,258.0L283.0,261.0M248.0,262.0L270.0,266.0M220.0,256.0L283.0,261.0M255.0,268.0L283.0,261.0M230.6,234.0L283.0,261.0M228.0,244.0L283.0,261.0M220.0,256.0L276.0,270.6M228.0,244.0L276.0,270.6M222.0,251.5L286.0,256.0M265.0,249.0L270.0,266.0M252.0,234.0L286.0,256.0M248.0,262.0L276.0,270.6M226.0,264.0L270.0,266.0"/>
<path fill="none" stroke="#a87838" stroke-width="0.95" stroke-opacity="0.8" stroke-linecap="round" d="M238.0,240.0L248.0,262.0M230.6,234.0L257.5,251.6M257.5,251.6L230.6,234.0M238.0,240.0L248.0,262.0M257.5,251.6L252.0,234.0M230.6,234.0L265.0,249.0M238.0,240.0L218.0,262.0M230.6,234.0L248.0,262.0M230.6,234.0L257.5,251.6M252.0,234.0L222.0,251.5M265.0,249.0L218.0,262.0M252.0,234.0L230.6,234.0M265.0,249.0L225.6,270.6"/>
<path fill="none" stroke="#b08040" stroke-width="1.0" stroke-opacity="0.85" stroke-linecap="round" d="M222.0,251.5L225.6,270.6M222.0,251.5L230.6,234.0M257.5,251.6L265.0,249.0M243.5,235.5L257.5,251.6"/>
<path fill="none" stroke="#4ea4bc" stroke-width="0.6" stroke-opacity="0.85" stroke-linecap="round" d="M243.5,235.5L283.0,261.0M238.0,240.0L283.0,261.0M243.5,235.5L276.0,270.6M243.5,235.5L276.0,270.6M265.0,249.0L276.0,270.6M252.0,234.0L281.0,259.8M243.5,235.5L283.0,261.0M238.0,240.0L283.0,261.0M238.0,240.0L276.0,270.6M243.5,235.5L283.0,261.0"/>
<path fill="none" stroke="#5ab0c8" stroke-width="0.9" stroke-opacity="0.85" stroke-linecap="round" d="M255.0,241.0L281.0,259.8M262.0,240.0L283.0,261.0M250.0,238.0L278.0,258.0"/>
<circle cx="230.6" cy="234" r="1.0" fill="#c8a050"/>
<circle cx="243.5" cy="235.5" r="1.0" fill="#c8a050"/>
<circle cx="222" cy="251.5" r="0.9" fill="#c8a050"/>
<circle cx="236" cy="255" r="1.1" fill="#c03030"/>
<circle cx="257.5" cy="251.6" r="1.0" fill="#e0a030"/>
<circle cx="265" cy="249" r="0.8" fill="#c8a050"/>
<circle cx="225.6" cy="270.6" r="0.9" fill="#c8a050"/>
<circle cx="283" cy="261" r="0.9" fill="#c03040"/>
<circle cx="276" cy="270.6" r="0.9" fill="#c03040"/>
<circle cx="248" cy="262" r="0.7" fill="#c03040"/>
<g transform="translate(302.5,0) scale(1.03,1)">
<g fill="#e6e6e6" stroke="#b4b4b4" stroke-width="0.55"><path d="M22,270 C26,268 36,270 46,273 C50,275 50,280 46,282 C40,285 30,285 25,282 C20,279 19,273 22,270Z"/><path d="M41,277 L49,278 L47.5,291 L42.5,291Z"/><path d="M16,258 C15,248 22,238 32,233 C40,229 48,227 56,228 C68,229 80,236 87,246 C92,253 92,262 88,266 C84,270 78,272 72,273 C68,275 64,277 58,278 C52,279 48,278 46,277 C40,276 30,274 24,270 C19,267 16,263 16,258Z"/></g>
<g fill="none" stroke="#c4c4c4" stroke-width="0.6"><path d="M24,244 C30,240 36,238 42,240"/><path d="M30,250 C38,246 46,246 52,249"/><path d="M44,232 C50,236 54,242 54,250"/><path d="M60,230 C62,238 64,244 70,248"/><path d="M70,234 C72,240 76,246 82,250"/><path d="M56,258 C64,256 74,256 84,258"/><path d="M50,266 C58,264 66,266 74,268"/><path d="M78,240 C80,246 84,252 90,254"/><path d="M20,256 C26,254 30,256 34,260"/><path d="M36,262 C44,260 50,262 56,266"/><path d="M64,238 C66,244 62,250 66,256"/><path d="M48,256 C52,252 58,252 62,256"/><path d="M26,238 C30,236 34,236 38,234"/><path d="M52,230 C56,232 58,236 58,240"/><path d="M82,244 C84,248 86,252 86,258"/><path d="M60,270 C66,270 72,272 76,271"/><path d="M24,274 C30,276 38,278 46,278"/><path d="M26,279 C32,281 40,282 46,281"/><path d="M30,266 C34,268 40,270 46,270"/><path d="M70,260 C76,262 82,262 86,262"/><path d="M50.6,254.6 Q47.8,255.6 44.9,255.6"/><path d="M31.3,252.5 Q27.8,253.8 28.4,257.1"/><path d="M65.1,257.1 Q67.0,255.6 68.7,258.4"/><path d="M31.7,240.6 Q34.3,242.6 37.5,241.0"/><path d="M55.4,258.2 Q55.2,259.4 55.4,262.8"/><path d="M78.5,261.1 Q78.8,260.4 81.2,264.0"/><path d="M73.2,247.6 Q73.0,250.3 68.3,249.4"/><path d="M83.5,250.7 Q78.6,251.4 78.0,250.9"/><path d="M74.1,241.9 Q78.9,243.7 79.2,242.9"/><path d="M26.5,240.8 Q30.0,239.7 30.5,241.8"/><path d="M58.3,249.7 Q59.3,251.8 64.0,252.4"/><path d="M26.4,248.5 Q30.7,251.1 30.4,250.7"/><path d="M39.9,268.9 Q43.9,270.8 44.3,271.3"/><path d="M33.4,241.4 Q30.3,240.4 29.3,243.8"/><path d="M24.5,255.6 Q26.2,257.0 29.1,258.7"/><path d="M87.1,251.3 Q84.6,252.1 85.3,256.4"/><path d="M36.0,238.4 Q31.8,242.6 30.7,242.3"/><path d="M81.5,256.6 Q79.8,260.4 82.6,259.6"/><path d="M35.2,261.0 Q38.2,261.8 40.2,264.7"/><path d="M30.6,261.7 Q33.3,263.8 35.4,262.4"/><path d="M62.2,242.3 Q57.5,241.6 57.6,243.2"/><path d="M50.1,232.7 Q52.8,231.8 54.7,234.7"/><path d="M44.1,269.2 Q41.7,269.8 37.5,269.5"/><path d="M52.7,262.1 Q52.8,264.7 57.0,266.9"/><path d="M71.1,269.6 Q70.2,273.4 66.4,273.1"/><path d="M43.3,260.1 Q39.4,262.4 36.2,261.8"/><path d="M80.2,255.2 Q79.5,257.5 78.1,258.8"/><path d="M23.8,258.1 Q21.2,257.6 16.3,258.2"/><path d="M70.9,255.6 Q69.5,259.3 72.3,260.6"/><path d="M52.6,240.1 Q51.5,243.9 49.1,243.5"/><path d="M39.7,259.8 Q43.6,261.6 43.4,261.8"/><path d="M49.8,269.2 Q50.0,270.9 53.3,273.2"/><path d="M81.4,246.9 Q78.9,248.7 80.0,250.5"/><path d="M37.9,237.4 Q36.9,238.8 38.7,241.0"/><path d="M63.1,251.7 Q67.5,253.6 67.1,256.0"/><path d="M69.0,255.1 Q68.6,255.4 73.1,259.2"/><path d="M50.7,231.1 Q46.8,229.7 46.5,232.9"/><path d="M63.3,249.6 Q63.5,254.1 60.7,253.9"/><path d="M67.3,238.8 Q65.0,240.3 67.7,242.1"/><path d="M69.4,237.9 Q72.2,239.4 73.0,240.7"/><path d="M62.2,263.3 Q65.4,263.6 64.6,268.0"/><path d="M27.4,250.0 Q25.3,252.8 24.4,254.9"/><path d="M86.0,250.4 Q86.0,253.5 83.8,253.4"/><path d="M64.2,261.6 Q69.6,265.6 70.2,264.9"/><path d="M56.7,264.8 Q60.5,266.3 60.7,269.3"/><path d="M24.0,249.4 Q23.3,249.5 22.8,254.3"/><path d="M75.6,237.6 Q75.6,238.0 79.1,242.0"/><path d="M55.2,261.8 Q54.5,262.9 49.3,264.1"/><path d="M33.9,253.2 Q36.8,255.2 38.2,257.0"/><path d="M78.7,254.6 Q82.0,258.2 81.8,257.8"/><path d="M33.0,267.4 Q30.3,266.1 26.9,267.9"/><path d="M56.6,252.1 Q58.3,253.6 55.3,254.9"/><path d="M46.8,265.2 Q47.2,265.1 45.7,269.3"/><path d="M56.8,248.2 Q51.8,248.4 49.2,248.9"/><path d="M27.1,249.1 Q23.8,249.6 20.8,252.0"/><path d="M31.8,257.2 Q31.0,255.2 27.4,257.9"/><path d="M32.0,240.0 Q29.8,242.1 29.0,243.1"/><path d="M25.6,262.2 Q27.1,261.4 31.1,263.8"/><path d="M56.2,249.2 Q57.4,249.3 58.3,252.9"/><path d="M32.7,257.8 Q33.2,260.3 30.1,261.7"/><path d="M79.7,240.2 Q79.2,241.2 74.7,243.9"/><path d="M40.7,270.6 Q45.7,270.5 46.9,274.1"/><path d="M35.2,262.0 Q38.4,262.7 38.2,264.2"/><path d="M74.9,235.5 Q73.5,236.3 76.9,240.0"/><path d="M67.1,270.1 Q64.9,271.5 62.7,270.4"/><path d="M54.2,260.2 Q54.0,258.7 57.7,261.8"/><path d="M57.7,252.7 Q55.7,252.7 56.7,255.8"/><path d="M51.3,263.6 Q52.9,265.1 54.3,267.2"/><path d="M68.5,267.1 Q72.1,267.8 73.4,269.3"/><path d="M32.0,237.3 Q33.9,240.2 31.9,240.1"/><path d="M68.7,267.9 Q68.1,269.7 66.5,271.5"/><path d="M36.6,270.1 Q35.7,271.4 31.7,273.7"/><path d="M68.0,263.8 Q67.1,262.9 63.9,266.4"/><path d="M42.6,250.6 Q46.0,251.3 48.0,250.8"/><path d="M66.0,244.9 Q64.6,246.2 62.9,248.7"/></g>
</g>
<g transform="translate(106,1)"><ellipse cx="232" cy="256" rx="13" ry="14" fill="#b85848" fill-opacity="0.18"/>
<path fill="none" stroke="#c05548" stroke-width="0.45" stroke-opacity="0.75" stroke-linecap="round" d="M220.0,256.0L225.6,270.6M226.0,264.0L265.0,249.0M222.0,251.5L218.0,262.0M243.5,235.5L218.0,262.0M220.0,256.0L257.5,251.6M222.0,251.5L248.0,262.0M228.0,244.0L222.0,251.5M218.0,262.0L226.0,264.0M226.0,264.0L218.0,262.0M228.0,244.0L218.0,262.0M243.5,235.5L226.0,264.0M222.0,251.5L257.5,251.6M218.0,262.0L228.0,244.0M238.0,240.0L265.0,249.0M252.0,234.0L222.0,251.5M252.0,234.0L257.5,251.6M226.0,264.0L222.0,251.5M228.0,244.0L222.0,251.5M243.5,235.5L225.6,270.6M232.0,258.0L226.0,264.0M225.6,270.6L248.0,262.0M218.0,262.0L257.5,251.6M232.0,258.0L248.0,262.0M238.0,240.0L225.6,270.6M218.0,262.0L257.5,251.6M252.0,234.0L265.0,249.0M228.0,244.0L220.0,256.0M218.0,262.0L248.0,262.0M218.0,262.0L257.5,251.6M222.0,251.5L257.5,251.6M228.0,244.0L236.0,255.0M238.0,240.0L248.0,262.0M226.0,264.0L255.0,268.0M220.0,256.0L236.0,255.0M252.0,234.0L236.0,255.0M220.0,256.0L232.0,258.0M228.0,244.0L255.0,268.0M225.6,270.6L244.0,248.0M228.0,244.0L218.0,262.0M252.0,234.0L232.0,258.0M243.5,235.5L236.0,255.0M220.0,256.0L244.0,248.0M230.6,234.0L232.0,258.0M252.0,234.0L218.0,262.0M218.0,262.0L248.0,262.0M226.0,264.0L225.6,270.6M220.0,256.0L225.6,270.6M230.6,234.0L226.0,264.0M222.0,251.5L265.0,249.0M218.0,262.0L255.0,268.0M243.5,235.5L257.5,251.6M220.0,256.0L257.5,251.6M230.6,234.0L257.5,251.6M230.6,234.0L218.0,262.0M218.0,262.0L232.0,258.0M230.6,234.0L244.0,248.0M238.0,240.0L218.0,262.0M222.0,251.5L244.0,248.0M232.0,258.0L265.0,249.0M252.0,234.0L265.0,249.0M230.6,234.0L232.0,258.0M226.0,264.0L265.0,249.0M220.0,256.0L222.0,251.5M230.6,234.0L220.0,256.0M225.6,270.6L257.5,251.6M218.0,262.0L236.0,255.0M222.0,251.5L228.0,244.0M232.0,258.0L225.6,270.6M228.0,244.0L226.0,264.0M226.0,264.0L236.0,255.0M218.0,262.0L225.6,270.6M230.6,234.0L226.0,264.0M243.5,235.5L232.0,258.0M225.6,270.6L226.0,264.0"/>
<path fill="none" stroke="#c8685a" stroke-width="0.45" stroke-opacity="0.7" stroke-linecap="round" d="M243.5,235.5L270.0,266.0M236.0,255.0L270.0,266.0M230.6,234.0L276.0,270.6M225.6,270.6L276.0,270.6M232.0,258.0L276.0,270.6M230.6,234.0L283.0,261.0M244.0,248.0L286.0,256.0M220.0,256.0L281.0,259.8M252.0,234.0L283.0,261.0M232.0,258.0L270.0,266.0M236.0,255.0L286.0,256.0M238.0,240.0L276.0,270.6M255.0,268.0L286.0,256.0M218.0,262.0L270.0,266.0M248.0,262.0L270.0,266.0M248.0,262.0L270.0,266.0M228.0,244.0L270.0,266.0M248.0,262.0L283.0,261.0M226.0,264.0L283.0,261.0M226.0,264.0L270.0,266.0M220.0,256.0L283.0,261.0M238.0,240.0L286.0,256.0M218.0,262.0L283.0,261.0M222.0,251.5L286.0,256.0M232.0,258.0L286.0,256.0M228.0,244.0L281.0,259.8M222.0,251.5L283.0,261.0M226.0,264.0L286.0,256.0M248.0,262.0L276.0,270.6M243.5,235.5L281.0,259.8M236.0,255.0L270.0,266.0M228.0,244.0L283.0,261.0M244.0,248.0L270.0,266.0M244.0,248.0L270.0,266.0M252.0,234.0L283.0,261.0M232.0,258.0L283.0,261.0M238.0,240.0L281.0,259.8M244.0,248.0L276.0,270.6M255.0,268.0L283.0,261.0M226.0,264.0L286.0,256.0M236.0,255.0L276.0,270.6M222.0,251.5L286.0,256.0M252.0,234.0L283.0,261.0M243.5,235.5L286.0,256.0M236.0,255.0L276.0,270.6M236.0,255.0L276.0,270.6M255.0,268.0L281.0,259.8M230.6,234.0L286.0,256.0M226.0,264.0L276.0,270.6M248.0,262.0L276.0,270.6"/>
<path fill="none" stroke="#a87838" stroke-width="0.95" stroke-opacity="0.8" stroke-linecap="round" d="M243.5,235.5L248.0,262.0M238.0,240.0L218.0,262.0M265.0,249.0L230.6,234.0M230.6,234.0L222.0,251.5M238.0,240.0L222.0,251.5M243.5,235.5L257.5,251.6M252.0,234.0L236.0,255.0M265.0,249.0L218.0,262.0M252.0,234.0L243.5,235.5M243.5,235.5L236.0,255.0M243.5,235.5L218.0,262.0M243.5,235.5L236.0,255.0"/>
<path fill="none" stroke="#b08040" stroke-width="1.0" stroke-opacity="0.85" stroke-linecap="round" d="M222.0,251.5L225.6,270.6M222.0,251.5L230.6,234.0M257.5,251.6L265.0,249.0M243.5,235.5L257.5,251.6"/>
<path fill="none" stroke="#4ea4bc" stroke-width="0.6" stroke-opacity="0.85" stroke-linecap="round" d="M243.5,235.5L276.0,270.6M238.0,240.0L281.0,259.8M243.5,235.5L281.0,259.8M243.5,235.5L276.0,270.6M252.0,234.0L276.0,270.6M252.0,234.0L276.0,270.6M238.0,240.0L283.0,261.0M265.0,249.0L276.0,270.6M265.0,249.0L281.0,259.8M243.5,235.5L281.0,259.8"/>
<path fill="none" stroke="#5ab0c8" stroke-width="0.9" stroke-opacity="0.85" stroke-linecap="round" d="M255.0,241.0L281.0,259.8M262.0,240.0L283.0,261.0M250.0,238.0L278.0,258.0"/>
<circle cx="230.6" cy="234" r="1.0" fill="#c8a050"/>
<circle cx="243.5" cy="235.5" r="1.0" fill="#c8a050"/>
<circle cx="222" cy="251.5" r="0.9" fill="#c8a050"/>
<circle cx="236" cy="255" r="1.1" fill="#c03030"/>
<circle cx="257.5" cy="251.6" r="1.0" fill="#e0a030"/>
<circle cx="265" cy="249" r="0.8" fill="#c8a050"/>
<circle cx="225.6" cy="270.6" r="0.9" fill="#c8a050"/>
<circle cx="283" cy="261" r="0.9" fill="#c03040"/>
<circle cx="276" cy="270.6" r="0.9" fill="#c03040"/>
<circle cx="248" cy="262" r="0.7" fill="#c03040"/></g>
<circle cx="331" cy="269.5" r="1.1" fill="#70a040"/><circle cx="347.5" cy="267" r="0.9" fill="#70a040"/><circle cx="388.7" cy="260.7" r="0.9" fill="#d06080"/></g>
<text x="8.8" y="299" font-family="Liberation Sans" font-weight="normal" font-size="6.4" fill="#111" textLength="35.9" lengthAdjust="spacingAndGlyphs" stroke="#111" stroke-width="0.15">Q value = 0.27</text>
<text x="157.8" y="299" font-family="Liberation Sans" font-weight="normal" font-size="6.4" fill="#111" textLength="35.7" lengthAdjust="spacingAndGlyphs" stroke="#111" stroke-width="0.15">Q value = 0.29</text>
<text x="212.8" y="298.3" font-family="Liberation Serif" font-weight="bold" font-size="6.0" fill="#111" textLength="35" lengthAdjust="spacingAndGlyphs">Q value = 0.26</text>
<text x="339.5" y="298.5" font-family="Liberation Serif" font-weight="bold" font-size="6.0" fill="#111" textLength="34" lengthAdjust="spacingAndGlyphs">Q value = 0.25</text>
<rect x="47.5" y="287.2" width="99.19999999999999" height="13.0" fill="#fff" stroke="#999" stroke-width="0.5"/>
<circle cx="51.5" cy="291" r="2.5" fill="#e8283c"/>
<text x="54.3" y="292.3" font-family="Liberation Serif" font-weight="bold" font-size="3.9" fill="#222" textLength="12" lengthAdjust="spacingAndGlyphs" stroke="#222" stroke-width="0.08">Module 1</text>
<circle cx="70.2" cy="291" r="2.5" fill="#f0c020"/>
<text x="73.2" y="292.3" font-family="Liberation Serif" font-weight="bold" font-size="3.9" fill="#222" textLength="12" lengthAdjust="spacingAndGlyphs" stroke="#222" stroke-width="0.08">Module 2</text>
<circle cx="90.6" cy="291" r="2.5" fill="#70b040"/>
<text x="93.5" y="292.3" font-family="Liberation Serif" font-weight="bold" font-size="3.9" fill="#222" textLength="12" lengthAdjust="spacingAndGlyphs" stroke="#222" stroke-width="0.08">Module 3</text>
<circle cx="111" cy="291" r="2.5" fill="#2070c0"/>
<text x="113.8" y="292.3" font-family="Liberation Serif" font-weight="bold" font-size="3.9" fill="#222" textLength="12.5" lengthAdjust="spacingAndGlyphs" stroke="#222" stroke-width="0.08">Module 4</text>
<circle cx="130.6" cy="291" r="2.5" fill="#203070"/>
<text x="133.5" y="292.3" font-family="Liberation Serif" font-weight="bold" font-size="3.9" fill="#222" textLength="12.5" lengthAdjust="spacingAndGlyphs" stroke="#222" stroke-width="0.08">Module 5</text>
<line x1="70.7" y1="297.8" x2="85" y2="297.8" stroke="#c07040" stroke-width="1.2"/>
<text x="85.7" y="299.2" font-family="Liberation Serif" font-weight="bold" font-size="3.9" fill="#222" textLength="12" lengthAdjust="spacingAndGlyphs" stroke="#222" stroke-width="0.08">Positive</text>
<line x1="101" y1="297.8" x2="114.5" y2="297.8" stroke="#80c0e0" stroke-width="1.2"/>
<text x="116" y="299.2" font-family="Liberation Serif" font-weight="bold" font-size="3.9" fill="#222" textLength="12.7" lengthAdjust="spacingAndGlyphs" stroke="#222" stroke-width="0.08">Negative</text>
<rect x="259" y="287.2" width="71.69999999999999" height="14.300000000000011" fill="#fff" stroke="#999" stroke-width="0.5"/>
<circle cx="262.9" cy="290.8" r="2.8" fill="#e8283c"/>
<text x="266.5" y="292.1" font-family="Liberation Serif" font-weight="bold" font-size="3.9" fill="#222" textLength="14.5" lengthAdjust="spacingAndGlyphs" stroke="#222" stroke-width="0.08">Module 1</text>
<circle cx="286.7" cy="290.8" r="2.8" fill="#f0c020"/>
<text x="290" y="292.1" font-family="Liberation Serif" font-weight="bold" font-size="3.9" fill="#222" textLength="15.5" lengthAdjust="spacingAndGlyphs" stroke="#222" stroke-width="0.08">Module 2</text>
<circle cx="311.5" cy="290.8" r="2.8" fill="#70b040"/>
<text x="314.5" y="292.1" font-family="Liberation Serif" font-weight="bold" font-size="3.9" fill="#222" textLength="16" lengthAdjust="spacingAndGlyphs" stroke="#222" stroke-width="0.08">Module 3</text>
<line x1="261.5" y1="298" x2="279.5" y2="298" stroke="#b05040" stroke-width="1.2"/>
<text x="279.7" y="299.4" font-family="Liberation Serif" font-weight="bold" font-size="3.9" fill="#222" textLength="12" lengthAdjust="spacingAndGlyphs" stroke="#222" stroke-width="0.08">Positive</text>
<line x1="296.2" y1="298" x2="313.5" y2="298" stroke="#80c0e0" stroke-width="1.2"/>
<text x="314" y="299.4" font-family="Liberation Serif" font-weight="bold" font-size="3.9" fill="#222" textLength="14.5" lengthAdjust="spacingAndGlyphs" stroke="#222" stroke-width="0.08">Negative</text>
</svg>
</body></html>
